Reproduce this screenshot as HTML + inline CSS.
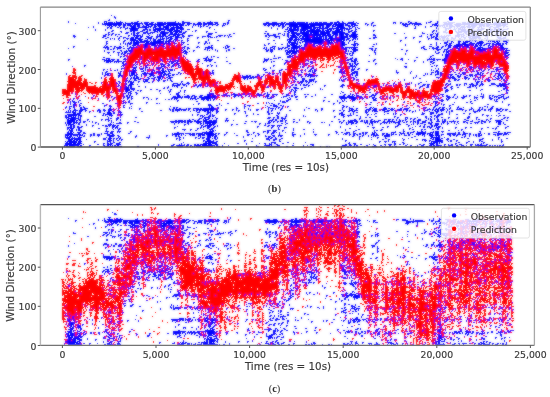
<!DOCTYPE html>
<html><head><meta charset="utf-8"><style>
html,body{margin:0;padding:0;background:#fff;}
svg{display:block;}
.t{font-family:"DejaVu Sans","Liberation Sans",sans-serif;fill:#383838;stroke:#383838;stroke-width:0.15px;}
.k{font-size:9.3px;}
.l{font-size:9.3px;}
.a{font-size:10.35px;}
.c{font-family:"Liberation Serif","DejaVu Serif",serif;font-size:10.5px;fill:#2a2a2a;}
</style></head><body>
<svg width="550" height="397" viewBox="0 0 550 397">
<defs><filter id="bl" x="0" y="0" width="550" height="397" filterUnits="userSpaceOnUse"><feGaussianBlur in="SourceGraphic" stdDeviation="0.8" result="b"/><feComposite in="SourceGraphic" in2="b" operator="arithmetic" k1="0" k2="0.45" k3="0.55" k4="0"/></filter></defs>
<rect width="550" height="397" fill="#fff"/>
<g filter="url(#bl)"><path d="M111 15h1m2 1h1m-1 1h2m-1 1h1m-7 1h1m-2 1h2m118 0h2m-162 1h1m35 0h3m9 0h1m3 0h1m16 0h2m36 0h1m6 0h2m26 0h1m17 0h1m64 0h1m43 0h2m3 0h1m10 0h1m54 0h2m20 0h2m5 0h2m8 0h2m21 0h2m-404 1h1m29 0h1m5 0h1m1 0h1m1 0h5m1 0h1m1 0h7m2 0h1m5 0h2m1 0h4m3 0h1m2 0h5m2 0h3m3 0h6m1 0h2m1 0h9m2 0h1m3 0h8m8 0h3m2 0h2m2 0h6m1 0h4m9 0h2m37 0h3m3 0h5m4 0h2m1 0h2m3 0h7m1 0h8m1 0h2m3 0h1m1 0h1m1 0h3m1 0h3m1 0h4m3 0h3m1 0h6m2 0h2m4 0h6m2 0h1m15 0h2m19 0h3m4 0h2m6 0h1m1 0h2m3 0h2m9 0h1m1 0h3m6 0h2m4 0h4m1 0h7m7 0h4m1 0h6m1 0h2m1 0h2m2 0h2m4 0h4m3 0h7m1 0h8m-435 1h1m22 0h1m3 0h1m1 0h18m1 0h1m1 0h18m1 0h4m1 0h4m2 0h1m1 0h24m1 0h3m2 0h5m1 0h2m2 0h5m1 0h10m2 0h3m5 0h3m1 0h2m34 0h22m1 0h22m1 0h24m1 0h3m1 0h8m1 0h9m1 0h2m6 0h2m4 0h2m20 0h1m1 0h1m4 0h1m1 0h2m1 0h2m2 0h12m5 0h1m8 0h3m6 0h9m3 0h5m1 0h21m1 0h5m1 0h1m2 0h13m1 0h1m-406 1h20m1 0h3m1 0h4m1 0h1m1 0h6m2 0h1m2 0h21m1 0h17m3 0h3m3 0h9m1 0h4m1 0h8m1 0h2m4 0h1m1 0h1m1 0h1m35 0h4m1 0h11m1 0h4m1 0h47m1 0h11m1 0h3m3 0h5m9 0h1m1 0h2m2 0h1m30 0h8m2 0h1m1 0h8m10 0h5m1 0h1m4 0h9m2 0h31m1 0h15m1 0h6m-403 1h1m1 0h5m1 0h4m1 0h3m2 0h3m1 0h5m1 0h3m1 0h3m3 0h1m2 0h3m2 0h2m1 0h2m1 0h7m2 0h12m1 0h5m1 0h2m1 0h1m4 0h1m1 0h1m2 0h1m1 0h1m2 0h2m3 0h1m3 0h1m3 0h2m4 0h3m39 0h2m1 0h3m2 0h3m1 0h1m1 0h3m1 0h2m1 0h1m3 0h9m1 0h10m1 0h14m2 0h5m1 0h2m1 0h9m1 0h5m1 0h2m1 0h4m9 0h1m3 0h1m1 0h3m27 0h3m1 0h1m6 0h1m3 0h1m13 0h1m1 0h11m1 0h2m1 0h4m2 0h6m3 0h1m3 0h2m1 0h6m2 0h6m1 0h4m4 0h1m1 0h10m-413 1h1m15 0h1m1 0h2m2 0h1m3 0h1m3 0h2m5 0h6m1 0h3m2 0h5m1 0h4m2 0h3m1 0h3m2 0h6m1 0h1m2 0h1m2 0h3m1 0h2m10 0h1m5 0h1m1 0h2m1 0h1m2 0h2m14 0h1m45 0h1m4 0h1m4 0h2m2 0h3m4 0h26m4 0h2m1 0h2m2 0h4m2 0h4m1 0h7m4 0h3m1 0h3m18 0h1m31 0h3m7 0h1m9 0h1m4 0h2m5 0h1m1 0h2m1 0h1m1 0h1m1 0h2m1 0h6m1 0h4m1 0h4m1 0h10m3 0h3m1 0h2m1 0h3m1 0h3m3 0h5m2 0h2m1 0h2m-420 1h1m4 0h1m13 0h2m1 0h2m5 0h2m1 0h2m1 0h2m2 0h1m3 0h5m2 0h11m1 0h1m2 0h3m3 0h2m2 0h6m2 0h12m9 0h1m7 0h1m8 0h2m60 0h1m10 0h2m3 0h2m1 0h2m1 0h6m2 0h11m1 0h8m1 0h2m1 0h4m3 0h1m3 0h9m4 0h1m2 0h1m2 0h1m1 0h1m57 0h1m9 0h1m10 0h1m6 0h3m3 0h3m2 0h1m2 0h1m2 0h6m1 0h4m1 0h3m2 0h3m1 0h1m7 0h2m2 0h6m4 0h1m-397 1h1m2 0h2m8 0h1m4 0h3m1 0h10m6 0h2m6 0h1m1 0h9m1 0h4m1 0h5m1 0h8m25 0h1m61 0h1m5 0h1m4 0h1m4 0h1m1 0h3m1 0h3m1 0h2m2 0h11m1 0h3m1 0h1m1 0h9m1 0h10m1 0h8m1 0h3m3 0h1m2 0h2m54 0h2m20 0h1m1 0h1m6 0h6m3 0h1m1 0h1m1 0h3m1 0h1m1 0h1m4 0h1m1 0h3m4 0h1m2 0h4m4 0h2m3 0h2m2 0h4m5 0h2m-414 1h1m9 0h1m19 0h1m4 0h8m5 0h5m1 0h2m2 0h22m1 0h2m2 0h4m3 0h3m24 0h1m62 0h1m7 0h3m1 0h10m1 0h8m2 0h5m1 0h4m2 0h2m3 0h5m1 0h1m2 0h7m1 0h1m1 0h4m5 0h2m81 0h1m6 0h2m1 0h1m4 0h3m2 0h8m2 0h2m1 0h2m4 0h7m2 0h3m1 0h3m1 0h3m1 0h4m1 0h5m-413 1h1m9 0h1m6 0h2m16 0h8m4 0h3m2 0h1m1 0h2m2 0h3m1 0h4m3 0h1m2 0h6m1 0h6m1 0h1m13 0h2m91 0h11m1 0h6m1 0h14m1 0h2m1 0h4m1 0h2m3 0h5m1 0h2m1 0h1m3 0h1m2 0h2m2 0h1m17 0h2m58 0h2m1 0h1m8 0h2m4 0h2m2 0h1m2 0h1m2 0h5m1 0h2m1 0h2m1 0h3m1 0h5m4 0h2m2 0h2m1 0h2m1 0h1m1 0h3m1 0h2m-393 1h2m7 0h2m8 0h2m1 0h2m5 0h3m3 0h2m6 0h4m1 0h1m1 0h4m4 0h3m1 0h9m3 0h2m5 0h1m2 0h1m10 0h2m57 0h2m17 0h2m1 0h2m1 0h4m3 0h1m2 0h2m1 0h2m1 0h19m1 0h5m1 0h11m5 0h4m2 0h3m16 0h1m58 0h2m2 0h1m6 0h3m5 0h1m3 0h2m1 0h17m1 0h5m5 0h1m2 0h3m1 0h7m1 0h2m-395 1h2m11 0h1m4 0h3m4 0h2m2 0h3m3 0h5m2 0h5m2 0h1m2 0h9m1 0h3m2 0h3m1 0h3m1 0h3m20 0h1m8 0h2m71 0h2m1 0h6m3 0h9m1 0h9m1 0h10m2 0h13m3 0h2m2 0h4m66 0h1m9 0h1m5 0h2m3 0h5m8 0h6m2 0h3m1 0h1m1 0h4m4 0h1m8 0h2m1 0h2m4 0h3m2 0h1m4 0h2m-400 1h1m3 0h2m11 0h3m3 0h1m1 0h2m1 0h3m4 0h3m1 0h4m1 0h1m7 0h8m2 0h3m1 0h3m1 0h1m3 0h3m23 0h5m20 0h2m29 0h2m1 0h2m9 0h3m3 0h1m2 0h2m2 0h18m1 0h2m1 0h6m1 0h10m2 0h6m1 0h9m4 0h4m38 0h2m8 0h1m17 0h3m8 0h1m1 0h1m1 0h2m7 0h1m1 0h2m7 0h2m4 0h1m1 0h2m1 0h5m2 0h3m4 0h2m4 0h1m7 0h3m2 0h1m4 0h3m-404 1h2m1 0h2m1 0h2m2 0h2m1 0h2m11 0h1m1 0h2m2 0h1m4 0h1m5 0h1m8 0h1m1 0h2m1 0h4m3 0h14m25 0h4m17 0h2m36 0h2m4 0h3m2 0h1m3 0h1m1 0h1m2 0h2m3 0h3m1 0h4m2 0h24m1 0h4m2 0h5m1 0h5m1 0h4m2 0h7m15 0h2m52 0h1m2 0h3m3 0h3m10 0h2m6 0h7m2 0h4m1 0h7m2 0h1m1 0h2m1 0h2m4 0h2m2 0h3m3 0h2m2 0h4m-436 1h2m28 0h3m2 0h1m2 0h1m3 0h1m12 0h2m3 0h8m1 0h1m6 0h1m7 0h1m1 0h2m1 0h4m2 0h2m3 0h3m1 0h3m2 0h2m4 0h5m14 0h2m9 0h5m1 0h2m1 0h1m1 0h1m35 0h2m1 0h8m7 0h2m2 0h2m1 0h6m1 0h2m1 0h2m1 0h18m1 0h9m1 0h2m1 0h3m1 0h5m2 0h2m1 0h8m16 0h3m45 0h1m8 0h2m4 0h2m3 0h1m2 0h1m1 0h5m4 0h5m1 0h1m1 0h2m4 0h2m1 0h3m1 0h7m1 0h4m3 0h2m2 0h5m1 0h1m3 0h3m1 0h1m-437 1h3m27 0h3m11 0h1m2 0h2m6 0h1m5 0h1m1 0h3m1 0h3m3 0h3m2 0h2m3 0h8m1 0h3m2 0h4m1 0h4m3 0h3m3 0h2m12 0h4m1 0h4m5 0h2m1 0h2m3 0h1m3 0h1m1 0h2m33 0h2m2 0h1m4 0h6m7 0h2m2 0h6m2 0h2m1 0h8m2 0h3m1 0h2m1 0h5m1 0h2m1 0h5m2 0h2m2 0h9m1 0h9m17 0h1m43 0h3m5 0h1m3 0h1m1 0h2m1 0h2m1 0h8m1 0h1m6 0h5m1 0h3m2 0h1m1 0h12m5 0h3m3 0h1m5 0h2m1 0h2m3 0h1m-432 1h1m27 0h2m3 0h2m10 0h1m3 0h3m5 0h3m1 0h3m2 0h2m5 0h5m4 0h2m2 0h1m1 0h1m3 0h1m1 0h4m3 0h7m1 0h1m13 0h2m3 0h1m5 0h1m1 0h3m1 0h1m1 0h1m11 0h1m39 0h1m6 0h2m2 0h1m8 0h1m1 0h8m1 0h1m2 0h2m1 0h17m1 0h1m1 0h2m2 0h4m2 0h2m2 0h9m2 0h1m1 0h5m16 0h4m28 0h2m6 0h2m12 0h1m3 0h3m1 0h2m2 0h1m1 0h5m1 0h1m3 0h2m2 0h1m2 0h1m2 0h1m1 0h3m2 0h3m1 0h9m6 0h1m9 0h4m2 0h3m-401 1h2m3 0h1m1 0h1m1 0h1m3 0h2m3 0h1m2 0h3m1 0h4m1 0h6m4 0h2m1 0h4m1 0h1m2 0h1m3 0h1m1 0h3m1 0h3m1 0h3m2 0h3m3 0h1m5 0h2m8 0h1m81 0h1m9 0h4m2 0h2m1 0h1m1 0h11m1 0h10m1 0h1m1 0h2m1 0h17m2 0h3m3 0h3m1 0h1m11 0h2m2 0h2m30 0h1m7 0h1m14 0h2m1 0h1m3 0h3m1 0h2m1 0h3m1 0h3m2 0h5m3 0h2m3 0h2m3 0h8m1 0h3m3 0h2m1 0h1m10 0h8m-419 1h1m22 0h1m3 0h1m3 0h1m8 0h1m2 0h6m2 0h5m4 0h1m2 0h1m2 0h3m2 0h6m2 0h1m2 0h3m2 0h4m9 0h1m20 0h1m58 0h2m18 0h6m1 0h6m1 0h28m1 0h15m1 0h3m3 0h2m1 0h1m1 0h1m70 0h1m6 0h4m1 0h1m1 0h3m1 0h3m2 0h1m1 0h2m4 0h4m1 0h1m4 0h5m1 0h1m3 0h1m1 0h2m3 0h2m8 0h2m1 0h3m1 0h1m2 0h3m-390 1h1m4 0h2m4 0h8m1 0h3m2 0h4m2 0h1m2 0h3m1 0h4m2 0h1m2 0h1m1 0h3m2 0h1m1 0h2m1 0h2m1 0h2m4 0h2m19 0h1m8 0h2m54 0h2m12 0h1m1 0h3m1 0h4m1 0h1m1 0h2m2 0h20m1 0h9m2 0h6m1 0h2m1 0h1m2 0h2m1 0h1m47 0h2m41 0h1m3 0h3m8 0h2m6 0h2m1 0h2m1 0h1m1 0h3m4 0h1m4 0h1m1 0h7m1 0h4m3 0h6m-403 1h2m15 0h2m6 0h1m1 0h2m1 0h3m1 0h10m1 0h1m1 0h11m1 0h9m1 0h1m5 0h1m5 0h1m17 0h2m81 0h3m3 0h2m1 0h1m4 0h23m1 0h4m1 0h1m1 0h1m2 0h8m5 0h1m4 0h2m44 0h1m18 0h2m26 0h1m3 0h2m5 0h3m2 0h1m1 0h5m5 0h1m3 0h4m5 0h1m1 0h1m1 0h3m1 0h2m1 0h1m3 0h4m-401 1h1m16 0h1m4 0h1m1 0h2m1 0h12m1 0h3m1 0h14m1 0h2m1 0h2m3 0h2m6 0h4m13 0h2m5 0h2m2 0h1m78 0h8m1 0h1m1 0h2m1 0h1m2 0h19m3 0h6m1 0h4m2 0h5m3 0h1m5 0h1m64 0h1m16 0h1m7 0h4m3 0h1m1 0h1m4 0h2m3 0h5m2 0h2m5 0h7m10 0h2m1 0h2m7 0h2m-402 1h2m12 0h1m2 0h1m1 0h1m1 0h5m1 0h6m6 0h26m3 0h3m4 0h1m1 0h1m14 0h1m5 0h2m1 0h1m1 0h1m58 0h2m5 0h1m11 0h1m1 0h1m1 0h7m2 0h1m4 0h3m1 0h3m1 0h10m4 0h7m3 0h1m2 0h5m3 0h1m5 0h4m18 0h1m59 0h1m3 0h1m3 0h3m2 0h3m6 0h2m2 0h4m3 0h6m1 0h7m3 0h5m1 0h2m2 0h5m1 0h2m1 0h2m-401 1h1m13 0h1m4 0h1m1 0h1m1 0h2m2 0h6m1 0h1m2 0h13m1 0h1m1 0h2m2 0h2m1 0h1m1 0h3m3 0h1m6 0h2m4 0h2m15 0h1m59 0h1m3 0h1m12 0h2m4 0h1m2 0h5m1 0h2m6 0h4m5 0h2m3 0h4m1 0h1m3 0h2m1 0h1m9 0h7m4 0h5m1 0h2m14 0h2m1 0h1m28 0h1m24 0h2m4 0h1m9 0h2m1 0h2m5 0h18m1 0h2m1 0h1m1 0h2m2 0h3m2 0h1m2 0h9m1 0h2m2 0h1m-402 1h1m21 0h1m4 0h4m1 0h3m3 0h5m3 0h6m1 0h6m5 0h1m6 0h1m4 0h1m29 0h2m13 0h2m36 0h2m21 0h3m1 0h6m2 0h1m1 0h1m2 0h3m5 0h3m1 0h2m4 0h2m4 0h1m11 0h5m8 0h3m1 0h1m47 0h1m30 0h1m8 0h2m1 0h4m2 0h9m1 0h6m1 0h3m1 0h3m1 0h3m1 0h2m3 0h2m2 0h2m1 0h2m1 0h5m-430 1h2m29 0h1m1 0h2m2 0h2m2 0h2m3 0h2m2 0h1m3 0h1m2 0h1m2 0h1m2 0h1m2 0h1m4 0h4m2 0h1m3 0h3m1 0h2m2 0h3m11 0h1m7 0h2m11 0h2m9 0h2m1 0h1m13 0h1m1 0h3m42 0h4m11 0h3m2 0h9m3 0h3m6 0h3m6 0h1m3 0h2m1 0h1m10 0h3m11 0h1m17 0h2m49 0h2m4 0h3m5 0h2m3 0h2m1 0h1m2 0h3m2 0h8m1 0h7m5 0h4m2 0h1m7 0h1m1 0h4m2 0h1m3 0h3m-430 1h1m29 0h6m5 0h1m1 0h6m7 0h9m5 0h5m2 0h1m3 0h1m2 0h2m4 0h1m1 0h1m3 0h1m12 0h3m2 0h2m7 0h2m1 0h1m5 0h8m10 0h1m1 0h1m1 0h2m35 0h1m1 0h1m3 0h3m1 0h1m3 0h1m3 0h2m1 0h3m3 0h9m1 0h4m24 0h1m11 0h3m1 0h13m63 0h3m8 0h2m2 0h3m2 0h2m5 0h3m2 0h5m1 0h2m1 0h2m2 0h4m3 0h3m2 0h5m5 0h3m1 0h1m5 0h6m-436 1h1m36 0h1m1 0h2m4 0h2m2 0h4m2 0h2m2 0h3m1 0h3m10 0h2m8 0h1m2 0h1m7 0h1m16 0h1m1 0h1m2 0h3m15 0h1m1 0h3m1 0h2m12 0h2m6 0h2m28 0h2m1 0h1m3 0h1m2 0h2m3 0h5m1 0h2m2 0h2m1 0h7m1 0h6m36 0h6m2 0h1m1 0h1m1 0h3m13 0h4m2 0h2m44 0h1m1 0h2m4 0h1m2 0h6m3 0h1m5 0h2m3 0h1m3 0h4m3 0h1m2 0h1m2 0h1m5 0h1m1 0h4m1 0h11m7 0h8m-401 1h2m1 0h2m1 0h1m3 0h1m10 0h1m2 0h2m11 0h1m8 0h2m26 0h1m1 0h1m3 0h1m16 0h2m1 0h1m4 0h1m2 0h1m12 0h2m35 0h2m1 0h1m1 0h3m1 0h1m3 0h2m1 0h1m6 0h1m2 0h1m1 0h2m1 0h1m2 0h1m2 0h3m36 0h1m1 0h4m5 0h6m13 0h2m2 0h1m25 0h2m21 0h3m6 0h1m2 0h5m3 0h4m2 0h3m5 0h2m14 0h1m1 0h11m4 0h1m8 0h5m1 0h1m-403 1h1m15 0h2m4 0h1m1 0h5m11 0h1m36 0h2m1 0h2m7 0h2m12 0h1m1 0h1m5 0h1m1 0h1m8 0h1m1 0h2m36 0h3m1 0h3m12 0h3m1 0h6m1 0h3m4 0h1m41 0h2m1 0h1m4 0h5m14 0h1m1 0h2m30 0h2m29 0h2m5 0h1m1 0h1m1 0h2m8 0h2m8 0h1m6 0h11m3 0h2m9 0h2m1 0h1m1 0h5m-406 1h1m8 0h2m6 0h1m2 0h4m1 0h4m50 0h4m2 0h1m3 0h1m23 0h1m8 0h1m39 0h2m2 0h3m12 0h1m1 0h12m46 0h2m1 0h1m1 0h2m1 0h3m18 0h1m31 0h1m28 0h1m7 0h2m1 0h4m17 0h1m11 0h4m2 0h2m16 0h1m1 0h2m-400 1h3m3 0h1m3 0h3m2 0h1m1 0h3m3 0h2m49 0h3m1 0h3m83 0h1m14 0h5m1 0h5m1 0h1m45 0h2m6 0h2m20 0h2m59 0h1m2 0h2m3 0h1m2 0h3m1 0h1m29 0h1m1 0h1m8 0h1m7 0h1m3 0h6m-401 1h1m9 0h1m2 0h2m1 0h2m1 0h4m53 0h3m99 0h2m1 0h1m1 0h6m48 0h3m1 0h2m1 0h2m21 0h1m29 0h1m30 0h3m7 0h1m1 0h2m25 0h1m28 0h4m-390 1h1m2 0h1m1 0h2m2 0h1m1 0h1m56 0h1m99 0h3m2 0h1m2 0h2m51 0h1m1 0h1m2 0h1m22 0h1m29 0h1m36 0h1m2 0h5m25 0h1m1 0h1m26 0h2m2 0h2m-400 1h1m7 0h1m5 0h2m57 0h1m90 0h1m14 0h2m1 0h2m51 0h1m4 0h3m16 0h1m62 0h2m8 0h1m2 0h4m55 0h5m-389 1h2m1 0h2m2 0h1m13 0h1m37 0h1m3 0h2m22 0h1m3 0h1m1 0h2m59 0h1m12 0h6m3 0h2m47 0h1m84 0h2m13 0h4m56 0h3m-405 1h2m15 0h1m6 0h1m13 0h1m8 0h1m21 0h1m5 0h2m26 0h2m3 0h1m5 0h2m7 0h1m51 0h3m6 0h4m1 0h2m53 0h1m4 0h1m63 0h2m12 0h1m14 0h3m56 0h2m2 0h1m-403 1h4m14 0h2m1 0h1m13 0h1m18 0h1m11 0h1m5 0h1m24 0h4m1 0h1m55 0h1m3 0h1m4 0h4m1 0h1m67 0h1m3 0h3m2 0h2m38 0h1m5 0h2m26 0h1m1 0h1m1 0h2m9 0h4m58 0h2m-440 1h2m32 0h3m1 0h1m1 0h2m1 0h4m2 0h2m4 0h4m13 0h2m18 0h2m5 0h2m1 0h1m1 0h2m4 0h2m6 0h2m10 0h2m5 0h2m1 0h5m51 0h5m1 0h2m10 0h1m23 0h1m4 0h1m28 0h1m6 0h5m2 0h3m17 0h2m21 0h1m2 0h3m5 0h1m18 0h8m1 0h5m1 0h5m59 0h1m-439 1h1m35 0h7m1 0h2m3 0h2m6 0h1m13 0h1m7 0h2m11 0h3m4 0h1m2 0h1m3 0h5m18 0h2m5 0h8m52 0h4m17 0h3m2 0h1m15 0h3m5 0h1m27 0h1m2 0h4m2 0h2m1 0h3m16 0h2m27 0h1m11 0h2m11 0h1m5 0h2m2 0h1m4 0h5m49 0h1m-393 1h1m1 0h7m1 0h8m1 0h3m10 0h1m2 0h1m1 0h1m6 0h2m1 0h1m10 0h1m6 0h7m1 0h2m11 0h1m5 0h4m6 0h1m2 0h2m15 0h2m35 0h2m1 0h1m4 0h1m1 0h2m11 0h5m14 0h1m2 0h1m1 0h3m2 0h1m24 0h2m9 0h5m1 0h1m10 0h2m3 0h1m40 0h1m8 0h1m6 0h3m11 0h3m24 0h1m23 0h1m5 0h1m-396 1h3m1 0h1m3 0h1m1 0h1m1 0h1m3 0h2m11 0h2m4 0h1m4 0h1m4 0h1m1 0h1m2 0h2m11 0h1m1 0h3m2 0h2m36 0h2m47 0h1m7 0h1m13 0h2m23 0h3m2 0h1m31 0h2m5 0h2m67 0h1m6 0h2m1 0h2m9 0h2m14 0h1m46 0h1m-386 1h2m1 0h2m8 0h1m5 0h2m10 0h1m6 0h3m4 0h2m2 0h2m1 0h6m22 0h1m26 0h2m53 0h2m14 0h1m1 0h1m2 0h4m2 0h2m27 0h2m5 0h1m1 0h2m1 0h1m1 0h2m1 0h2m16 0h2m28 0h2m25 0h2m10 0h2m14 0h1m4 0h1m30 0h1m11 0h1m-386 1h4m6 0h2m1 0h2m2 0h1m6 0h2m3 0h2m2 0h1m3 0h5m3 0h2m3 0h2m2 0h2m31 0h1m73 0h1m15 0h1m1 0h1m2 0h1m1 0h1m2 0h1m31 0h1m6 0h2m1 0h1m2 0h3m17 0h1m54 0h1m22 0h3m7 0h2m6 0h1m16 0h1m-405 1h2m36 0h3m8 0h1m1 0h1m9 0h3m2 0h1m1 0h1m8 0h1m1 0h2m2 0h3m2 0h3m1 0h1m1 0h2m27 0h2m2 0h2m3 0h1m56 0h2m28 0h1m1 0h2m33 0h2m8 0h3m1 0h1m1 0h1m77 0h1m1 0h2m18 0h1m22 0h1m8 0h1m-417 1h1m11 0h1m36 0h1m1 0h1m8 0h1m3 0h1m3 0h2m3 0h2m14 0h5m2 0h1m2 0h3m4 0h1m1 0h1m14 0h1m11 0h1m3 0h1m4 0h1m56 0h1m26 0h1m1 0h2m6 0h2m1 0h1m24 0h2m8 0h8m48 0h3m24 0h2m3 0h1m6 0h1m7 0h1m4 0h1m12 0h3m5 0h1m1 0h1m4 0h1m2 0h3m-366 1h1m7 0h5m6 0h1m1 0h3m1 0h1m6 0h6m2 0h1m1 0h1m4 0h1m6 0h3m89 0h1m29 0h1m1 0h2m3 0h2m3 0h2m24 0h3m1 0h1m6 0h1m2 0h1m2 0h1m49 0h2m45 0h1m3 0h1m5 0h2m5 0h5m2 0h1m1 0h1m9 0h2m6 0h3m-389 1h1m10 0h4m8 0h3m4 0h4m1 0h1m3 0h1m6 0h5m1 0h2m3 0h1m95 0h2m5 0h1m36 0h1m3 0h3m29 0h1m4 0h2m2 0h1m1 0h1m3 0h2m75 0h1m2 0h1m23 0h1m3 0h1m3 0h2m1 0h1m1 0h1m2 0h2m1 0h1m14 0h2m2 0h3m-400 1h2m2 0h1m9 0h1m3 0h1m10 0h2m1 0h1m4 0h3m2 0h1m1 0h1m4 0h2m4 0h2m2 0h2m3 0h6m1 0h1m88 0h1m1 0h2m14 0h2m2 0h2m18 0h1m4 0h2m2 0h2m24 0h4m7 0h4m2 0h2m7 0h2m63 0h1m6 0h1m11 0h2m7 0h3m3 0h2m3 0h1m2 0h1m5 0h3m3 0h1m2 0h2m3 0h1m1 0h6m-398 1h1m6 0h2m2 0h2m1 0h1m11 0h1m2 0h5m6 0h1m1 0h1m1 0h2m1 0h1m1 0h3m6 0h3m1 0h1m2 0h1m1 0h3m1 0h1m6 0h2m29 0h2m50 0h2m6 0h3m4 0h3m12 0h1m5 0h3m1 0h2m3 0h2m1 0h1m1 0h3m23 0h2m2 0h1m6 0h3m12 0h1m29 0h1m34 0h1m1 0h1m2 0h2m14 0h2m2 0h2m2 0h1m4 0h1m3 0h1m3 0h1m2 0h1m1 0h1m2 0h1m1 0h2m3 0h1m7 0h2m-392 1h2m12 0h2m1 0h1m5 0h7m5 0h3m7 0h2m1 0h1m1 0h5m1 0h5m1 0h2m33 0h1m8 0h1m59 0h2m5 0h1m13 0h5m3 0h1m6 0h3m1 0h1m1 0h2m23 0h3m1 0h2m6 0h1m2 0h4m38 0h1m14 0h1m23 0h4m11 0h2m8 0h1m5 0h2m3 0h4m1 0h2m4 0h2m7 0h4m1 0h1m2 0h2m-399 1h1m2 0h2m11 0h1m1 0h1m8 0h1m1 0h5m8 0h2m1 0h1m3 0h3m2 0h9m4 0h1m8 0h2m4 0h1m18 0h1m5 0h2m1 0h2m51 0h3m1 0h1m9 0h2m20 0h2m9 0h3m24 0h6m7 0h6m38 0h3m11 0h1m20 0h3m1 0h1m1 0h2m1 0h2m8 0h1m3 0h2m6 0h4m11 0h2m1 0h2m6 0h1m2 0h1m7 0h1m-434 1h1m35 0h1m2 0h1m1 0h4m7 0h3m8 0h1m1 0h4m1 0h1m5 0h12m2 0h1m1 0h5m1 0h2m2 0h3m7 0h1m1 0h2m21 0h1m5 0h5m54 0h3m1 0h3m3 0h1m1 0h1m12 0h1m1 0h2m9 0h1m2 0h1m3 0h3m25 0h1m1 0h3m5 0h4m1 0h2m39 0h1m12 0h1m14 0h1m1 0h1m3 0h1m5 0h2m1 0h3m15 0h2m2 0h4m11 0h2m1 0h1m1 0h2m3 0h1m2 0h1m4 0h5m1 0h3m-438 1h1m35 0h1m2 0h4m1 0h1m8 0h2m2 0h1m5 0h1m1 0h4m1 0h2m3 0h1m1 0h4m2 0h5m6 0h2m1 0h6m3 0h3m1 0h2m2 0h1m6 0h1m15 0h1m6 0h1m2 0h1m43 0h2m4 0h2m4 0h1m2 0h2m3 0h1m2 0h1m14 0h1m2 0h4m3 0h8m29 0h1m7 0h3m3 0h2m67 0h1m1 0h1m2 0h2m3 0h4m1 0h2m6 0h5m2 0h2m3 0h2m1 0h2m4 0h4m2 0h6m1 0h1m12 0h1m2 0h3m1 0h1m1 0h2m-402 1h2m1 0h3m8 0h5m6 0h4m1 0h3m4 0h1m2 0h3m3 0h5m4 0h3m1 0h2m1 0h1m1 0h3m1 0h2m66 0h1m1 0h1m3 0h2m1 0h2m6 0h3m3 0h1m11 0h1m4 0h1m11 0h1m5 0h3m4 0h2m1 0h10m24 0h1m7 0h1m1 0h1m2 0h3m58 0h1m6 0h2m10 0h1m4 0h2m8 0h2m5 0h2m1 0h1m5 0h2m1 0h4m1 0h3m3 0h4m10 0h1m3 0h3m2 0h2m-401 1h1m13 0h2m1 0h2m7 0h1m3 0h1m1 0h2m3 0h1m7 0h2m2 0h1m3 0h7m4 0h2m72 0h9m1 0h2m1 0h3m1 0h1m1 0h2m30 0h2m3 0h1m2 0h2m2 0h1m1 0h2m1 0h5m1 0h1m26 0h3m4 0h1m4 0h1m16 0h2m42 0h1m23 0h1m6 0h2m1 0h1m1 0h2m3 0h4m3 0h2m4 0h1m1 0h1m2 0h1m4 0h1m12 0h2m2 0h2m1 0h2m1 0h1m5 0h1m-409 1h1m16 0h1m3 0h1m4 0h1m3 0h1m1 0h2m1 0h3m5 0h1m2 0h2m5 0h2m1 0h4m1 0h2m2 0h2m1 0h4m68 0h8m1 0h7m3 0h2m3 0h1m24 0h1m1 0h4m5 0h1m8 0h1m29 0h1m2 0h1m7 0h3m2 0h1m15 0h1m40 0h1m1 0h1m20 0h4m8 0h7m3 0h2m4 0h4m7 0h1m1 0h4m2 0h1m4 0h2m5 0h1m2 0h1m1 0h3m2 0h1m-405 1h1m24 0h2m2 0h2m1 0h6m1 0h2m6 0h2m1 0h4m3 0h3m1 0h1m2 0h1m2 0h3m72 0h3m1 0h1m1 0h3m1 0h1m3 0h1m2 0h2m18 0h1m13 0h2m6 0h3m9 0h1m25 0h1m4 0h2m3 0h1m2 0h2m58 0h1m5 0h2m17 0h1m10 0h2m1 0h4m8 0h3m1 0h2m3 0h2m3 0h1m3 0h1m5 0h1m7 0h4m1 0h2m2 0h1m-380 1h1m3 0h1m3 0h2m2 0h3m2 0h6m4 0h2m1 0h1m1 0h2m1 0h1m5 0h1m2 0h1m73 0h1m2 0h1m32 0h1m14 0h2m5 0h3m4 0h6m24 0h1m1 0h1m1 0h3m1 0h1m5 0h2m1 0h3m45 0h1m49 0h3m1 0h2m5 0h1m2 0h1m4 0h1m1 0h2m1 0h2m2 0h1m2 0h5m3 0h3m1 0h2m2 0h1m1 0h2m1 0h1m-382 1h3m1 0h1m4 0h3m6 0h1m1 0h3m5 0h1m3 0h3m3 0h3m1 0h1m2 0h2m116 0h2m4 0h1m7 0h2m1 0h2m2 0h5m25 0h1m1 0h3m3 0h1m5 0h1m2 0h1m47 0h1m28 0h1m14 0h2m4 0h2m1 0h2m16 0h1m11 0h4m12 0h2m2 0h1m-390 1h2m5 0h2m1 0h4m1 0h1m4 0h2m3 0h5m4 0h2m4 0h1m4 0h2m6 0h2m8 0h2m108 0h1m1 0h3m1 0h2m1 0h4m1 0h3m1 0h3m1 0h1m1 0h2m25 0h2m14 0h1m30 0h1m10 0h1m25 0h1m21 0h3m24 0h1m1 0h3m1 0h2m5 0h2m11 0h1m2 0h3m-406 1h1m14 0h1m2 0h2m4 0h1m2 0h1m1 0h4m4 0h1m5 0h1m3 0h2m2 0h1m28 0h1m5 0h2m27 0h2m73 0h1m2 0h1m4 0h4m3 0h1m1 0h2m5 0h1m40 0h1m37 0h1m3 0h1m12 0h1m8 0h2m54 0h3m2 0h1m24 0h1m-406 1h1m14 0h2m1 0h1m5 0h2m3 0h3m40 0h5m2 0h1m1 0h1m3 0h4m11 0h1m4 0h2m90 0h2m1 0h1m6 0h1m48 0h3m3 0h2m19 0h1m8 0h2m10 0h1m1 0h3m1 0h1m6 0h2m26 0h2m2 0h1m13 0h3m4 0h2m3 0h2m3 0h2m8 0h4m4 0h2m1 0h4m2 0h2m-402 1h1m9 0h1m6 0h2m2 0h5m3 0h1m34 0h2m3 0h4m1 0h4m2 0h1m6 0h2m2 0h3m3 0h1m1 0h1m5 0h1m2 0h1m46 0h1m17 0h1m10 0h2m1 0h2m3 0h1m2 0h2m1 0h2m4 0h1m29 0h2m19 0h1m19 0h1m2 0h2m5 0h1m1 0h2m8 0h1m1 0h3m5 0h1m2 0h1m4 0h3m1 0h3m15 0h2m1 0h3m5 0h2m1 0h2m3 0h1m1 0h1m2 0h5m2 0h2m2 0h4m7 0h5m3 0h10m-391 1h2m4 0h2m2 0h4m40 0h8m3 0h2m1 0h1m7 0h3m1 0h4m5 0h2m4 0h1m3 0h1m73 0h2m2 0h2m3 0h1m2 0h4m1 0h2m14 0h2m15 0h4m2 0h1m14 0h1m9 0h1m1 0h3m6 0h1m2 0h1m2 0h3m1 0h1m8 0h1m3 0h1m8 0h1m6 0h3m2 0h2m16 0h1m1 0h2m7 0h2m1 0h1m4 0h1m5 0h1m1 0h5m2 0h2m1 0h1m6 0h2m5 0h10m-390 1h3m1 0h1m4 0h2m1 0h1m1 0h2m6 0h2m5 0h1m22 0h1m3 0h1m1 0h1m1 0h2m8 0h1m6 0h2m2 0h2m1 0h1m4 0h3m59 0h2m3 0h1m17 0h1m17 0h1m15 0h1m15 0h3m25 0h2m3 0h4m3 0h2m11 0h1m11 0h2m13 0h3m4 0h2m17 0h1m4 0h2m16 0h2m1 0h2m1 0h1m3 0h1m17 0h2m1 0h2m1 0h5m-388 1h2m2 0h5m1 0h2m13 0h1m18 0h1m2 0h2m8 0h1m3 0h2m14 0h1m4 0h1m7 0h1m55 0h3m18 0h1m2 0h1m2 0h4m7 0h2m36 0h1m7 0h1m17 0h1m4 0h2m6 0h1m23 0h1m13 0h2m5 0h3m15 0h3m3 0h2m5 0h2m8 0h4m5 0h1m28 0h2m-387 1h1m3 0h5m1 0h5m28 0h2m2 0h1m13 0h1m104 0h1m2 0h1m4 0h5m2 0h2m17 0h1m98 0h1m22 0h1m1 0h2m5 0h2m23 0h1m26 0h4m-389 1h3m3 0h6m1 0h4m15 0h2m4 0h2m12 0h2m119 0h2m2 0h1m5 0h1m18 0h1m1 0h1m46 0h2m44 0h2m29 0h2m3 0h1m29 0h2m20 0h2m1 0h2m-389 1h1m5 0h5m3 0h1m3 0h2m1 0h2m17 0h2m7 0h1m1 0h1m9 0h1m3 0h2m103 0h1m1 0h1m1 0h1m1 0h2m72 0h1m75 0h4m20 0h2m9 0h1m20 0h1m4 0h3m-398 1h1m7 0h2m4 0h3m2 0h2m8 0h1m18 0h1m9 0h2m9 0h1m3 0h1m26 0h1m78 0h2m2 0h2m45 0h1m11 0h1m91 0h3m50 0h2m6 0h1m-397 1h2m14 0h1m1 0h3m4 0h2m32 0h1m8 0h2m4 0h1m24 0h1m57 0h1m2 0h1m19 0h1m3 0h2m46 0h2m25 0h2m6 0h2m41 0h1m24 0h1m60 0h2m-436 1h1m2 0h1m47 0h3m2 0h1m1 0h2m4 0h2m22 0h1m15 0h3m30 0h5m12 0h2m5 0h2m4 0h1m3 0h2m3 0h3m6 0h2m5 0h2m1 0h1m15 0h1m4 0h1m5 0h1m45 0h1m9 0h1m5 0h2m17 0h3m42 0h1m60 0h1m24 0h2m-433 1h1m29 0h1m17 0h1m4 0h1m1 0h1m5 0h1m33 0h1m5 0h3m5 0h1m22 0h7m9 0h4m4 0h7m1 0h2m1 0h3m2 0h2m7 0h6m1 0h2m2 0h3m2 0h6m4 0h1m3 0h3m5 0h2m8 0h2m1 0h2m6 0h1m15 0h2m11 0h2m4 0h1m1 0h2m2 0h1m5 0h2m2 0h2m4 0h2m1 0h2m59 0h1m3 0h4m10 0h2m25 0h1m1 0h1m17 0h4m-426 1h1m13 0h2m28 0h1m2 0h2m1 0h2m46 0h3m7 0h2m3 0h3m5 0h3m4 0h4m1 0h4m1 0h3m1 0h9m1 0h1m2 0h8m3 0h2m2 0h1m1 0h1m5 0h6m3 0h3m3 0h2m2 0h1m9 0h4m1 0h2m1 0h1m20 0h1m27 0h2m3 0h2m2 0h1m1 0h1m1 0h3m12 0h5m21 0h2m34 0h2m4 0h1m2 0h1m3 0h2m6 0h1m8 0h1m2 0h1m2 0h2m6 0h1m5 0h1m5 0h2m1 0h2m4 0h3m2 0h1m-429 1h1m9 0h1m7 0h1m17 0h2m10 0h2m1 0h2m1 0h1m1 0h2m40 0h3m1 0h4m1 0h1m1 0h6m1 0h2m1 0h3m2 0h3m2 0h13m7 0h1m2 0h1m1 0h1m3 0h3m2 0h1m2 0h2m2 0h1m2 0h2m1 0h1m1 0h1m2 0h1m2 0h1m5 0h4m2 0h1m1 0h2m8 0h4m4 0h2m2 0h3m7 0h2m4 0h2m26 0h6m2 0h7m2 0h6m3 0h1m3 0h3m2 0h1m5 0h2m2 0h1m1 0h2m2 0h1m1 0h1m39 0h6m4 0h2m2 0h4m3 0h1m3 0h1m5 0h4m2 0h1m4 0h1m5 0h4m5 0h1m2 0h1m1 0h4m3 0h3m4 0h1m-418 1h2m13 0h1m4 0h1m2 0h2m7 0h2m2 0h3m1 0h1m11 0h2m1 0h2m24 0h11m1 0h6m1 0h1m2 0h2m3 0h18m17 0h1m6 0h1m12 0h1m8 0h1m1 0h1m1 0h1m2 0h4m7 0h1m1 0h1m5 0h1m5 0h2m8 0h1m18 0h2m13 0h18m2 0h4m1 0h2m3 0h1m2 0h3m5 0h1m5 0h1m2 0h2m2 0h1m12 0h1m10 0h1m13 0h1m2 0h1m3 0h1m8 0h4m1 0h2m3 0h1m3 0h4m9 0h4m4 0h2m5 0h2m3 0h1m1 0h1m1 0h4m1 0h1m2 0h3m-436 1h2m3 0h1m12 0h1m6 0h1m14 0h2m8 0h1m3 0h2m2 0h2m10 0h1m4 0h1m7 0h2m13 0h2m1 0h4m3 0h1m6 0h1m1 0h6m1 0h2m2 0h10m1 0h1m1 0h2m51 0h5m15 0h1m2 0h1m49 0h7m2 0h8m2 0h2m1 0h2m2 0h2m4 0h2m1 0h2m3 0h2m1 0h1m5 0h2m2 0h1m28 0h1m12 0h1m1 0h3m6 0h1m1 0h2m5 0h2m5 0h2m10 0h1m1 0h1m5 0h1m6 0h4m5 0h2m3 0h4m-438 1h2m2 0h1m3 0h1m20 0h1m14 0h1m13 0h1m3 0h1m16 0h1m2 0h1m4 0h1m8 0h1m2 0h2m1 0h1m2 0h1m1 0h1m13 0h1m1 0h1m2 0h2m4 0h4m1 0h3m1 0h1m2 0h2m73 0h3m5 0h2m43 0h1m2 0h1m6 0h5m1 0h1m1 0h1m2 0h1m10 0h3m7 0h1m38 0h1m12 0h1m2 0h1m2 0h2m3 0h3m21 0h1m6 0h1m12 0h2m2 0h1m1 0h2m6 0h1m-436 1h1m2 0h1m6 0h2m28 0h2m12 0h2m4 0h1m47 0h2m24 0h1m3 0h2m1 0h1m2 0h1m60 0h1m5 0h1m5 0h3m34 0h2m12 0h1m4 0h1m1 0h1m7 0h3m18 0h4m45 0h1m6 0h1m9 0h5m3 0h1m26 0h2m18 0h1m1 0h1m-429 1h1m1 0h1m1 0h3m3 0h1m30 0h1m12 0h2m4 0h2m47 0h1m18 0h2m82 0h1m1 0h3m1 0h2m35 0h1m4 0h2m7 0h1m4 0h2m2 0h1m5 0h1m11 0h1m20 0h2m17 0h1m11 0h1m5 0h1m1 0h1m8 0h5m3 0h2m27 0h2m23 0h3m4 0h1m-436 1h2m1 0h1m2 0h4m1 0h1m44 0h4m1 0h2m16 0h2m118 0h1m1 0h1m13 0h4m53 0h2m29 0h2m13 0h1m6 0h1m10 0h2m28 0h1m1 0h3m16 0h1m11 0h2m2 0h1m31 0h1m-433 1h1m3 0h2m4 0h2m20 0h2m11 0h3m4 0h2m1 0h1m4 0h3m13 0h1m9 0h2m1 0h1m38 0h2m19 0h1m7 0h2m28 0h2m7 0h1m2 0h1m1 0h2m5 0h2m53 0h2m4 0h1m37 0h1m35 0h2m20 0h2m2 0h1m1 0h1m29 0h2m-403 1h1m2 0h3m3 0h1m26 0h1m23 0h1m62 0h1m4 0h1m9 0h3m8 0h1m24 0h2m27 0h2m3 0h1m54 0h1m32 0h2m1 0h2m10 0h1m31 0h1m16 0h1m4 0h1m1 0h2m2 0h1m1 0h2m7 0h2m33 0h2m19 0h2m-437 1h4m2 0h2m23 0h3m2 0h2m12 0h2m83 0h4m4 0h2m3 0h1m22 0h1m2 0h4m14 0h1m4 0h2m1 0h4m3 0h2m1 0h1m58 0h2m37 0h1m20 0h1m3 0h2m9 0h2m16 0h3m5 0h1m5 0h2m57 0h1m-443 1h1m2 0h3m1 0h2m4 0h1m3 0h1m20 0h1m4 0h3m5 0h1m5 0h1m7 0h1m38 0h1m38 0h1m1 0h2m31 0h2m3 0h1m17 0h1m5 0h5m4 0h2m3 0h2m54 0h2m1 0h2m5 0h1m52 0h1m11 0h2m14 0h2m13 0h1m8 0h1m25 0h2m1 0h1m4 0h2m-429 1h2m2 0h1m3 0h2m5 0h2m1 0h2m25 0h1m12 0h2m4 0h1m43 0h2m1 0h2m31 0h1m1 0h3m3 0h2m17 0h1m7 0h1m20 0h1m2 0h2m6 0h1m1 0h2m2 0h1m4 0h1m18 0h1m35 0h2m2 0h1m2 0h1m15 0h2m3 0h2m1 0h1m10 0h2m16 0h1m6 0h1m13 0h4m6 0h2m4 0h2m1 0h3m5 0h1m6 0h2m4 0h1m7 0h1m7 0h2m1 0h1m4 0h1m3 0h2m-428 1h1m3 0h2m3 0h1m5 0h2m2 0h4m21 0h2m2 0h1m4 0h1m10 0h1m1 0h1m7 0h2m28 0h1m3 0h2m1 0h1m2 0h2m5 0h1m1 0h3m2 0h6m1 0h2m1 0h13m1 0h2m17 0h2m6 0h1m3 0h1m12 0h1m6 0h1m1 0h4m1 0h1m2 0h1m2 0h2m25 0h2m11 0h2m19 0h1m6 0h4m3 0h2m11 0h2m1 0h1m1 0h3m6 0h4m1 0h2m1 0h2m1 0h1m5 0h2m2 0h5m14 0h1m1 0h1m3 0h1m3 0h1m2 0h1m1 0h2m2 0h2m2 0h1m2 0h2m6 0h1m1 0h3m9 0h2m6 0h1m2 0h1m7 0h3m3 0h2m2 0h2m-433 1h1m4 0h2m4 0h6m12 0h2m3 0h2m3 0h5m2 0h1m2 0h1m20 0h1m29 0h2m1 0h2m1 0h12m1 0h2m3 0h1m2 0h22m7 0h2m5 0h2m2 0h1m11 0h1m1 0h1m5 0h3m2 0h1m6 0h1m3 0h1m2 0h1m4 0h2m22 0h1m10 0h2m4 0h2m19 0h1m6 0h1m1 0h3m2 0h1m9 0h5m2 0h4m4 0h6m3 0h4m3 0h5m1 0h5m11 0h1m3 0h2m2 0h4m1 0h2m1 0h4m1 0h5m2 0h1m1 0h1m6 0h8m5 0h3m1 0h1m4 0h2m1 0h2m1 0h2m2 0h4m4 0h5m1 0h2m1 0h3m-440 1h1m1 0h1m2 0h5m1 0h4m2 0h2m10 0h4m2 0h3m2 0h4m2 0h1m4 0h1m40 0h2m8 0h1m1 0h2m1 0h5m1 0h1m1 0h3m2 0h1m4 0h2m1 0h2m1 0h2m1 0h7m1 0h4m2 0h2m7 0h1m6 0h1m3 0h1m1 0h2m10 0h1m5 0h2m10 0h1m2 0h2m7 0h1m8 0h2m13 0h1m10 0h1m1 0h1m3 0h1m11 0h2m4 0h2m2 0h2m4 0h4m1 0h4m7 0h2m1 0h2m2 0h5m2 0h2m1 0h3m2 0h3m1 0h2m1 0h2m1 0h5m1 0h1m2 0h2m1 0h2m4 0h1m3 0h1m4 0h4m4 0h1m1 0h2m1 0h2m1 0h4m3 0h1m3 0h2m9 0h1m2 0h2m2 0h1m3 0h1m3 0h4m3 0h2m2 0h1m1 0h1m5 0h4m2 0h1m2 0h2m-441 1h1m1 0h1m1 0h1m1 0h2m1 0h1m3 0h3m3 0h1m3 0h2m2 0h1m3 0h1m1 0h2m3 0h1m3 0h2m2 0h2m4 0h3m20 0h2m29 0h2m3 0h1m12 0h1m5 0h1m2 0h1m4 0h2m1 0h2m1 0h1m1 0h1m3 0h3m19 0h1m5 0h2m21 0h2m2 0h1m45 0h1m15 0h1m9 0h1m4 0h2m2 0h3m10 0h2m1 0h1m3 0h1m1 0h4m6 0h5m6 0h1m10 0h1m2 0h1m2 0h2m1 0h1m8 0h1m4 0h1m5 0h4m2 0h1m4 0h1m2 0h1m1 0h2m12 0h1m7 0h5m1 0h1m10 0h1m5 0h1m3 0h2m7 0h2m-446 1h6m1 0h4m3 0h2m8 0h1m9 0h2m6 0h4m2 0h2m3 0h4m75 0h3m7 0h4m5 0h2m27 0h1m21 0h2m8 0h1m1 0h1m61 0h2m10 0h1m2 0h2m7 0h3m16 0h1m10 0h1m16 0h1m9 0h1m7 0h4m2 0h2m8 0h1m2 0h1m24 0h2m-403 1h3m1 0h4m22 0h2m2 0h5m1 0h2m5 0h1m86 0h2m1 0h1m5 0h1m17 0h2m9 0h1m7 0h1m14 0h2m1 0h2m4 0h3m59 0h4m7 0h1m2 0h1m12 0h1m8 0h2m10 0h2m4 0h1m1 0h2m6 0h2m17 0h3m5 0h4m2 0h1m4 0h2m6 0h1m13 0h2m4 0h2m27 0h2m-433 1h13m23 0h1m1 0h7m5 0h6m69 0h1m4 0h2m7 0h2m2 0h1m1 0h1m21 0h1m18 0h1m3 0h2m9 0h2m8 0h1m7 0h1m52 0h1m1 0h4m5 0h1m2 0h1m13 0h2m2 0h1m2 0h1m9 0h1m8 0h1m1 0h1m4 0h2m19 0h3m6 0h2m6 0h5m6 0h1m6 0h2m11 0h1m12 0h2m-419 1h2m1 0h9m1 0h4m20 0h2m1 0h1m3 0h4m4 0h1m2 0h2m70 0h1m4 0h1m2 0h3m1 0h1m4 0h2m1 0h3m31 0h2m28 0h2m8 0h1m16 0h1m37 0h3m3 0h5m4 0h2m9 0h1m32 0h1m33 0h2m1 0h3m42 0h1m3 0h3m2 0h1m4 0h1m2 0h2m2 0h2m-440 1h2m1 0h4m1 0h1m1 0h1m2 0h1m1 0h2m12 0h2m11 0h1m3 0h1m8 0h1m79 0h1m1 0h2m4 0h3m1 0h2m32 0h1m30 0h2m6 0h2m16 0h1m1 0h1m28 0h2m7 0h2m3 0h1m11 0h1m14 0h2m17 0h2m29 0h2m3 0h2m2 0h1m1 0h3m29 0h2m17 0h1m10 0h1m-434 1h4m2 0h5m2 0h1m1 0h1m27 0h1m8 0h2m1 0h1m14 0h2m65 0h1m1 0h6m5 0h1m52 0h3m2 0h2m2 0h2m2 0h2m2 0h1m48 0h1m8 0h1m16 0h1m4 0h2m2 0h2m23 0h1m2 0h2m6 0h3m9 0h1m7 0h2m4 0h1m4 0h2m3 0h2m5 0h2m7 0h1m9 0h3m6 0h2m26 0h2m1 0h2m-443 1h1m1 0h11m1 0h1m27 0h1m1 0h2m4 0h3m80 0h3m2 0h2m2 0h2m2 0h1m3 0h2m8 0h2m39 0h3m3 0h1m3 0h2m2 0h5m73 0h2m36 0h1m7 0h1m1 0h1m2 0h2m2 0h2m10 0h1m1 0h1m1 0h1m3 0h1m2 0h1m10 0h1m7 0h2m9 0h2m7 0h1m13 0h2m11 0h2m2 0h1m-441 1h2m1 0h6m2 0h3m6 0h2m12 0h2m2 0h4m7 0h2m2 0h1m68 0h1m2 0h2m4 0h2m3 0h1m1 0h4m7 0h1m9 0h1m45 0h2m1 0h2m5 0h1m1 0h1m8 0h2m4 0h1m38 0h2m14 0h2m3 0h1m11 0h2m11 0h3m1 0h3m1 0h2m2 0h1m2 0h1m5 0h2m3 0h1m2 0h2m3 0h3m7 0h1m1 0h2m2 0h1m2 0h2m3 0h1m1 0h2m18 0h2m10 0h1m1 0h2m6 0h2m2 0h1m10 0h2m-436 1h8m1 0h2m1 0h2m6 0h1m13 0h1m3 0h1m2 0h2m1 0h1m4 0h1m3 0h1m54 0h2m1 0h5m1 0h2m1 0h4m3 0h2m1 0h2m4 0h4m2 0h3m1 0h4m8 0h4m4 0h1m35 0h4m2 0h2m3 0h3m2 0h2m12 0h1m43 0h2m3 0h1m1 0h7m4 0h2m1 0h1m1 0h2m2 0h2m2 0h1m3 0h3m3 0h1m3 0h2m2 0h1m3 0h1m2 0h2m1 0h2m1 0h1m7 0h1m3 0h4m4 0h2m3 0h2m5 0h2m3 0h1m1 0h2m7 0h1m12 0h3m3 0h1m8 0h2m3 0h1m1 0h1m6 0h6m5 0h2m-441 1h8m1 0h1m3 0h1m2 0h3m3 0h1m2 0h1m15 0h1m2 0h1m22 0h2m34 0h16m1 0h6m1 0h8m1 0h14m8 0h1m1 0h1m17 0h2m4 0h2m1 0h3m11 0h2m1 0h1m1 0h2m2 0h2m1 0h3m2 0h1m7 0h2m12 0h2m22 0h2m6 0h2m2 0h1m4 0h5m1 0h4m2 0h3m1 0h1m1 0h2m2 0h9m4 0h2m2 0h8m3 0h3m1 0h1m3 0h2m2 0h2m1 0h3m1 0h2m3 0h4m5 0h1m4 0h4m2 0h4m1 0h1m1 0h7m1 0h2m4 0h3m4 0h3m5 0h2m1 0h5m3 0h2m5 0h6m-437 1h1m1 0h5m1 0h5m1 0h2m2 0h2m7 0h1m2 0h2m14 0h1m1 0h1m5 0h2m6 0h2m8 0h2m32 0h3m1 0h2m1 0h2m1 0h2m1 0h2m1 0h2m1 0h2m4 0h5m2 0h1m1 0h12m38 0h1m12 0h3m2 0h1m3 0h1m7 0h1m7 0h1m2 0h2m9 0h1m1 0h2m10 0h2m1 0h1m14 0h1m1 0h2m3 0h1m1 0h6m2 0h2m6 0h4m2 0h3m1 0h2m1 0h1m4 0h6m1 0h1m1 0h1m1 0h7m3 0h2m1 0h1m3 0h1m2 0h1m1 0h1m1 0h2m3 0h4m2 0h2m1 0h2m9 0h3m2 0h1m3 0h1m2 0h1m2 0h1m5 0h2m1 0h2m6 0h5m2 0h1m2 0h2m3 0h1m6 0h1m1 0h3m2 0h1m-439 1h1m1 0h4m2 0h2m1 0h1m1 0h2m15 0h1m2 0h1m11 0h1m5 0h6m5 0h1m46 0h1m3 0h1m8 0h2m8 0h2m1 0h2m1 0h1m1 0h6m1 0h4m28 0h2m13 0h2m4 0h1m1 0h3m11 0h2m3 0h2m21 0h1m31 0h1m4 0h1m1 0h1m2 0h3m1 0h2m8 0h1m1 0h1m1 0h1m1 0h2m7 0h2m2 0h1m1 0h1m2 0h1m5 0h1m2 0h2m13 0h1m3 0h2m1 0h3m5 0h4m3 0h4m2 0h1m1 0h1m3 0h2m5 0h1m3 0h1m8 0h1m2 0h2m3 0h1m1 0h1m3 0h2m15 0h3m2 0h1m-438 1h1m1 0h6m4 0h2m6 0h1m11 0h1m9 0h4m1 0h1m60 0h1m9 0h2m2 0h1m11 0h1m2 0h1m3 0h1m1 0h6m16 0h2m3 0h2m21 0h1m5 0h1m19 0h1m43 0h1m16 0h2m3 0h1m17 0h1m2 0h1m7 0h1m17 0h3m5 0h2m3 0h1m1 0h1m3 0h1m6 0h2m4 0h2m3 0h4m2 0h1m5 0h1m8 0h1m41 0h3m3 0h2m-440 1h1m1 0h1m1 0h2m1 0h2m11 0h1m5 0h2m8 0h2m1 0h2m1 0h3m1 0h4m1 0h2m65 0h1m16 0h2m2 0h7m1 0h1m3 0h1m13 0h1m32 0h2m2 0h2m1 0h4m2 0h5m47 0h1m42 0h1m24 0h2m9 0h2m10 0h1m3 0h1m6 0h2m1 0h4m-368 1h2m1 0h2m2 0h2m2 0h2m9 0h1m12 0h3m1 0h1m2 0h3m1 0h2m59 0h1m23 0h1m1 0h3m1 0h4m3 0h2m1 0h1m39 0h2m8 0h2m3 0h2m3 0h1m1 0h1m60 0h1m15 0h1m10 0h2m18 0h2m6 0h3m10 0h1m6 0h1m3 0h2m2 0h2m2 0h3m1 0h2m1 0h1m1 0h1m1 0h3m56 0h2m8 0h2m-442 1h5m1 0h2m2 0h5m30 0h2m1 0h3m56 0h2m24 0h2m1 0h1m3 0h3m3 0h2m42 0h1m13 0h2m5 0h1m5 0h3m53 0h1m31 0h3m7 0h2m3 0h1m7 0h1m16 0h1m10 0h2m2 0h1m1 0h3m4 0h4m2 0h1m12 0h2m8 0h2m3 0h2m15 0h2m7 0h1m8 0h2m-440 1h2m1 0h4m4 0h2m18 0h2m6 0h2m4 0h1m2 0h1m1 0h1m1 0h2m53 0h1m22 0h2m1 0h1m6 0h2m2 0h3m57 0h1m6 0h1m5 0h1m8 0h1m55 0h2m22 0h1m35 0h2m19 0h1m4 0h1m1 0h2m3 0h1m12 0h1m9 0h1m15 0h2m9 0h2m1 0h2m8 0h1m-439 1h1m1 0h1m1 0h2m3 0h1m1 0h2m26 0h1m6 0h1m4 0h2m62 0h4m4 0h2m5 0h1m5 0h1m5 0h4m65 0h2m13 0h1m9 0h2m8 0h1m31 0h1m12 0h2m21 0h2m20 0h1m5 0h1m2 0h2m7 0h2m1 0h2m6 0h2m3 0h2m22 0h2m18 0h1m13 0h1m-427 1h4m3 0h1m1 0h4m24 0h1m11 0h1m65 0h1m5 0h1m4 0h2m13 0h1m1 0h2m1 0h1m30 0h2m19 0h4m2 0h4m5 0h2m9 0h1m51 0h1m9 0h2m17 0h1m1 0h2m2 0h2m21 0h1m17 0h1m26 0h2m8 0h1m2 0h1m-394 1h1m1 0h3m7 0h2m23 0h4m2 0h3m3 0h4m9 0h2m74 0h1m2 0h5m32 0h2m15 0h3m1 0h2m4 0h3m6 0h1m30 0h1m21 0h2m16 0h2m19 0h1m20 0h1m7 0h2m8 0h2m2 0h1m3 0h2m2 0h1m7 0h1m1 0h4m2 0h3m19 0h1m15 0h2m17 0h2m-433 1h2m1 0h2m1 0h1m3 0h4m2 0h2m22 0h1m2 0h3m4 0h1m1 0h1m10 0h1m46 0h2m23 0h11m13 0h2m19 0h2m4 0h2m8 0h1m3 0h2m3 0h3m1 0h1m2 0h1m5 0h1m6 0h2m19 0h1m22 0h2m3 0h2m3 0h4m3 0h1m8 0h2m1 0h3m4 0h1m1 0h2m15 0h5m3 0h2m2 0h1m3 0h2m1 0h4m3 0h9m4 0h4m1 0h4m3 0h1m12 0h1m2 0h2m3 0h2m15 0h1m12 0h4m1 0h1m5 0h2m1 0h4m-444 1h6m5 0h2m3 0h3m7 0h2m6 0h1m2 0h4m2 0h3m15 0h2m42 0h1m1 0h10m1 0h6m1 0h3m1 0h7m1 0h10m1 0h2m1 0h2m6 0h1m7 0h1m18 0h1m3 0h2m8 0h1m3 0h3m5 0h1m12 0h1m11 0h1m31 0h1m7 0h4m1 0h1m3 0h3m3 0h2m1 0h2m1 0h2m5 0h3m1 0h1m5 0h3m1 0h2m3 0h1m1 0h1m6 0h5m2 0h2m1 0h1m5 0h10m1 0h4m1 0h1m2 0h4m8 0h9m2 0h2m3 0h5m1 0h2m7 0h3m3 0h1m3 0h2m7 0h6m1 0h4m-443 1h16m1 0h1m7 0h2m1 0h2m2 0h3m1 0h1m5 0h3m2 0h2m58 0h8m1 0h1m1 0h1m5 0h6m1 0h1m1 0h7m1 0h10m2 0h1m5 0h2m21 0h3m1 0h1m6 0h2m11 0h1m7 0h1m12 0h4m8 0h1m9 0h3m11 0h2m8 0h1m4 0h1m1 0h2m2 0h2m2 0h2m1 0h2m1 0h2m2 0h1m1 0h1m5 0h4m1 0h2m4 0h2m2 0h4m1 0h3m1 0h2m2 0h1m1 0h1m2 0h1m3 0h2m2 0h1m3 0h5m1 0h3m2 0h1m1 0h4m2 0h4m2 0h3m3 0h4m1 0h4m1 0h4m1 0h4m3 0h2m2 0h1m1 0h2m1 0h2m1 0h1m6 0h2m3 0h3m1 0h5m1 0h4m1 0h1m-444 1h4m1 0h2m1 0h5m1 0h4m1 0h1m5 0h2m1 0h2m2 0h3m7 0h8m2 0h2m17 0h1m12 0h1m16 0h2m4 0h1m2 0h2m1 0h1m2 0h1m3 0h1m4 0h1m1 0h3m3 0h3m1 0h3m2 0h7m1 0h2m7 0h1m11 0h2m9 0h2m6 0h1m2 0h1m6 0h1m6 0h3m3 0h5m9 0h2m6 0h1m14 0h1m12 0h1m20 0h1m3 0h2m2 0h1m4 0h2m4 0h1m2 0h1m1 0h6m3 0h1m1 0h6m1 0h1m7 0h1m4 0h3m1 0h2m8 0h1m3 0h1m1 0h1m4 0h5m1 0h5m1 0h1m7 0h2m2 0h2m1 0h2m4 0h1m2 0h1m3 0h1m3 0h1m1 0h2m1 0h4m13 0h1m1 0h2m4 0h1m-439 1h1m1 0h1m1 0h3m5 0h1m1 0h1m3 0h2m5 0h1m7 0h1m10 0h5m4 0h2m15 0h2m12 0h1m16 0h1m8 0h2m1 0h2m18 0h1m1 0h1m6 0h4m1 0h1m1 0h3m26 0h1m11 0h1m9 0h2m1 0h3m2 0h2m3 0h1m1 0h2m11 0h1m6 0h1m51 0h2m5 0h2m1 0h1m5 0h1m4 0h1m1 0h1m8 0h6m24 0h2m8 0h1m5 0h3m3 0h1m1 0h2m10 0h1m5 0h1m7 0h2m3 0h1m6 0h1m1 0h2m-415 1h6m1 0h1m1 0h1m3 0h4m24 0h1m2 0h2m7 0h1m1 0h1m14 0h1m10 0h4m29 0h2m2 0h1m11 0h2m3 0h1m1 0h3m2 0h4m3 0h2m1 0h1m25 0h1m24 0h2m1 0h2m2 0h1m83 0h1m11 0h1m5 0h2m6 0h1m25 0h2m18 0h9m4 0h1m16 0h2m1 0h1m33 0h2m-434 1h4m1 0h10m22 0h3m2 0h4m1 0h2m1 0h2m1 0h2m27 0h1m27 0h2m1 0h1m3 0h1m11 0h1m2 0h2m2 0h2m2 0h4m2 0h1m1 0h2m1 0h1m34 0h1m13 0h3m1 0h2m3 0h2m4 0h2m59 0h1m16 0h1m17 0h1m7 0h2m15 0h1m5 0h1m21 0h2m1 0h1m1 0h5m1 0h2m4 0h2m18 0h2m13 0h2m14 0h1m7 0h2m-440 1h5m1 0h7m5 0h1m16 0h3m2 0h3m2 0h1m2 0h1m2 0h1m1 0h2m53 0h1m2 0h2m25 0h4m5 0h2m49 0h4m3 0h4m2 0h2m61 0h1m16 0h1m11 0h1m10 0h2m4 0h2m13 0h2m11 0h2m4 0h4m6 0h2m1 0h6m5 0h3m4 0h2m24 0h4m9 0h1m5 0h1m2 0h1m-434 1h4m1 0h2m1 0h2m1 0h2m26 0h1m1 0h3m1 0h1m3 0h2m2 0h1m57 0h1m23 0h2m2 0h4m2 0h1m30 0h2m23 0h1m3 0h2m4 0h1m65 0h2m41 0h1m14 0h1m18 0h1m1 0h3m2 0h2m4 0h8m4 0h1m2 0h2m4 0h2m21 0h2m11 0h1m8 0h1m-437 1h1m1 0h10m1 0h4m12 0h2m11 0h4m2 0h1m89 0h1m1 0h9m2 0h2m26 0h1m6 0h2m26 0h2m64 0h1m33 0h2m3 0h3m1 0h1m3 0h4m29 0h1m3 0h1m1 0h12m5 0h1m1 0h2m4 0h1m11 0h2m3 0h1m5 0h1m1 0h2m18 0h2m-437 1h2m1 0h8m1 0h3m13 0h1m12 0h1m2 0h1m2 0h2m4 0h2m62 0h1m21 0h2m1 0h9m54 0h5m11 0h2m16 0h1m43 0h1m29 0h1m5 0h1m6 0h1m1 0h1m7 0h2m27 0h1m1 0h5m1 0h1m1 0h2m15 0h2m6 0h2m5 0h1m9 0h2m16 0h1m-437 1h7m1 0h3m1 0h5m21 0h2m2 0h2m1 0h3m3 0h4m61 0h1m21 0h8m1 0h5m7 0h1m12 0h2m7 0h1m12 0h1m4 0h2m3 0h1m1 0h1m2 0h2m6 0h2m9 0h1m54 0h2m3 0h3m38 0h2m7 0h2m24 0h6m1 0h2m1 0h1m15 0h2m9 0h1m14 0h1m1 0h1m-419 1h15m3 0h1m13 0h2m4 0h1m3 0h5m4 0h5m37 0h1m14 0h2m4 0h1m1 0h1m2 0h1m2 0h2m5 0h2m1 0h2m1 0h7m1 0h4m3 0h3m28 0h1m18 0h1m3 0h3m4 0h2m32 0h4m31 0h2m2 0h2m3 0h2m4 0h2m7 0h1m3 0h1m10 0h2m2 0h4m2 0h2m3 0h2m2 0h1m3 0h1m11 0h2m2 0h2m5 0h4m2 0h2m6 0h2m2 0h1m2 0h2m2 0h1m3 0h3m8 0h3m2 0h1m1 0h2m1 0h2m4 0h2m15 0h1m-440 1h4m1 0h10m1 0h2m7 0h2m12 0h2m2 0h2m1 0h1m1 0h1m1 0h2m1 0h2m39 0h1m12 0h3m2 0h9m1 0h3m1 0h2m2 0h7m1 0h13m1 0h2m4 0h1m5 0h1m27 0h1m7 0h6m1 0h1m5 0h3m12 0h2m9 0h1m3 0h1m4 0h2m28 0h5m2 0h3m2 0h1m1 0h2m8 0h2m6 0h2m4 0h2m3 0h1m3 0h2m3 0h1m10 0h2m3 0h2m5 0h1m3 0h3m5 0h3m1 0h2m1 0h6m2 0h1m3 0h5m3 0h2m3 0h3m2 0h1m3 0h2m3 0h12m2 0h2m1 0h1m1 0h2m1 0h1m1 0h2m1 0h2m-440 1h1m1 0h9m2 0h5m7 0h1m14 0h9m1 0h8m15 0h2m32 0h2m4 0h6m3 0h2m2 0h1m1 0h1m1 0h1m1 0h17m1 0h1m1 0h4m2 0h1m33 0h3m7 0h14m6 0h2m15 0h1m6 0h2m1 0h1m6 0h1m5 0h2m1 0h1m11 0h5m1 0h2m1 0h1m2 0h2m1 0h2m6 0h1m2 0h1m4 0h5m5 0h1m1 0h1m4 0h2m1 0h1m2 0h2m13 0h1m4 0h1m1 0h1m3 0h3m2 0h2m2 0h9m1 0h1m3 0h2m3 0h1m2 0h1m3 0h3m2 0h1m1 0h2m6 0h1m6 0h1m1 0h3m1 0h2m1 0h1m1 0h1m2 0h1m4 0h1m1 0h1m1 0h2" stroke="#0000ff" stroke-width="1" fill="none" transform="translate(0 0.5)"/>
<path d="M310 36h2m25 1h2m-162 3h1m156 0h2m-159 1h1m147 0h1m8 0h1m-164 1h2m5 0h2m144 0h3m11 0h2m-169 1h3m4 0h2m128 0h1m14 0h4m8 0h2m1 0h2m-199 1h2m18 0h2m4 0h1m3 0h2m4 0h4m127 0h5m11 0h3m4 0h3m1 0h5m-200 1h3m5 0h2m7 0h1m8 0h3m1 0h5m2 0h4m126 0h5m7 0h2m3 0h2m5 0h9m130 0h1m-334 1h2m1 0h4m4 0h2m10 0h2m4 0h4m1 0h5m1 0h4m126 0h6m4 0h5m2 0h2m4 0h10m121 0h1m8 0h3m21 0h2m1 0h2m-361 1h5m5 0h2m5 0h2m2 0h4m3 0h3m1 0h12m123 0h23m2 0h11m123 0h2m4 0h3m20 0h5m-364 1h9m3 0h7m2 0h2m1 0h7m1 0h16m123 0h17m1 0h18m112 0h3m4 0h3m1 0h2m4 0h5m18 0h4m1 0h2m-367 1h10m2 0h8m2 0h9m2 0h15m119 0h2m3 0h36m1 0h1m110 0h3m4 0h7m2 0h5m13 0h4m1 0h8m-367 1h11m1 0h36m118 0h4m2 0h39m106 0h8m2 0h8m1 0h6m12 0h2m3 0h8m2 0h1m-370 1h49m117 0h46m105 0h17m1 0h11m4 0h2m2 0h12m2 0h2m1 0h1m-373 1h49m118 0h45m107 0h16m1 0h12m1 0h1m1 0h8m1 0h7m2 0h2m-372 1h51m117 0h46m105 0h25m1 0h15m1 0h12m-374 1h52m116 0h47m105 0h24m2 0h1m1 0h13m1 0h12m-378 1h2m1 0h12m1 0h11m1 0h28m112 0h2m2 0h41m1 0h5m104 0h54m-377 1h1m1 0h13m1 0h36m2 0h2m112 0h2m2 0h35m1 0h2m2 0h7m104 0h56m-377 1h13m1 0h8m1 0h16m2 0h3m1 0h5m2 0h4m1 0h1m108 0h15m1 0h8m2 0h3m3 0h5m1 0h2m2 0h11m101 0h56m2 0h2m-380 1h10m1 0h2m1 0h18m2 0h6m1 0h3m1 0h5m1 0h5m1 0h1m105 0h5m1 0h9m1 0h2m1 0h1m1 0h5m1 0h7m2 0h4m1 0h2m1 0h3m2 0h6m102 0h57m-378 1h13m2 0h6m1 0h11m2 0h5m2 0h1m1 0h1m2 0h2m4 0h5m106 0h15m1 0h4m1 0h5m1 0h1m1 0h1m1 0h3m1 0h5m2 0h2m6 0h5m101 0h10m1 0h48m-379 1h9m2 0h1m3 0h5m3 0h10m3 0h3m6 0h2m5 0h7m1 0h2m102 0h6m1 0h8m7 0h1m1 0h1m4 0h4m4 0h2m2 0h2m5 0h3m1 0h2m102 0h36m1 0h12m1 0h9m-380 1h10m1 0h2m3 0h4m4 0h1m1 0h9m2 0h6m10 0h11m101 0h14m15 0h1m6 0h2m6 0h1m1 0h1m1 0h1m2 0h4m101 0h24m1 0h13m1 0h9m1 0h5m1 0h5m-381 1h8m3 0h3m2 0h3m3 0h2m4 0h1m3 0h2m4 0h3m13 0h9m8 0h2m88 0h3m1 0h14m8 0h2m6 0h1m5 0h2m5 0h1m4 0h8m99 0h14m1 0h10m1 0h23m1 0h11m-380 1h6m4 0h1m1 0h2m2 0h5m1 0h1m1 0h2m1 0h1m1 0h3m6 0h2m13 0h11m6 0h1m89 0h2m2 0h9m3 0h2m10 0h1m7 0h1m10 0h1m7 0h5m99 0h8m2 0h4m3 0h2m1 0h28m3 0h11m-381 1h6m6 0h1m3 0h3m5 0h1m3 0h1m9 0h1m9 0h2m4 0h11m5 0h2m88 0h13m3 0h2m1 0h1m8 0h3m4 0h2m2 0h1m6 0h1m6 0h2m2 0h3m100 0h6m3 0h4m6 0h5m2 0h15m1 0h5m1 0h2m1 0h10m-383 1h8m6 0h1m3 0h2m3 0h2m4 0h2m2 0h2m15 0h1m5 0h11m4 0h2m90 0h11m5 0h1m3 0h2m2 0h2m1 0h2m4 0h2m3 0h1m1 0h1m1 0h4m10 0h3m98 0h6m6 0h3m1 0h1m4 0h4m3 0h4m1 0h1m1 0h7m2 0h5m5 0h10m-384 1h7m11 0h1m10 0h1m3 0h1m16 0h1m5 0h12m3 0h3m88 0h12m5 0h1m3 0h2m2 0h1m7 0h2m4 0h1m3 0h1m5 0h2m2 0h2m1 0h5m96 0h7m6 0h2m7 0h3m4 0h4m1 0h1m1 0h4m1 0h2m3 0h3m6 0h10m-384 1h7m7 0h1m13 0h1m11 0h1m1 0h1m1 0h1m12 0h11m3 0h3m88 0h11m21 0h2m1 0h3m1 0h1m14 0h1m1 0h6m95 0h1m1 0h6m5 0h2m5 0h2m1 0h1m6 0h2m3 0h8m3 0h2m2 0h2m3 0h1m3 0h6m-436 1h2m50 0h5m9 0h1m13 0h1m11 0h1m9 0h3m4 0h12m1 0h7m85 0h4m1 0h8m16 0h1m24 0h2m1 0h4m95 0h10m3 0h3m1 0h2m6 0h2m4 0h1m5 0h1m1 0h1m1 0h2m1 0h1m2 0h4m9 0h6m-436 1h3m34 0h1m13 0h6m18 0h4m4 0h2m24 0h21m3 0h2m79 0h11m3 0h2m13 0h1m17 0h2m9 0h4m94 0h7m2 0h2m3 0h1m5 0h1m4 0h2m1 0h2m11 0h1m16 0h7m-435 1h3m48 0h5m1 0h2m17 0h1m1 0h1m6 0h2m23 0h11m2 0h7m2 0h4m78 0h7m1 0h3m36 0h1m7 0h1m2 0h4m94 0h7m9 0h1m1 0h2m3 0h2m2 0h1m1 0h1m4 0h1m1 0h1m18 0h1m4 0h6m-436 1h2m49 0h5m18 0h3m34 0h10m1 0h8m1 0h6m73 0h2m2 0h6m5 0h1m6 0h1m15 0h2m19 0h1m2 0h4m93 0h8m3 0h1m16 0h1m27 0h1m5 0h4m-436 1h4m47 0h5m8 0h1m17 0h2m29 0h1m1 0h7m1 0h8m1 0h5m29 0h1m33 0h2m9 0h3m1 0h6m1 0h1m2 0h1m35 0h1m12 0h4m94 0h6m9 0h1m6 0h3m2 0h1m15 0h1m16 0h3m-434 1h3m35 0h2m10 0h5m26 0h2m27 0h1m1 0h18m1 0h5m29 0h2m36 0h2m4 0h11m1 0h1m2 0h2m5 0h2m27 0h1m8 0h1m3 0h3m94 0h6m37 0h1m4 0h1m12 0h4m-433 1h1m35 0h2m11 0h4m30 0h2m28 0h15m1 0h6m24 0h2m2 0h2m27 0h2m13 0h10m2 0h1m2 0h1m6 0h1m8 0h2m31 0h4m92 0h6m17 0h1m24 0h2m14 0h2m-439 1h2m1 0h4m5 0h2m27 0h3m10 0h5m62 0h7m1 0h12m1 0h1m22 0h6m25 0h6m5 0h2m4 0h10m2 0h1m6 0h1m41 0h2m1 0h4m21 0h1m70 0h7m35 0h2m4 0h1m4 0h1m10 0h3m-441 1h2m2 0h5m2 0h3m29 0h2m10 0h4m17 0h2m45 0h6m1 0h12m23 0h8m17 0h1m6 0h1m1 0h7m1 0h4m3 0h6m1 0h4m48 0h2m5 0h2m21 0h1m4 0h1m65 0h5m29 0h2m4 0h3m5 0h1m14 0h4m-441 1h9m1 0h3m24 0h2m3 0h4m9 0h3m38 0h1m20 0h2m1 0h2m1 0h5m2 0h13m22 0h8m16 0h3m7 0h7m1 0h4m3 0h6m1 0h1m51 0h1m5 0h4m91 0h6m34 0h1m7 0h2m14 0h3m-441 1h6m1 0h2m1 0h4m2 0h1m19 0h2m3 0h5m8 0h4m16 0h2m20 0h1m20 0h1m6 0h18m22 0h9m17 0h2m5 0h8m2 0h4m3 0h7m1 0h3m55 0h2m1 0h1m23 0h3m62 0h9m13 0h1m17 0h1m5 0h2m4 0h1m13 0h3m-441 1h8m2 0h4m2 0h3m17 0h3m2 0h7m6 0h4m66 0h6m1 0h12m1 0h3m17 0h9m17 0h4m3 0h9m1 0h4m3 0h7m3 0h1m55 0h3m13 0h1m3 0h2m1 0h8m19 0h1m41 0h6m3 0h1m24 0h1m17 0h1m14 0h1m-440 1h8m1 0h5m2 0h3m17 0h3m3 0h6m6 0h3m29 0h1m38 0h3m5 0h5m1 0h9m15 0h4m1 0h5m17 0h3m3 0h4m1 0h10m3 0h6m4 0h2m50 0h1m3 0h5m4 0h2m5 0h1m2 0h11m14 0h1m41 0h2m1 0h8m39 0h2m13 0h2m4 0h2m-440 1h14m2 0h4m16 0h4m1 0h8m6 0h3m68 0h2m3 0h1m3 0h4m1 0h9m1 0h2m1 0h1m11 0h2m2 0h6m8 0h1m7 0h5m1 0h16m2 0h8m54 0h1m4 0h4m14 0h12m16 0h1m37 0h12m39 0h2m-418 1h14m1 0h5m1 0h2m4 0h2m5 0h6m1 0h7m6 0h2m69 0h4m1 0h1m2 0h15m3 0h2m9 0h4m3 0h1m1 0h2m9 0h1m6 0h6m1 0h4m1 0h12m1 0h5m1 0h1m3 0h2m3 0h2m50 0h4m4 0h1m8 0h13m8 0h2m10 0h2m8 0h1m22 0h13m59 0h2m-438 1h20m3 0h2m2 0h1m7 0h5m1 0h7m5 0h4m69 0h2m6 0h4m2 0h10m1 0h2m7 0h6m5 0h3m2 0h1m11 0h6m2 0h4m1 0h7m1 0h4m1 0h5m3 0h2m57 0h8m8 0h15m2 0h2m3 0h3m8 0h3m5 0h1m25 0h11m-376 1h21m14 0h6m1 0h8m4 0h4m68 0h1m8 0h3m3 0h5m1 0h2m9 0h3m1 0h5m6 0h2m14 0h7m1 0h3m2 0h12m1 0h2m1 0h3m61 0h11m4 0h16m18 0h4m4 0h1m25 0h12m-377 1h21m6 0h2m6 0h15m4 0h3m69 0h1m8 0h4m3 0h4m1 0h3m2 0h4m2 0h8m7 0h3m1 0h2m1 0h2m5 0h12m2 0h8m1 0h7m1 0h3m60 0h14m1 0h9m1 0h1m3 0h3m5 0h1m2 0h1m5 0h8m29 0h13m62 0h1m-440 1h12m1 0h16m4 0h16m5 0h4m66 0h2m9 0h2m5 0h26m5 0h6m1 0h4m3 0h5m1 0h6m3 0h2m2 0h3m2 0h6m1 0h2m1 0h2m57 0h4m1 0h16m2 0h1m6 0h3m5 0h7m2 0h8m5 0h3m5 0h1m15 0h12m4 0h1m-381 1h18m1 0h12m1 0h2m1 0h9m1 0h5m5 0h2m67 0h1m11 0h1m10 0h18m1 0h1m3 0h1m2 0h6m1 0h5m3 0h3m2 0h6m4 0h1m2 0h3m2 0h5m2 0h2m2 0h1m58 0h1m2 0h17m2 0h3m2 0h2m1 0h3m1 0h11m1 0h9m4 0h3m21 0h11m65 0h2m-442 1h7m1 0h10m1 0h25m1 0h6m3 0h3m91 0h16m3 0h1m5 0h12m3 0h3m3 0h4m8 0h3m2 0h5m2 0h1m62 0h2m1 0h4m1 0h14m2 0h2m2 0h1m1 0h3m1 0h17m1 0h3m3 0h4m13 0h2m6 0h11m65 0h1m-446 1h4m1 0h7m1 0h5m1 0h3m2 0h25m1 0h6m3 0h3m87 0h1m3 0h11m1 0h4m9 0h13m2 0h4m2 0h4m9 0h1m4 0h3m3 0h1m67 0h2m3 0h9m7 0h1m1 0h1m1 0h21m1 0h3m3 0h6m1 0h1m9 0h1m6 0h13m-381 1h12m2 0h7m3 0h24m2 0h7m1 0h4m86 0h2m2 0h13m1 0h1m12 0h16m4 0h3m6 0h2m8 0h3m70 0h2m3 0h7m1 0h3m5 0h2m3 0h20m1 0h3m2 0h9m3 0h3m2 0h3m5 0h13m-381 1h12m1 0h5m1 0h1m5 0h18m1 0h4m3 0h6m2 0h3m86 0h1m4 0h10m1 0h1m15 0h15m5 0h3m5 0h2m7 0h4m67 0h2m2 0h1m3 0h3m1 0h4m8 0h1m1 0h2m1 0h8m2 0h10m1 0h14m1 0h1m1 0h3m2 0h7m1 0h11m-379 1h8m1 0h2m2 0h4m4 0h1m4 0h17m1 0h4m2 0h2m1 0h3m3 0h2m92 0h4m4 0h2m2 0h2m1 0h3m10 0h6m2 0h5m5 0h2m17 0h2m7 0h1m65 0h1m1 0h2m2 0h5m10 0h1m2 0h5m5 0h5m2 0h2m2 0h20m1 0h7m2 0h2m2 0h5m-377 1h8m1 0h1m4 0h2m6 0h2m3 0h1m1 0h8m2 0h3m2 0h4m5 0h4m1 0h3m92 0h3m5 0h1m1 0h1m5 0h1m6 0h1m2 0h2m2 0h3m3 0h5m5 0h1m19 0h2m6 0h2m64 0h1m2 0h1m5 0h1m15 0h5m1 0h2m4 0h2m7 0h6m2 0h11m1 0h7m1 0h4m1 0h6m65 0h1m-443 1h7m6 0h2m3 0h1m10 0h1m3 0h3m2 0h2m3 0h4m6 0h2m2 0h3m93 0h4m18 0h1m2 0h1m3 0h2m2 0h6m110 0h1m14 0h2m2 0h2m1 0h1m5 0h2m7 0h5m2 0h27m2 0h1m-377 1h2m2 0h5m5 0h1m19 0h1m6 0h2m1 0h5m5 0h7m88 0h1m40 0h5m6 0h1m101 0h1m16 0h4m1 0h1m2 0h4m2 0h1m5 0h5m2 0h23m3 0h1m2 0h1m-373 1h2m8 0h1m1 0h2m15 0h3m5 0h1m2 0h4m6 0h7m94 0h2m3 0h2m2 0h1m25 0h1m1 0h2m7 0h2m7 0h1m91 0h1m1 0h2m14 0h2m9 0h2m1 0h3m3 0h4m1 0h25m-366 1h3m7 0h3m9 0h1m6 0h1m11 0h3m6 0h6m95 0h3m11 0h1m10 0h2m6 0h1m2 0h1m2 0h1m100 0h2m7 0h2m11 0h1m2 0h2m3 0h1m6 0h1m3 0h1m3 0h4m1 0h5m1 0h4m1 0h13m5 0h1m3 0h2m-379 1h1m6 0h1m5 0h2m10 0h1m3 0h4m11 0h2m7 0h6m94 0h2m13 0h1m10 0h1m7 0h1m106 0h1m3 0h1m20 0h1m1 0h4m10 0h1m4 0h2m4 0h8m1 0h4m1 0h1m3 0h5m4 0h1m3 0h1m-374 1h2m23 0h1m14 0h1m4 0h1m3 0h5m95 0h1m2 0h1m161 0h2m1 0h2m1 0h1m2 0h1m6 0h1m3 0h1m1 0h1m6 0h1m4 0h2m2 0h3m2 0h2m1 0h1m4 0h1m-366 1h2m28 0h2m13 0h1m4 0h5m99 0h1m128 0h1m39 0h1m5 0h2m17 0h6m4 0h1m-309 1h5m3 0h1m121 0h2m110 0h2m31 0h2m13 0h2m8 0h3m-357 1h2m23 0h1m28 0h5m125 0h1m15 0h1m95 0h1m18 0h2m2 0h2m26 0h1m6 0h5m2 0h2m2 0h2m8 0h2m-378 1h2m3 0h1m50 0h4m120 0h2m19 0h1m101 0h2m15 0h1m6 0h1m17 0h2m1 0h1m8 0h1m8 0h1m2 0h2m5 0h1m-363 1h1m30 0h1m9 0h4m261 0h2m5 0h2m11 0h2m17 0h2m2 0h4m-312 1h4m131 0h2m111 0h2m10 0h1m19 0h2m11 0h3m9 0h3m5 0h2m-356 1h1m16 0h2m23 0h2m165 0h1m111 0h1m6 0h2m11 0h1m-300 1h3m141 0h2m21 0h1m127 0h1m5 0h1m-304 1h1m2 0h1m96 0h1m45 0h1m158 0h2m1 0h1m-362 1h1m49 0h2m264 0h2m-289 1h2m19 0h1m3 0h2m277 0h1m26 0h1m-28 1h1m5 0h1m-1 1h1m-285 1h1m285 1h2m-288 1h2" stroke="#ff0000" stroke-width="1" fill="none" transform="translate(0 0.5)"/></g>
<rect x="438.8" y="11.4" width="87.1" height="28.8" rx="2" fill="#fff" fill-opacity="0.8" stroke="#dcdcdc" stroke-width="0.8"/>
<circle cx="450.9" cy="18.5" r="2.2" fill="#0000ff"/>
<circle cx="450.9" cy="31.9" r="2.2" fill="#ff0000"/>
<text x="467.4" y="22.7" class="t l">Observation</text>
<text x="467.4" y="36.1" class="t l">Prediction</text>
<line x1="40.4" y1="7.1" x2="530.3" y2="7.1" stroke="#858585" stroke-width="1.4"/>
<line x1="40.4" y1="147.0" x2="530.3" y2="147.0" stroke="#505050" stroke-width="1.3"/>
<line x1="40.4" y1="7.1" x2="40.4" y2="147.0" stroke="#9a9a9a" stroke-width="1.1"/>
<line x1="530.3" y1="7.1" x2="530.3" y2="147.0" stroke="#8a8a8a" stroke-width="1.3"/>
<line x1="37.8" y1="147.1" x2="40.4" y2="147.1" stroke="#555" stroke-width="1"/>
<text x="36.3" y="151.2" class="t k" text-anchor="end">0</text>
<line x1="37.8" y1="108.3" x2="40.4" y2="108.3" stroke="#555" stroke-width="1"/>
<text x="36.3" y="112.4" class="t k" text-anchor="end">100</text>
<line x1="37.8" y1="69.5" x2="40.4" y2="69.5" stroke="#555" stroke-width="1"/>
<text x="36.3" y="73.6" class="t k" text-anchor="end">200</text>
<line x1="37.8" y1="30.7" x2="40.4" y2="30.7" stroke="#555" stroke-width="1"/>
<text x="36.3" y="34.8" class="t k" text-anchor="end">300</text>
<line x1="62.4" y1="147.0" x2="62.4" y2="149.6" stroke="#555" stroke-width="1"/>
<text x="62.4" y="159.2" class="t k" text-anchor="middle">0</text>
<line x1="155.4" y1="147.0" x2="155.4" y2="149.6" stroke="#555" stroke-width="1"/>
<text x="155.4" y="159.2" class="t k" text-anchor="middle">5,000</text>
<line x1="248.3" y1="147.0" x2="248.3" y2="149.6" stroke="#555" stroke-width="1"/>
<text x="248.3" y="159.2" class="t k" text-anchor="middle">10,000</text>
<line x1="341.3" y1="147.0" x2="341.3" y2="149.6" stroke="#555" stroke-width="1"/>
<text x="341.3" y="159.2" class="t k" text-anchor="middle">15,000</text>
<line x1="434.2" y1="147.0" x2="434.2" y2="149.6" stroke="#555" stroke-width="1"/>
<text x="434.2" y="159.2" class="t k" text-anchor="middle">20,000</text>
<line x1="527.2" y1="147.0" x2="527.2" y2="149.6" stroke="#555" stroke-width="1"/>
<text x="527.2" y="159.2" class="t k" text-anchor="middle">25,000</text>
<text x="285.9" y="171.3" class="t a" text-anchor="middle">Time (res = 10s)</text>
<text transform="translate(14.9 77.6) rotate(-90)" class="t a" text-anchor="middle">Wind Direction (°)</text>
<text x="274.5" y="192.4" class="c" text-anchor="middle">(<tspan font-weight="bold">b</tspan>)</text>
<g filter="url(#bl)"><path d="M112 212h1m1 1h2m-2 1h3m-9 3h3m119 0h1m-163 1h1m35 0h1m4 0h1m6 0h2m2 0h1m16 0h1m92 0h1m64 0h2m59 0h1m53 0h1m22 0h1m5 0h1m-342 1h1m5 0h1m2 0h6m1 0h9m12 0h3m4 0h2m1 0h2m2 0h1m8 0h4m6 0h3m5 0h2m1 0h1m2 0h3m1 0h3m15 0h2m2 0h5m2 0h1m1 0h2m9 0h2m37 0h3m3 0h4m5 0h2m7 0h3m1 0h2m2 0h2m1 0h2m2 0h1m2 0h1m3 0h3m2 0h2m1 0h3m1 0h1m5 0h2m4 0h1m1 0h1m1 0h1m3 0h2m6 0h1m1 0h2m1 0h2m36 0h3m3 0h4m4 0h1m2 0h1m15 0h1m3 0h1m5 0h3m3 0h4m1 0h1m3 0h3m8 0h4m4 0h2m2 0h2m1 0h1m3 0h1m5 0h4m3 0h6m4 0h2m1 0h1m-436 1h2m21 0h1m3 0h1m1 0h2m2 0h14m1 0h24m5 0h2m3 0h5m2 0h11m2 0h1m3 0h6m2 0h2m1 0h2m4 0h5m1 0h3m1 0h6m1 0h5m4 0h3m1 0h1m35 0h14m4 0h5m2 0h4m1 0h12m3 0h7m2 0h6m1 0h7m4 0h2m5 0h3m1 0h1m2 0h1m1 0h9m6 0h1m5 0h3m20 0h1m5 0h6m5 0h1m1 0h8m6 0h1m1 0h3m4 0h2m7 0h2m2 0h3m1 0h1m2 0h1m3 0h2m3 0h4m1 0h13m2 0h3m3 0h1m2 0h4m1 0h2m4 0h4m-436 1h1m28 0h18m1 0h5m1 0h12m2 0h1m1 0h5m2 0h1m2 0h4m1 0h14m1 0h3m2 0h6m2 0h2m4 0h3m1 0h4m2 0h15m5 0h3m1 0h1m36 0h15m2 0h2m2 0h2m1 0h17m3 0h1m2 0h3m2 0h9m1 0h5m3 0h1m1 0h2m5 0h4m1 0h2m2 0h5m1 0h1m9 0h1m3 0h2m31 0h19m6 0h2m2 0h5m7 0h2m1 0h4m1 0h1m1 0h3m2 0h3m2 0h11m1 0h1m3 0h5m3 0h3m1 0h7m4 0h5m-406 1h4m1 0h2m1 0h5m1 0h2m2 0h4m1 0h5m1 0h6m2 0h4m1 0h3m1 0h1m3 0h4m1 0h2m1 0h2m1 0h7m4 0h1m2 0h5m1 0h3m5 0h1m2 0h5m2 0h2m3 0h1m2 0h2m9 0h2m1 0h1m1 0h1m36 0h12m1 0h1m1 0h3m1 0h2m2 0h1m2 0h10m3 0h2m2 0h1m3 0h3m2 0h6m5 0h1m2 0h1m1 0h1m4 0h1m3 0h5m2 0h2m5 0h2m15 0h1m1 0h3m28 0h5m1 0h2m3 0h1m17 0h1m4 0h5m1 0h2m2 0h2m1 0h3m1 0h6m3 0h2m1 0h1m1 0h1m1 0h1m2 0h4m2 0h2m2 0h1m3 0h3m4 0h1m1 0h1m5 0h6m-418 1h2m16 0h3m1 0h2m6 0h4m2 0h4m1 0h7m2 0h4m2 0h2m1 0h1m4 0h18m2 0h1m2 0h2m4 0h1m6 0h2m2 0h1m3 0h1m2 0h2m1 0h2m8 0h1m7 0h1m43 0h1m4 0h2m5 0h1m4 0h1m3 0h2m3 0h2m6 0h1m1 0h1m8 0h2m5 0h2m4 0h3m2 0h1m4 0h2m3 0h1m1 0h1m7 0h1m3 0h2m1 0h2m44 0h4m8 0h1m15 0h2m1 0h1m2 0h2m1 0h5m3 0h1m2 0h2m1 0h7m1 0h1m2 0h10m2 0h1m2 0h3m1 0h2m1 0h5m1 0h1m3 0h4m1 0h1m1 0h2m-419 1h1m3 0h1m13 0h6m4 0h2m6 0h1m5 0h4m4 0h1m2 0h2m1 0h2m9 0h1m3 0h2m1 0h4m1 0h2m2 0h1m7 0h1m26 0h1m2 0h2m5 0h1m54 0h2m9 0h1m5 0h4m1 0h7m2 0h1m3 0h1m1 0h1m5 0h1m2 0h2m1 0h4m1 0h1m6 0h1m3 0h1m6 0h2m11 0h3m47 0h1m9 0h1m15 0h1m2 0h1m7 0h1m1 0h2m3 0h3m6 0h1m2 0h1m2 0h3m2 0h1m2 0h3m3 0h3m1 0h1m1 0h1m2 0h2m2 0h2m4 0h3m4 0h1m2 0h1m-403 1h1m1 0h1m1 0h1m5 0h1m2 0h2m3 0h2m1 0h3m1 0h7m3 0h5m6 0h1m3 0h15m1 0h1m1 0h4m2 0h3m95 0h2m2 0h1m6 0h9m4 0h1m3 0h2m2 0h2m2 0h1m1 0h2m4 0h1m2 0h1m1 0h1m2 0h1m6 0h1m6 0h2m1 0h2m7 0h1m2 0h2m54 0h2m21 0h2m5 0h1m2 0h1m1 0h1m4 0h3m4 0h1m1 0h3m2 0h4m1 0h3m8 0h1m6 0h1m4 0h2m1 0h1m4 0h1m-402 1h2m23 0h3m1 0h6m3 0h3m2 0h1m9 0h1m1 0h7m2 0h6m2 0h2m3 0h2m3 0h1m91 0h1m9 0h5m2 0h4m3 0h1m1 0h2m4 0h1m1 0h3m10 0h1m4 0h1m6 0h1m9 0h3m2 0h1m3 0h2m57 0h1m22 0h1m8 0h4m4 0h3m1 0h5m2 0h2m3 0h2m2 0h1m5 0h1m1 0h3m2 0h5m3 0h4m3 0h1m5 0h1m-416 1h1m9 0h1m6 0h2m16 0h6m1 0h2m3 0h3m4 0h1m2 0h1m5 0h1m1 0h2m1 0h2m3 0h8m1 0h2m1 0h1m1 0h2m3 0h4m5 0h1m18 0h1m73 0h2m2 0h1m1 0h2m2 0h4m3 0h1m7 0h6m2 0h1m1 0h1m2 0h2m1 0h3m5 0h1m11 0h1m6 0h1m80 0h2m8 0h2m1 0h1m1 0h1m3 0h1m4 0h3m1 0h2m4 0h3m5 0h2m1 0h2m8 0h2m2 0h2m3 0h1m3 0h2m1 0h1m-415 1h1m36 0h1m1 0h1m2 0h1m3 0h1m2 0h1m4 0h1m11 0h4m3 0h2m1 0h4m1 0h2m3 0h3m9 0h2m12 0h2m6 0h1m51 0h1m18 0h1m2 0h1m11 0h1m8 0h1m2 0h2m4 0h1m1 0h2m5 0h1m13 0h1m10 0h1m3 0h2m18 0h1m56 0h3m1 0h1m6 0h2m11 0h2m3 0h2m2 0h2m2 0h7m1 0h1m12 0h3m1 0h4m2 0h1m1 0h3m-399 1h2m1 0h2m7 0h2m4 0h3m5 0h1m3 0h2m3 0h2m3 0h2m1 0h1m4 0h2m2 0h2m1 0h2m1 0h3m1 0h1m1 0h2m2 0h1m1 0h1m2 0h2m3 0h2m79 0h1m22 0h2m2 0h3m1 0h1m17 0h2m6 0h1m1 0h1m5 0h1m5 0h1m11 0h1m2 0h1m2 0h2m66 0h1m9 0h1m5 0h3m2 0h4m1 0h1m4 0h1m2 0h2m2 0h2m4 0h1m3 0h5m4 0h1m8 0h1m2 0h2m6 0h2m2 0h1m3 0h1m-402 1h1m2 0h3m6 0h1m5 0h1m5 0h3m2 0h2m4 0h4m2 0h2m7 0h1m3 0h4m2 0h1m1 0h1m4 0h3m6 0h3m22 0h4m4 0h1m17 0h2m44 0h1m4 0h1m7 0h3m6 0h1m5 0h1m2 0h3m4 0h1m2 0h1m3 0h2m3 0h1m3 0h2m9 0h1m9 0h1m67 0h1m11 0h1m1 0h3m5 0h1m1 0h1m2 0h1m2 0h1m3 0h1m1 0h1m1 0h1m9 0h1m1 0h2m4 0h1m9 0h2m1 0h1m3 0h1m1 0h2m8 0h2m-400 1h2m2 0h1m2 0h2m14 0h2m1 0h2m4 0h2m16 0h2m7 0h2m1 0h1m2 0h2m3 0h2m27 0h4m3 0h1m12 0h2m3 0h1m29 0h2m2 0h2m4 0h2m3 0h2m11 0h1m1 0h1m14 0h1m4 0h1m1 0h1m6 0h1m2 0h1m13 0h1m3 0h1m7 0h1m2 0h4m36 0h2m9 0h2m16 0h2m3 0h1m2 0h2m3 0h1m1 0h1m11 0h1m7 0h1m1 0h3m1 0h3m3 0h1m12 0h1m2 0h1m9 0h3m3 0h2m2 0h3m-438 1h1m29 0h5m1 0h1m1 0h1m3 0h1m18 0h4m1 0h2m3 0h1m15 0h2m3 0h2m1 0h1m1 0h1m1 0h1m4 0h1m3 0h4m4 0h1m18 0h1m1 0h1m8 0h1m3 0h1m1 0h1m2 0h3m34 0h2m1 0h3m1 0h2m1 0h2m7 0h1m3 0h2m2 0h2m6 0h1m7 0h1m1 0h1m5 0h3m1 0h1m2 0h1m5 0h2m1 0h1m5 0h1m2 0h1m2 0h1m8 0h2m1 0h4m15 0h1m48 0h2m6 0h4m2 0h3m11 0h1m5 0h1m1 0h1m1 0h2m3 0h1m3 0h1m3 0h3m1 0h3m4 0h4m4 0h2m2 0h2m1 0h1m2 0h1m4 0h1m2 0h2m-441 1h3m29 0h2m2 0h1m1 0h1m16 0h2m17 0h1m10 0h1m1 0h1m5 0h1m10 0h1m2 0h1m1 0h4m3 0h2m1 0h2m9 0h4m10 0h7m4 0h1m2 0h2m33 0h2m4 0h1m2 0h2m20 0h1m10 0h1m2 0h2m1 0h4m1 0h1m3 0h2m4 0h1m1 0h3m7 0h1m7 0h1m6 0h3m18 0h2m42 0h2m1 0h1m4 0h2m1 0h1m2 0h2m3 0h9m9 0h2m3 0h4m6 0h1m1 0h1m1 0h5m2 0h1m2 0h3m4 0h1m4 0h1m1 0h1m2 0h1m4 0h1m-407 1h2m2 0h2m9 0h1m1 0h2m2 0h3m1 0h1m3 0h1m1 0h8m20 0h2m3 0h2m20 0h1m2 0h1m5 0h2m5 0h1m3 0h1m1 0h2m2 0h4m1 0h1m9 0h1m35 0h1m2 0h2m4 0h1m1 0h1m19 0h1m4 0h1m5 0h1m2 0h2m2 0h2m5 0h2m7 0h3m4 0h1m12 0h1m5 0h2m16 0h3m29 0h1m7 0h1m13 0h2m6 0h2m1 0h1m1 0h3m1 0h2m6 0h2m1 0h2m2 0h1m2 0h1m2 0h1m3 0h6m2 0h1m1 0h1m8 0h2m8 0h2m4 0h2m-406 1h2m2 0h2m2 0h2m6 0h3m5 0h4m2 0h1m1 0h1m3 0h4m6 0h1m1 0h3m7 0h1m2 0h1m1 0h1m1 0h2m1 0h1m9 0h1m1 0h2m14 0h2m11 0h1m18 0h1m38 0h1m6 0h2m2 0h1m10 0h4m13 0h1m2 0h2m3 0h1m3 0h3m5 0h1m7 0h1m9 0h1m4 0h1m3 0h1m1 0h1m13 0h2m2 0h1m1 0h2m36 0h1m18 0h1m3 0h2m3 0h5m3 0h1m4 0h1m4 0h2m8 0h2m2 0h2m1 0h2m1 0h1m6 0h1m2 0h1m11 0h1m1 0h2m-420 1h2m17 0h1m5 0h4m2 0h1m9 0h1m2 0h2m1 0h1m16 0h1m13 0h2m3 0h4m8 0h1m5 0h2m79 0h2m5 0h1m39 0h1m1 0h1m2 0h3m13 0h1m12 0h1m6 0h3m11 0h1m3 0h1m1 0h1m29 0h1m23 0h2m4 0h4m4 0h2m2 0h1m12 0h1m1 0h1m2 0h1m4 0h2m2 0h3m8 0h1m1 0h1m9 0h2m5 0h1m3 0h2m-400 1h1m1 0h1m5 0h2m2 0h2m4 0h1m2 0h2m3 0h1m6 0h2m3 0h2m1 0h1m4 0h1m7 0h1m3 0h1m2 0h1m3 0h3m7 0h2m20 0h2m8 0h2m48 0h1m4 0h2m13 0h1m3 0h2m3 0h1m13 0h1m9 0h1m11 0h1m2 0h2m2 0h2m14 0h1m1 0h1m42 0h1m36 0h1m5 0h2m4 0h1m8 0h4m7 0h2m3 0h2m6 0h1m8 0h2m4 0h1m2 0h1m3 0h1m2 0h3m-392 1h1m3 0h2m7 0h2m6 0h1m1 0h1m2 0h1m2 0h1m1 0h1m10 0h1m1 0h1m4 0h1m3 0h1m35 0h1m79 0h1m1 0h1m19 0h1m29 0h1m14 0h1m65 0h1m29 0h2m6 0h1m4 0h1m6 0h2m3 0h1m3 0h1m10 0h2m1 0h1m3 0h2m2 0h1m3 0h1m2 0h1m-405 1h2m15 0h2m5 0h6m3 0h1m4 0h1m13 0h1m10 0h1m3 0h1m32 0h2m2 0h2m78 0h1m2 0h2m11 0h1m4 0h1m4 0h1m1 0h2m2 0h1m99 0h1m32 0h1m5 0h1m5 0h2m4 0h1m6 0h3m3 0h1m4 0h1m3 0h1m1 0h2m1 0h1m9 0h1m-405 1h2m13 0h2m7 0h2m1 0h2m16 0h2m20 0h1m5 0h1m3 0h2m14 0h2m4 0h2m1 0h1m1 0h1m65 0h2m12 0h2m21 0h2m4 0h1m7 0h1m11 0h1m17 0h2m19 0h2m58 0h2m3 0h1m3 0h1m2 0h1m10 0h2m2 0h1m1 0h2m7 0h2m5 0h1m8 0h2m1 0h1m3 0h2m7 0h1m-383 1h2m5 0h2m1 0h1m5 0h1m9 0h1m11 0h4m5 0h1m8 0h3m14 0h1m70 0h1m20 0h1m20 0h1m3 0h1m18 0h1m3 0h2m3 0h1m4 0h1m7 0h3m18 0h1m29 0h2m28 0h1m4 0h1m3 0h1m2 0h3m7 0h1m2 0h2m3 0h1m10 0h3m2 0h1m2 0h2m12 0h2m2 0h2m2 0h1m-384 1h2m5 0h3m3 0h1m12 0h1m5 0h1m5 0h1m2 0h1m4 0h2m8 0h2m3 0h2m76 0h3m44 0h1m3 0h1m6 0h1m3 0h1m9 0h1m4 0h1m1 0h1m12 0h1m18 0h2m55 0h2m4 0h2m6 0h2m3 0h1m1 0h1m7 0h3m1 0h1m4 0h5m2 0h2m4 0h1m5 0h1m7 0h1m1 0h1m3 0h2m3 0h1m-436 1h1m29 0h3m8 0h2m10 0h3m3 0h1m16 0h1m11 0h1m1 0h1m4 0h5m4 0h1m3 0h1m2 0h3m10 0h2m9 0h5m12 0h3m45 0h2m14 0h2m11 0h1m3 0h2m9 0h1m14 0h1m22 0h1m18 0h2m56 0h1m5 0h2m7 0h1m3 0h1m5 0h1m3 0h1m1 0h2m1 0h1m4 0h3m3 0h2m3 0h1m6 0h3m3 0h1m2 0h2m3 0h1m-402 1h6m2 0h1m3 0h2m2 0h3m2 0h1m19 0h1m5 0h1m7 0h1m18 0h1m4 0h1m2 0h1m2 0h2m10 0h1m8 0h2m17 0h1m1 0h1m35 0h1m5 0h3m1 0h2m9 0h2m42 0h1m1 0h1m10 0h1m30 0h1m50 0h2m3 0h3m4 0h5m7 0h3m2 0h2m1 0h1m2 0h1m8 0h5m1 0h2m13 0h3m6 0h1m1 0h1m1 0h1m-437 1h1m34 0h1m3 0h2m2 0h1m1 0h2m3 0h4m1 0h2m2 0h1m1 0h1m23 0h1m8 0h2m13 0h1m5 0h1m2 0h1m1 0h2m7 0h2m1 0h1m5 0h3m1 0h1m1 0h3m9 0h4m2 0h1m3 0h1m29 0h4m3 0h5m30 0h1m5 0h1m6 0h1m37 0h2m12 0h4m48 0h1m2 0h2m3 0h2m1 0h1m1 0h6m1 0h1m7 0h2m3 0h3m3 0h2m5 0h1m3 0h2m1 0h1m2 0h2m8 0h1m2 0h1m2 0h1m1 0h2m4 0h4m-439 1h1m38 0h1m2 0h1m2 0h2m3 0h3m2 0h1m8 0h2m13 0h1m24 0h1m8 0h3m6 0h1m6 0h1m7 0h4m3 0h2m10 0h1m1 0h1m37 0h2m1 0h3m1 0h1m2 0h1m1 0h1m16 0h1m47 0h2m15 0h2m12 0h3m2 0h1m47 0h2m4 0h1m2 0h1m1 0h2m1 0h5m3 0h2m2 0h1m2 0h1m1 0h1m1 0h1m16 0h1m2 0h2m6 0h1m1 0h1m2 0h3m1 0h1m1 0h3m4 0h2m-401 1h2m15 0h1m6 0h1m2 0h1m20 0h1m4 0h1m21 0h1m1 0h3m5 0h1m3 0h2m12 0h2m6 0h1m13 0h2m32 0h1m2 0h2m3 0h3m1 0h1m10 0h1m53 0h1m14 0h1m15 0h1m4 0h1m25 0h1m4 0h1m19 0h1m10 0h2m8 0h1m6 0h3m5 0h1m8 0h1m5 0h3m4 0h1m5 0h1m3 0h5m-396 1h1m15 0h2m2 0h2m5 0h1m1 0h1m49 0h3m3 0h1m19 0h2m6 0h1m8 0h2m1 0h1m41 0h2m15 0h1m1 0h1m7 0h1m8 0h1m32 0h1m3 0h1m13 0h1m17 0h2m24 0h1m45 0h1m7 0h1m1 0h1m1 0h2m4 0h1m4 0h2m2 0h1m3 0h1m2 0h1m5 0h1m2 0h1m4 0h2m5 0h3m-394 1h1m3 0h2m2 0h1m3 0h2m5 0h4m48 0h3m31 0h1m8 0h1m40 0h1m4 0h1m76 0h1m26 0h1m60 0h2m6 0h2m3 0h1m3 0h2m3 0h1m17 0h1m2 0h1m1 0h2m3 0h8m1 0h1m6 0h1m5 0h1m-403 1h2m9 0h1m2 0h1m2 0h2m45 0h1m11 0h1m1 0h1m81 0h1m19 0h1m88 0h1m60 0h1m1 0h2m6 0h1m2 0h1m8 0h1m1 0h1m13 0h2m1 0h1m3 0h1m1 0h2m1 0h1m4 0h2m7 0h1m1 0h1m1 0h1m-399 1h1m10 0h2m51 0h1m6 0h1m5 0h2m100 0h1m8 0h1m80 0h2m28 0h2m30 0h2m10 0h2m6 0h1m18 0h2m9 0h2m2 0h1m11 0h2m-388 1h1m3 0h1m60 0h2m101 0h1m2 0h1m6 0h1m16 0h1m29 0h1m32 0h1m56 0h1m12 0h1m62 0h3m-403 1h1m10 0h1m1 0h1m2 0h1m1 0h1m18 0h1m12 0h2m10 0h1m12 0h1m22 0h1m5 0h2m72 0h1m5 0h1m17 0h1m3 0h1m29 0h1m25 0h2m60 0h1m37 0h1m8 0h1m24 0h1m-404 1h1m6 0h1m17 0h2m13 0h1m2 0h2m19 0h1m10 0h1m2 0h1m25 0h1m4 0h1m5 0h1m69 0h2m3 0h1m4 0h1m13 0h1m3 0h1m29 0h1m25 0h1m60 0h2m12 0h2m13 0h1m5 0h1m3 0h2m12 0h1m12 0h1m7 0h3m-407 1h1m19 0h1m9 0h1m17 0h2m6 0h1m2 0h2m8 0h2m30 0h1m4 0h2m7 0h1m9 0h2m35 0h2m29 0h2m16 0h2m24 0h2m55 0h1m5 0h2m13 0h2m13 0h1m14 0h1m3 0h2m17 0h1m1 0h2m1 0h1m6 0h2m24 0h3m-444 1h2m33 0h7m1 0h3m3 0h2m23 0h1m18 0h1m10 0h2m4 0h1m1 0h1m6 0h1m18 0h6m16 0h1m36 0h1m2 0h2m44 0h1m1 0h1m25 0h1m3 0h1m7 0h1m45 0h1m3 0h2m23 0h4m1 0h4m4 0h1m3 0h2m27 0h2m27 0h1m5 0h1m-443 1h1m34 0h13m26 0h1m16 0h2m1 0h1m3 0h1m1 0h1m30 0h2m4 0h3m1 0h4m53 0h3m18 0h2m2 0h2m20 0h2m30 0h3m2 0h1m25 0h2m22 0h1m1 0h3m6 0h2m16 0h1m1 0h7m3 0h2m3 0h1m2 0h1m1 0h1m2 0h1m7 0h2m1 0h2m4 0h1m-368 1h1m1 0h7m1 0h1m2 0h3m2 0h1m15 0h2m4 0h1m1 0h1m9 0h1m2 0h3m4 0h2m24 0h1m5 0h2m5 0h7m54 0h3m18 0h2m3 0h1m13 0h1m5 0h2m30 0h3m23 0h2m3 0h2m39 0h1m8 0h2m5 0h3m4 0h3m2 0h4m6 0h1m22 0h1m1 0h1m-374 1h2m1 0h3m2 0h1m6 0h2m12 0h1m2 0h1m3 0h2m11 0h1m7 0h1m2 0h1m2 0h1m2 0h2m13 0h1m9 0h2m11 0h3m2 0h2m10 0h1m36 0h1m22 0h4m15 0h2m4 0h1m32 0h1m2 0h1m76 0h1m7 0h5m7 0h1m2 0h1m14 0h1m6 0h1m10 0h1m2 0h1m9 0h2m3 0h1m2 0h1m2 0h1m3 0h2m-402 1h1m16 0h2m2 0h1m10 0h3m9 0h1m4 0h1m4 0h1m3 0h1m9 0h1m2 0h1m16 0h1m1 0h1m4 0h1m10 0h1m14 0h2m32 0h1m40 0h1m1 0h1m4 0h1m32 0h3m11 0h1m17 0h1m57 0h2m41 0h1m16 0h1m3 0h1m5 0h1m2 0h3m-385 1h1m10 0h2m1 0h1m3 0h1m11 0h2m2 0h1m1 0h2m3 0h1m3 0h1m58 0h1m76 0h3m2 0h1m1 0h1m29 0h1m62 0h2m38 0h1m4 0h1m5 0h1m32 0h2m12 0h2m-380 1h1m16 0h2m10 0h1m2 0h2m2 0h1m7 0h1m36 0h2m1 0h1m5 0h2m87 0h3m2 0h1m2 0h1m28 0h2m3 0h1m58 0h1m25 0h1m3 0h2m8 0h1m7 0h2m3 0h1m4 0h1m5 0h1m6 0h1m6 0h1m7 0h1m9 0h1m-420 1h2m39 0h1m10 0h1m5 0h1m2 0h1m15 0h2m9 0h3m33 0h1m3 0h2m92 0h1m35 0h1m7 0h1m1 0h1m1 0h1m52 0h1m25 0h1m3 0h1m21 0h1m18 0h1m2 0h1m5 0h2m19 0h1m-425 1h1m47 0h1m7 0h1m4 0h2m3 0h1m5 0h1m5 0h1m1 0h1m7 0h1m24 0h1m14 0h1m83 0h1m16 0h2m25 0h2m64 0h2m1 0h1m24 0h1m34 0h1m9 0h2m2 0h1m6 0h1m-381 1h2m9 0h1m10 0h3m2 0h1m7 0h2m9 0h1m1 0h5m1 0h4m131 0h1m10 0h1m1 0h1m1 0h1m25 0h6m3 0h1m56 0h1m33 0h1m51 0h1m-386 1h1m9 0h1m6 0h1m11 0h2m2 0h1m2 0h1m2 0h4m3 0h2m4 0h3m5 0h2m2 0h2m2 0h2m89 0h1m30 0h1m43 0h1m2 0h1m2 0h5m1 0h2m82 0h2m15 0h1m18 0h1m2 0h1m5 0h2m15 0h1m-397 1h2m2 0h1m36 0h4m1 0h2m1 0h1m5 0h3m2 0h2m2 0h1m1 0h2m1 0h1m91 0h1m1 0h1m15 0h1m14 0h1m5 0h1m3 0h1m3 0h1m2 0h3m25 0h2m1 0h2m21 0h2m63 0h2m2 0h1m14 0h1m23 0h1m22 0h1m-390 1h2m2 0h1m16 0h1m3 0h2m4 0h1m2 0h1m4 0h2m4 0h2m1 0h1m3 0h2m2 0h3m2 0h2m32 0h2m6 0h1m51 0h2m25 0h2m3 0h1m8 0h2m3 0h1m4 0h1m25 0h2m2 0h1m6 0h1m44 0h2m13 0h1m22 0h4m18 0h1m4 0h2m11 0h1m9 0h2m-383 1h4m1 0h1m3 0h1m6 0h1m19 0h2m9 0h1m6 0h2m1 0h1m2 0h2m1 0h1m1 0h2m24 0h1m7 0h2m1 0h1m1 0h1m3 0h1m75 0h2m1 0h2m2 0h2m8 0h1m5 0h2m1 0h2m25 0h3m5 0h1m2 0h1m44 0h2m38 0h1m8 0h1m3 0h1m3 0h3m18 0h1m6 0h2m-382 1h2m2 0h2m2 0h2m8 0h1m1 0h1m9 0h1m1 0h1m6 0h4m6 0h1m3 0h2m1 0h1m1 0h3m1 0h3m2 0h1m34 0h1m1 0h5m1 0h2m52 0h2m20 0h1m7 0h2m13 0h1m2 0h2m24 0h5m3 0h2m2 0h2m46 0h1m11 0h2m19 0h2m4 0h1m6 0h1m26 0h1m2 0h1m3 0h1m27 0h1m-444 1h2m34 0h2m1 0h5m19 0h1m6 0h2m4 0h4m2 0h4m2 0h1m2 0h9m2 0h3m29 0h1m3 0h4m2 0h2m2 0h1m65 0h1m10 0h2m3 0h1m4 0h1m4 0h6m4 0h2m24 0h9m1 0h1m1 0h1m58 0h1m14 0h1m1 0h1m3 0h1m9 0h1m3 0h1m8 0h1m15 0h2m5 0h1m5 0h2m20 0h1m-443 1h1m35 0h1m2 0h1m1 0h2m2 0h2m6 0h1m3 0h1m10 0h1m1 0h3m2 0h2m1 0h2m1 0h3m1 0h2m1 0h2m1 0h1m1 0h2m4 0h4m3 0h2m3 0h1m33 0h1m46 0h3m4 0h2m24 0h1m1 0h1m7 0h1m5 0h8m1 0h1m1 0h2m24 0h3m1 0h2m1 0h1m2 0h1m63 0h1m9 0h1m3 0h2m3 0h2m4 0h1m7 0h1m1 0h1m3 0h1m2 0h1m8 0h1m9 0h1m20 0h1m-397 1h1m4 0h2m12 0h1m3 0h1m6 0h1m1 0h3m2 0h2m3 0h2m5 0h3m4 0h1m1 0h1m2 0h1m2 0h6m19 0h1m48 0h3m12 0h2m1 0h2m29 0h1m2 0h3m1 0h1m1 0h5m2 0h1m3 0h3m30 0h2m3 0h1m2 0h3m70 0h1m11 0h1m4 0h1m14 0h1m-354 1h1m4 0h1m17 0h1m9 0h2m5 0h2m3 0h2m2 0h3m2 0h5m4 0h7m66 0h1m2 0h1m3 0h1m5 0h1m6 0h1m1 0h1m17 0h1m10 0h3m6 0h1m2 0h1m5 0h1m1 0h1m2 0h2m28 0h4m6 0h1m19 0h2m39 0h2m40 0h1m21 0h1m-378 1h1m30 0h2m9 0h1m3 0h2m4 0h3m1 0h5m4 0h1m2 0h1m1 0h1m65 0h3m16 0h4m6 0h1m27 0h2m6 0h1m1 0h1m5 0h1m2 0h1m27 0h1m3 0h1m3 0h1m2 0h3m59 0h1m1 0h2m2 0h2m18 0h2m8 0h1m24 0h1m1 0h1m12 0h1m9 0h1m7 0h1m-409 1h1m31 0h7m1 0h2m5 0h1m3 0h4m2 0h1m1 0h1m8 0h3m71 0h1m17 0h1m31 0h3m1 0h1m5 0h1m2 0h1m3 0h2m1 0h2m1 0h2m29 0h1m3 0h1m69 0h1m31 0h1m2 0h2m10 0h1m30 0h1m10 0h1m-400 1h1m22 0h1m2 0h1m1 0h1m1 0h1m4 0h2m1 0h1m6 0h3m3 0h2m1 0h1m2 0h4m89 0h1m37 0h1m10 0h4m1 0h2m24 0h5m1 0h1m1 0h1m1 0h1m4 0h1m2 0h1m47 0h2m52 0h1m16 0h1m6 0h1m13 0h1m-390 1h2m15 0h1m6 0h2m1 0h4m5 0h1m9 0h1m1 0h2m3 0h1m1 0h4m2 0h1m118 0h2m3 0h2m7 0h1m1 0h1m4 0h1m1 0h4m26 0h4m2 0h1m2 0h2m38 0h2m13 0h1m28 0h1m23 0h2m16 0h1m-369 1h1m1 0h2m9 0h1m10 0h1m3 0h2m5 0h3m5 0h1m4 0h2m3 0h1m1 0h2m4 0h2m39 0h1m72 0h2m6 0h1m5 0h1m3 0h1m2 0h1m1 0h2m1 0h1m4 0h2m58 0h1m15 0h1m36 0h1m6 0h1m42 0h3m3 0h1m6 0h1m-381 1h3m2 0h1m3 0h1m1 0h2m2 0h1m6 0h1m10 0h1m1 0h3m3 0h1m22 0h3m33 0h2m4 0h1m69 0h2m3 0h1m5 0h2m1 0h2m4 0h3m5 0h1m34 0h2m5 0h1m20 0h1m42 0h1m61 0h2m10 0h1m12 0h1m-401 1h2m5 0h1m15 0h3m39 0h1m5 0h1m24 0h1m1 0h1m1 0h1m1 0h2m2 0h1m56 0h1m7 0h1m7 0h1m10 0h2m1 0h1m6 0h1m41 0h1m3 0h1m2 0h1m6 0h2m9 0h1m2 0h1m7 0h1m1 0h2m4 0h2m11 0h1m1 0h3m1 0h1m5 0h1m59 0h1m3 0h2m9 0h3m7 0h2m5 0h1m-411 1h1m30 0h1m4 0h2m33 0h2m2 0h1m2 0h1m21 0h1m2 0h1m2 0h1m71 0h1m1 0h1m10 0h2m7 0h5m1 0h4m1 0h2m28 0h3m5 0h1m1 0h6m17 0h1m9 0h1m21 0h3m9 0h1m4 0h2m4 0h1m6 0h1m1 0h1m4 0h1m5 0h1m7 0h1m13 0h1m1 0h1m18 0h1m2 0h1m7 0h1m4 0h2m-380 1h1m5 0h1m34 0h5m1 0h1m24 0h1m10 0h1m63 0h1m13 0h2m2 0h1m7 0h2m1 0h1m4 0h1m12 0h1m16 0h4m2 0h4m1 0h3m3 0h1m11 0h2m7 0h1m6 0h1m2 0h1m3 0h1m3 0h1m4 0h1m2 0h2m16 0h1m10 0h1m1 0h3m7 0h2m11 0h1m7 0h1m12 0h1m2 0h1m6 0h1m6 0h2m3 0h1m-397 1h2m15 0h1m13 0h1m5 0h1m23 0h2m7 0h2m25 0h1m73 0h1m11 0h1m4 0h1m9 0h1m37 0h2m4 0h4m1 0h1m3 0h1m16 0h1m7 0h1m3 0h1m2 0h1m7 0h1m11 0h1m5 0h2m3 0h2m14 0h1m4 0h1m3 0h1m24 0h1m19 0h1m11 0h1m5 0h1m-443 1h2m39 0h2m16 0h1m4 0h1m6 0h1m25 0h1m2 0h2m120 0h2m3 0h3m2 0h1m2 0h1m2 0h2m14 0h1m29 0h2m3 0h1m34 0h1m6 0h1m11 0h1m9 0h1m7 0h1m12 0h2m3 0h2m4 0h1m17 0h1m7 0h2m-413 1h2m52 0h2m6 0h5m29 0h2m2 0h1m121 0h1m31 0h1m30 0h2m38 0h1m27 0h1m31 0h1m25 0h1m26 0h1m-386 1h1m2 0h1m2 0h2m1 0h1m1 0h2m17 0h2m4 0h1m6 0h1m6 0h1m121 0h2m2 0h1m26 0h2m29 0h1m57 0h1m3 0h1m21 0h1m5 0h1m-343 1h1m10 0h1m3 0h1m1 0h1m4 0h1m2 0h3m6 0h2m1 0h2m9 0h1m5 0h1m1 0h1m8 0h1m121 0h1m2 0h1m1 0h3m26 0h1m18 0h1m11 0h2m60 0h1m21 0h1m8 0h1m23 0h1m-364 1h1m1 0h1m11 0h1m4 0h1m11 0h1m27 0h1m1 0h2m109 0h2m8 0h1m4 0h2m45 0h1m11 0h1m27 0h1m120 0h1m-397 1h1m1 0h2m23 0h1m42 0h2m5 0h1m32 0h1m70 0h5m51 0h1m33 0h1m104 0h1m24 0h2m-436 1h1m52 0h1m2 0h1m3 0h2m33 0h1m6 0h2m6 0h1m97 0h2m4 0h2m5 0h1m45 0h2m8 0h2m-225 1h1m6 0h1m33 0h1m7 0h2m5 0h1m22 0h1m69 0h2m7 0h1m2 0h1m15 0h1m2 0h2m6 0h1m15 0h2m11 0h1m5 0h1m1 0h1m34 0h1m40 0h1m7 0h1m6 0h1m61 0h1m-428 1h1m29 0h1m16 0h3m48 0h3m4 0h1m2 0h2m49 0h1m11 0h1m8 0h1m9 0h1m3 0h1m11 0h2m2 0h1m1 0h2m12 0h1m2 0h1m7 0h1m15 0h1m11 0h3m2 0h2m4 0h3m30 0h1m9 0h1m25 0h1m1 0h1m10 0h1m10 0h1m6 0h1m13 0h3m19 0h1m8 0h2m-395 1h1m1 0h2m12 0h1m8 0h1m40 0h6m3 0h1m1 0h2m1 0h2m2 0h2m1 0h2m33 0h1m14 0h1m3 0h1m1 0h1m5 0h2m8 0h1m1 0h1m3 0h1m1 0h1m9 0h1m4 0h1m1 0h2m2 0h1m2 0h1m7 0h1m5 0h2m26 0h3m1 0h2m2 0h7m2 0h3m10 0h2m9 0h2m10 0h1m32 0h1m1 0h1m6 0h2m6 0h1m6 0h1m3 0h2m10 0h1m15 0h1m16 0h1m10 0h1m-405 1h1m7 0h1m12 0h1m15 0h1m1 0h2m25 0h7m3 0h1m1 0h1m3 0h2m4 0h2m6 0h1m4 0h1m6 0h1m28 0h1m24 0h1m20 0h2m34 0h2m14 0h2m1 0h8m1 0h6m1 0h1m4 0h2m7 0h1m12 0h2m22 0h1m5 0h1m8 0h1m27 0h1m2 0h1m7 0h2m17 0h1m6 0h1m-380 1h1m9 0h1m3 0h3m1 0h1m11 0h1m4 0h2m7 0h1m14 0h2m1 0h2m2 0h1m6 0h1m4 0h7m6 0h2m63 0h1m2 0h1m10 0h1m5 0h2m1 0h2m32 0h1m15 0h3m1 0h3m2 0h1m1 0h7m1 0h1m16 0h2m2 0h1m29 0h1m11 0h2m2 0h1m9 0h1m4 0h1m33 0h1m1 0h1m15 0h1m5 0h1m5 0h1m-395 1h1m38 0h2m12 0h2m1 0h1m21 0h1m5 0h1m7 0h1m75 0h1m8 0h2m53 0h3m5 0h7m1 0h1m14 0h1m65 0h1m6 0h1m49 0h1m-377 1h1m6 0h1m21 0h1m13 0h1m10 0h2m18 0h1m78 0h1m4 0h1m6 0h3m6 0h1m27 0h1m13 0h1m4 0h2m8 0h1m1 0h2m9 0h1m11 0h1m8 0h1m53 0h1m1 0h1m4 0h1m47 0h1m-375 1h1m4 0h3m46 0h1m19 0h1m78 0h1m6 0h3m2 0h2m40 0h2m7 0h1m4 0h2m2 0h1m5 0h1m39 0h2m11 0h1m30 0h1m34 0h1m3 0h1m21 0h1m-376 1h1m1 0h1m2 0h1m16 0h2m51 0h1m68 0h3m13 0h1m1 0h3m52 0h2m5 0h1m57 0h1m19 0h1m30 0h2m-356 1h1m20 0h2m3 0h2m26 0h1m2 0h1m107 0h1m1 0h2m1 0h1m5 0h2m5 0h1m48 0h2m4 0h1m37 0h1m37 0h1m20 0h2m4 0h1m29 0h1m-344 1h1m25 0h1m35 0h2m51 0h1m32 0h1m55 0h1m32 0h1m15 0h1m21 0h1m31 0h1m1 0h1m3 0h1m1 0h1m27 0h1m37 0h1m-390 1h3m67 0h1m54 0h4m14 0h2m4 0h3m2 0h2m3 0h3m59 0h2m25 0h1m66 0h1m-356 1h1m39 0h1m8 0h2m37 0h1m50 0h1m23 0h1m3 0h1m18 0h2m1 0h1m4 0h2m5 0h1m4 0h1m54 0h2m2 0h2m5 0h1m131 0h1m7 0h2m-432 1h1m58 0h2m4 0h3m38 0h1m1 0h1m3 0h1m33 0h1m26 0h2m26 0h1m3 0h2m4 0h2m1 0h2m8 0h1m17 0h1m36 0h1m6 0h2m2 0h1m11 0h2m3 0h1m54 0h1m13 0h2m23 0h1m7 0h1m10 0h1m4 0h1m3 0h1m-409 1h1m37 0h1m5 0h2m7 0h2m29 0h1m2 0h1m13 0h5m2 0h1m2 0h2m2 0h2m34 0h2m7 0h2m1 0h1m13 0h1m2 0h1m6 0h2m2 0h2m3 0h2m23 0h1m2 0h2m11 0h1m27 0h4m3 0h2m15 0h1m15 0h1m1 0h2m11 0h1m18 0h1m1 0h2m12 0h1m3 0h1m16 0h1m3 0h1m15 0h2m10 0h1m4 0h2m-402 1h1m15 0h2m53 0h2m1 0h1m1 0h6m1 0h1m1 0h3m2 0h3m2 0h1m1 0h2m2 0h1m11 0h2m3 0h1m15 0h1m19 0h1m9 0h1m5 0h1m11 0h1m1 0h1m21 0h1m4 0h1m6 0h2m4 0h1m20 0h2m6 0h1m1 0h2m15 0h1m21 0h1m6 0h1m5 0h1m31 0h1m4 0h4m18 0h2m4 0h1m2 0h2m10 0h1m1 0h2m1 0h2m8 0h2m2 0h1m3 0h2m-418 1h1m15 0h1m50 0h1m10 0h1m1 0h8m3 0h3m3 0h1m3 0h4m1 0h2m1 0h1m3 0h1m1 0h2m2 0h1m13 0h2m11 0h2m11 0h1m20 0h2m6 0h1m8 0h4m25 0h1m3 0h1m11 0h1m5 0h2m1 0h1m6 0h4m1 0h4m7 0h1m1 0h3m6 0h1m2 0h1m1 0h2m4 0h3m7 0h2m27 0h1m8 0h1m2 0h2m2 0h2m9 0h1m4 0h1m13 0h1m7 0h1m8 0h2m7 0h3m2 0h1m3 0h2m-436 1h1m13 0h1m10 0h1m7 0h1m51 0h1m12 0h2m3 0h1m12 0h2m2 0h1m1 0h1m2 0h1m1 0h1m4 0h2m2 0h1m6 0h1m7 0h1m19 0h2m20 0h2m20 0h1m1 0h1m42 0h1m9 0h2m3 0h1m3 0h3m1 0h1m8 0h1m6 0h1m3 0h1m5 0h1m4 0h2m20 0h1m3 0h2m21 0h3m3 0h1m8 0h1m1 0h1m20 0h1m2 0h1m13 0h1m4 0h2m9 0h1m3 0h1m-449 1h1m23 0h1m24 0h1m7 0h1m19 0h2m54 0h2m5 0h1m2 0h1m9 0h1m27 0h1m23 0h2m6 0h1m1 0h2m61 0h3m4 0h1m4 0h1m2 0h1m8 0h2m67 0h1m1 0h3m11 0h1m59 0h1m-409 1h1m2 0h1m1 0h2m3 0h1m27 0h1m65 0h1m26 0h1m10 0h1m8 0h1m16 0h2m4 0h1m1 0h2m59 0h3m8 0h2m1 0h2m20 0h1m11 0h2m42 0h2m1 0h1m2 0h1m3 0h2m6 0h1m14 0h1m34 0h1m-396 1h1m1 0h3m11 0h2m69 0h1m4 0h1m8 0h2m2 0h1m2 0h1m40 0h1m2 0h1m10 0h2m1 0h1m7 0h1m6 0h2m52 0h1m1 0h4m26 0h2m1 0h2m25 0h1m19 0h1m16 0h1m1 0h1m29 0h1m-407 1h1m2 0h1m6 0h1m3 0h1m25 0h1m3 0h1m11 0h1m70 0h1m9 0h1m6 0h2m1 0h2m32 0h1m10 0h1m10 0h1m8 0h1m25 0h2m39 0h1m3 0h2m1 0h1m5 0h1m131 0h1m3 0h2m3 0h2m6 0h1m-443 1h1m9 0h1m4 0h2m119 0h1m1 0h2m5 0h2m2 0h1m32 0h1m32 0h2m5 0h2m15 0h1m2 0h2m26 0h2m21 0h1m3 0h2m14 0h1m49 0h1m9 0h1m1 0h1m30 0h1m18 0h1m3 0h1m4 0h1m1 0h1m5 0h1m-443 1h3m2 0h1m5 0h1m3 0h1m36 0h2m17 0h1m66 0h1m1 0h1m1 0h2m61 0h2m2 0h1m3 0h1m4 0h1m3 0h2m46 0h1m9 0h2m15 0h1m4 0h2m31 0h1m6 0h1m25 0h1m5 0h1m10 0h1m19 0h2m35 0h1m-440 1h1m3 0h3m36 0h1m5 0h1m82 0h1m6 0h1m5 0h1m4 0h1m8 0h1m41 0h2m3 0h1m3 0h1m1 0h6m59 0h1m15 0h1m9 0h1m25 0h1m2 0h1m16 0h1m19 0h1m5 0h1m6 0h1m8 0h3m9 0h1m35 0h1m-439 1h1m2 0h2m27 0h2m13 0h1m76 0h2m5 0h1m3 0h1m1 0h2m5 0h1m13 0h1m45 0h1m6 0h1m1 0h1m12 0h1m5 0h1m38 0h1m15 0h2m3 0h1m12 0h1m12 0h2m2 0h2m2 0h1m2 0h2m7 0h1m4 0h1m23 0h2m9 0h1m12 0h1m6 0h1m2 0h1m10 0h1m7 0h2m2 0h1m-427 1h1m1 0h1m2 0h2m3 0h1m2 0h1m6 0h1m13 0h1m6 0h2m1 0h1m67 0h5m1 0h1m2 0h3m7 0h1m5 0h5m2 0h2m1 0h2m10 0h2m42 0h1m1 0h2m2 0h2m4 0h2m2 0h1m14 0h1m43 0h2m5 0h1m2 0h3m8 0h2m6 0h1m2 0h1m2 0h2m4 0h2m6 0h1m7 0h1m3 0h1m8 0h2m17 0h3m2 0h1m7 0h1m8 0h2m9 0h1m2 0h1m14 0h1m3 0h1m1 0h1m6 0h1m1 0h1m2 0h2m4 0h2m-444 1h5m1 0h2m14 0h1m2 0h1m18 0h1m23 0h1m35 0h13m1 0h6m1 0h1m2 0h1m1 0h3m4 0h2m1 0h9m1 0h1m10 0h2m16 0h2m4 0h2m1 0h1m13 0h2m4 0h5m2 0h3m10 0h1m12 0h1m24 0h2m10 0h1m4 0h2m1 0h7m2 0h4m2 0h1m1 0h1m2 0h3m1 0h2m1 0h2m3 0h2m2 0h3m8 0h1m14 0h2m1 0h1m9 0h1m9 0h3m3 0h1m1 0h3m2 0h1m1 0h2m5 0h2m5 0h1m1 0h1m5 0h2m6 0h1m3 0h3m1 0h1m1 0h1m4 0h1m1 0h3m6 0h1m-443 1h3m3 0h2m9 0h1m7 0h1m18 0h1m9 0h2m4 0h2m9 0h1m33 0h6m1 0h2m1 0h2m1 0h1m1 0h3m1 0h2m2 0h1m2 0h3m3 0h4m2 0h8m10 0h1m17 0h1m5 0h1m2 0h1m14 0h3m2 0h2m10 0h2m6 0h1m1 0h2m24 0h1m2 0h2m13 0h1m1 0h2m3 0h1m1 0h1m1 0h3m1 0h1m1 0h3m2 0h1m2 0h1m1 0h3m1 0h1m2 0h3m2 0h1m3 0h4m4 0h1m2 0h1m1 0h1m1 0h2m26 0h1m6 0h1m9 0h1m1 0h2m3 0h1m1 0h2m11 0h1m2 0h3m2 0h2m2 0h1m1 0h1m4 0h1m1 0h3m2 0h1m6 0h1m1 0h2m4 0h2m-441 1h3m3 0h1m1 0h2m21 0h1m10 0h2m5 0h3m7 0h1m10 0h1m33 0h1m3 0h2m1 0h1m8 0h1m1 0h2m6 0h2m4 0h5m2 0h2m2 0h1m29 0h1m14 0h2m6 0h1m18 0h2m22 0h2m10 0h1m2 0h1m16 0h1m4 0h1m1 0h1m2 0h3m1 0h3m6 0h2m4 0h3m17 0h1m2 0h1m1 0h1m29 0h1m6 0h1m5 0h1m3 0h3m3 0h1m6 0h1m2 0h2m4 0h1m2 0h2m8 0h1m12 0h1m6 0h1m1 0h1m-433 1h6m1 0h1m10 0h1m21 0h2m6 0h1m57 0h1m9 0h2m1 0h1m18 0h2m1 0h6m16 0h1m27 0h1m5 0h2m14 0h2m3 0h1m23 0h1m19 0h2m15 0h3m2 0h2m2 0h1m9 0h1m5 0h2m7 0h1m30 0h1m20 0h1m3 0h1m1 0h1m3 0h1m13 0h1m14 0h2m4 0h1m22 0h1m4 0h2m-443 1h1m2 0h6m17 0h1m15 0h1m2 0h1m1 0h3m2 0h2m82 0h2m2 0h1m1 0h1m1 0h3m1 0h1m3 0h1m18 0h2m26 0h2m7 0h2m2 0h2m1 0h2m4 0h1m60 0h2m50 0h1m8 0h1m28 0h1m1 0h1m17 0h1m48 0h1m-440 1h6m3 0h2m3 0h2m8 0h1m9 0h2m10 0h1m63 0h2m22 0h1m5 0h4m3 0h1m2 0h1m18 0h1m20 0h1m10 0h3m1 0h2m3 0h1m2 0h1m76 0h2m9 0h1m19 0h2m11 0h1m7 0h1m26 0h4m59 0h2m8 0h2m-445 1h1m1 0h3m1 0h1m3 0h4m1 0h1m95 0h1m25 0h1m1 0h1m1 0h3m3 0h2m52 0h2m3 0h2m5 0h1m5 0h2m54 0h1m26 0h1m4 0h1m1 0h1m7 0h1m12 0h1m12 0h1m3 0h1m8 0h1m11 0h1m3 0h2m3 0h1m23 0h1m3 0h1m17 0h2m7 0h2m7 0h2m-443 1h1m2 0h2m1 0h2m2 0h4m25 0h2m4 0h1m2 0h1m1 0h1m57 0h1m22 0h1m5 0h1m3 0h3m2 0h2m71 0h1m7 0h2m55 0h2m31 0h1m26 0h2m28 0h1m26 0h1m3 0h1m17 0h1m4 0h2m-428 1h2m1 0h2m2 0h5m17 0h1m76 0h1m7 0h3m5 0h2m5 0h1m5 0h2m3 0h1m2 0h2m66 0h1m34 0h2m30 0h1m35 0h1m30 0h1m24 0h3m21 0h1m20 0h1m10 0h1m2 0h2m-430 1h4m4 0h1m1 0h2m16 0h1m19 0h1m64 0h1m1 0h1m10 0h1m7 0h1m5 0h3m35 0h1m19 0h3m4 0h2m6 0h2m10 0h2m8 0h2m8 0h1m41 0h2m1 0h1m17 0h2m26 0h1m33 0h1m-373 1h5m7 0h2m23 0h4m5 0h1m3 0h1m12 0h2m63 0h1m10 0h1m2 0h1m1 0h3m32 0h2m15 0h8m3 0h1m1 0h1m6 0h2m51 0h2m16 0h3m2 0h1m15 0h3m3 0h1m14 0h2m6 0h2m17 0h1m11 0h1m1 0h4m3 0h1m5 0h1m8 0h2m3 0h1m16 0h1m18 0h1m-432 1h2m1 0h2m2 0h1m2 0h1m24 0h2m4 0h3m4 0h1m59 0h2m25 0h9m33 0h3m18 0h2m3 0h3m1 0h2m2 0h2m3 0h2m26 0h2m21 0h1m5 0h2m3 0h1m1 0h1m16 0h3m5 0h3m4 0h1m12 0h2m13 0h1m11 0h2m11 0h1m1 0h4m4 0h1m14 0h2m4 0h2m14 0h1m13 0h1m4 0h1m5 0h2m1 0h4m-447 1h5m1 0h1m3 0h3m4 0h2m18 0h3m22 0h2m42 0h13m2 0h1m1 0h2m1 0h2m2 0h18m1 0h2m10 0h1m25 0h1m3 0h1m9 0h1m4 0h3m1 0h1m2 0h2m11 0h1m12 0h2m30 0h1m7 0h5m1 0h1m2 0h2m4 0h2m1 0h2m1 0h3m5 0h3m1 0h1m4 0h1m3 0h2m16 0h2m1 0h1m8 0h1m3 0h1m14 0h4m13 0h3m1 0h4m3 0h6m1 0h2m7 0h3m7 0h2m5 0h1m1 0h2m2 0h1m2 0h4m-446 1h1m2 0h4m2 0h1m2 0h1m2 0h2m1 0h2m5 0h2m1 0h1m4 0h2m2 0h1m1 0h1m1 0h3m2 0h1m1 0h2m14 0h1m43 0h8m1 0h3m2 0h13m3 0h1m1 0h1m1 0h10m2 0h2m4 0h3m8 0h2m11 0h2m2 0h2m3 0h4m11 0h2m5 0h1m12 0h2m1 0h2m8 0h1m9 0h2m22 0h1m4 0h1m1 0h3m1 0h2m2 0h2m1 0h1m2 0h2m2 0h1m2 0h1m4 0h2m3 0h2m5 0h2m1 0h4m2 0h2m6 0h2m6 0h3m12 0h1m13 0h2m2 0h2m1 0h1m2 0h2m1 0h1m1 0h6m2 0h1m3 0h5m1 0h2m2 0h3m3 0h1m1 0h1m2 0h2m2 0h2m5 0h5m1 0h3m1 0h2m-444 1h3m1 0h5m2 0h4m2 0h1m1 0h2m3 0h2m1 0h1m4 0h2m7 0h2m1 0h2m1 0h2m2 0h2m17 0h1m12 0h2m16 0h2m4 0h8m1 0h1m2 0h1m1 0h1m1 0h1m1 0h2m1 0h2m2 0h3m2 0h1m3 0h9m2 0h1m7 0h2m9 0h1m11 0h1m16 0h1m6 0h3m5 0h2m11 0h1m6 0h1m14 0h1m13 0h1m9 0h1m4 0h1m9 0h2m1 0h3m3 0h2m4 0h2m1 0h2m2 0h3m4 0h5m2 0h2m2 0h1m2 0h1m8 0h5m22 0h3m3 0h1m3 0h2m3 0h1m2 0h3m1 0h2m1 0h2m1 0h1m2 0h2m1 0h1m2 0h2m3 0h2m1 0h6m2 0h1m8 0h2m2 0h1m3 0h1m-439 1h3m1 0h5m1 0h2m1 0h2m2 0h3m13 0h1m8 0h2m7 0h1m18 0h2m11 0h1m23 0h1m1 0h2m2 0h1m5 0h1m5 0h1m2 0h1m4 0h3m2 0h1m3 0h4m1 0h2m11 0h1m18 0h2m9 0h2m8 0h1m4 0h4m1 0h1m2 0h2m1 0h1m11 0h1m59 0h1m4 0h1m10 0h1m6 0h3m4 0h1m3 0h1m2 0h1m15 0h2m8 0h1m16 0h2m1 0h3m1 0h1m11 0h1m11 0h1m1 0h2m7 0h1m2 0h1m1 0h2m17 0h2m-435 1h8m3 0h3m2 0h1m22 0h1m2 0h3m7 0h3m14 0h1m10 0h3m29 0h2m3 0h1m11 0h2m2 0h2m1 0h4m1 0h5m2 0h3m27 0h1m20 0h1m2 0h4m81 0h1m6 0h2m12 0h1m1 0h1m10 0h2m23 0h1m24 0h4m25 0h1m32 0h2m-436 1h4m1 0h2m1 0h9m21 0h1m2 0h2m1 0h2m4 0h2m1 0h1m27 0h2m28 0h3m4 0h1m14 0h1m3 0h1m1 0h1m1 0h2m4 0h4m37 0h1m11 0h6m5 0h3m3 0h1m60 0h2m15 0h2m10 0h1m5 0h1m7 0h1m17 0h1m30 0h1m1 0h4m1 0h2m2 0h1m16 0h1m5 0h2m13 0h2m14 0h1m-436 1h1m1 0h5m1 0h5m1 0h2m21 0h2m3 0h2m3 0h2m1 0h1m2 0h1m1 0h1m55 0h1m2 0h2m17 0h1m3 0h1m3 0h1m1 0h3m4 0h1m37 0h1m13 0h5m1 0h1m1 0h2m3 0h3m89 0h1m30 0h3m31 0h6m2 0h1m3 0h2m4 0h2m23 0h2m12 0h2m7 0h2m3 0h1m-442 1h4m1 0h7m7 0h1m15 0h3m3 0h6m3 0h1m1 0h2m82 0h2m1 0h2m1 0h2m2 0h4m28 0h1m21 0h3m1 0h1m1 0h1m1 0h1m70 0h1m26 0h2m8 0h1m6 0h1m27 0h2m4 0h1m7 0h3m2 0h4m2 0h1m5 0h2m6 0h2m21 0h4m10 0h1m5 0h2m1 0h1m-438 1h9m1 0h5m5 0h1m7 0h2m10 0h3m3 0h1m4 0h1m1 0h1m83 0h1m1 0h9m2 0h2m49 0h1m11 0h2m99 0h1m4 0h1m3 0h2m2 0h3m22 0h1m17 0h3m1 0h2m1 0h2m4 0h2m1 0h2m3 0h1m11 0h2m4 0h1m4 0h1m1 0h2m16 0h1m-435 1h4m1 0h4m3 0h3m13 0h1m11 0h1m5 0h2m5 0h1m62 0h1m22 0h2m1 0h7m1 0h1m34 0h1m23 0h2m103 0h1m5 0h2m1 0h1m3 0h1m9 0h2m29 0h1m2 0h3m3 0h1m8 0h1m7 0h1m14 0h1m27 0h1m-440 1h11m1 0h3m23 0h1m3 0h2m1 0h3m4 0h4m62 0h1m20 0h1m1 0h2m1 0h6m1 0h2m7 0h1m12 0h2m7 0h2m3 0h1m13 0h2m4 0h2m1 0h2m12 0h2m3 0h1m11 0h1m43 0h3m3 0h1m30 0h1m18 0h1m28 0h5m1 0h4m13 0h1m2 0h1m7 0h1m13 0h2m1 0h2m16 0h1m-440 1h13m1 0h2m22 0h1m5 0h3m6 0h1m40 0h2m13 0h1m5 0h1m1 0h2m1 0h2m11 0h2m1 0h7m1 0h3m1 0h1m3 0h1m7 0h1m12 0h1m8 0h1m13 0h1m4 0h1m3 0h3m2 0h1m1 0h2m4 0h2m21 0h1m6 0h2m36 0h1m3 0h2m5 0h2m12 0h1m10 0h5m4 0h1m9 0h1m18 0h1m7 0h1m1 0h2m1 0h2m6 0h2m2 0h1m21 0h2m6 0h2m1 0h1m2 0h1m2 0h2m15 0h1m-443 1h1m2 0h8m1 0h5m2 0h2m4 0h2m6 0h1m9 0h3m1 0h1m5 0h3m39 0h1m12 0h3m3 0h2m1 0h5m1 0h3m1 0h1m3 0h1m5 0h1m1 0h5m1 0h6m14 0h1m35 0h4m1 0h1m1 0h2m3 0h2m2 0h3m9 0h2m16 0h1m1 0h3m27 0h2m2 0h2m2 0h1m3 0h3m4 0h1m5 0h4m4 0h2m4 0h1m5 0h1m1 0h4m2 0h2m4 0h2m3 0h1m2 0h1m10 0h1m3 0h1m6 0h2m1 0h2m1 0h2m3 0h1m6 0h1m3 0h2m2 0h2m2 0h5m2 0h2m3 0h2m2 0h2m1 0h4m4 0h1m2 0h2m3 0h2m1 0h1m1 0h2m2 0h1m-443 1h1m3 0h14m7 0h1m14 0h2m1 0h6m1 0h2m1 0h4m56 0h7m3 0h3m1 0h1m1 0h3m1 0h5m1 0h15m1 0h1m3 0h2m4 0h1m27 0h1m1 0h2m7 0h3m1 0h4m2 0h2m1 0h1m6 0h2m3 0h1m11 0h2m1 0h2m1 0h2m1 0h1m7 0h1m5 0h2m1 0h1m11 0h5m1 0h2m1 0h1m2 0h1m2 0h1m10 0h1m1 0h1m2 0h6m7 0h1m3 0h1m1 0h3m1 0h1m4 0h1m4 0h1m4 0h2m9 0h2m10 0h10m7 0h3m4 0h1m3 0h1m10 0h1m3 0h4m1 0h7m2 0h1m2 0h3m4 0h2m1 0h2" stroke="#0000ff" stroke-width="1" fill="none" transform="translate(0 0.5)"/>
<path d="M334 205h2m2 0h2m2 0h1m-24 1h1m14 0h1m2 0h2m4 0h2m-195 1h2m3 0h1m148 0h4m12 0h2m5 0h2m-178 1h1m2 0h2m65 0h1m84 0h1m9 0h1m1 0h1m13 0h1m6 0h4m4 0h2m99 0h2m-343 1h2m42 0h2m1 0h1m66 0h1m13 0h1m48 0h2m20 0h1m9 0h1m2 0h1m14 0h3m2 0h1m2 0h3m6 0h1m15 0h2m79 0h1m16 0h2m-360 1h1m9 0h1m33 0h1m151 0h5m8 0h1m3 0h2m12 0h1m1 0h3m1 0h1m1 0h1m8 0h1m32 0h1m92 0h1m-395 1h1m220 0h2m2 0h1m9 0h1m1 0h1m6 0h2m5 0h1m1 0h2m13 0h1m13 0h1m11 0h1m6 0h1m50 0h1m29 0h1m30 0h2m-415 1h1m1 0h1m46 0h1m18 0h2m57 0h1m93 0h1m13 0h1m16 0h2m2 0h2m10 0h1m4 0h1m20 0h1m57 0h1m-285 1h1m1 0h1m3 0h2m15 0h1m14 0h1m20 0h1m95 0h2m8 0h1m9 0h2m4 0h2m1 0h2m2 0h3m1 0h1m12 0h1m146 0h2m-368 1h1m4 0h1m14 0h1m16 0h2m128 0h3m11 0h1m1 0h1m4 0h3m8 0h2m2 0h2m1 0h1m116 0h1m4 0h2m12 0h1m2 0h1m13 0h2m5 0h1m-367 1h1m4 0h1m31 0h1m5 0h2m122 0h1m1 0h1m13 0h1m6 0h2m5 0h1m1 0h2m1 0h3m1 0h2m24 0h1m90 0h1m11 0h2m8 0h1m2 0h1m16 0h3m-331 1h1m4 0h2m28 0h2m95 0h1m9 0h2m16 0h1m1 0h1m2 0h2m1 0h2m93 0h1m11 0h1m32 0h1m20 0h1m-354 1h3m2 0h1m22 0h2m47 0h1m78 0h1m12 0h1m4 0h3m12 0h2m1 0h1m4 0h2m2 0h2m1 0h1m127 0h3m1 0h2m3 0h1m11 0h2m-423 1h1m31 0h1m38 0h4m9 0h1m7 0h2m2 0h4m45 0h1m22 0h2m49 0h2m1 0h2m11 0h2m1 0h2m2 0h3m9 0h6m9 0h1m2 0h2m97 0h1m18 0h2m7 0h1m2 0h1m1 0h1m4 0h1m-345 1h2m1 0h2m2 0h2m9 0h1m9 0h1m2 0h1m34 0h2m23 0h1m11 0h1m33 0h1m16 0h1m2 0h2m10 0h2m2 0h1m3 0h1m1 0h1m7 0h3m3 0h1m1 0h3m48 0h2m54 0h1m3 0h1m27 0h3m19 0h1m7 0h1m-365 1h2m1 0h2m2 0h2m6 0h2m11 0h2m1 0h3m26 0h1m30 0h1m49 0h1m17 0h3m7 0h2m6 0h1m7 0h4m3 0h4m5 0h2m1 0h1m97 0h2m3 0h1m5 0h2m3 0h2m18 0h1m4 0h2m8 0h1m2 0h4m-366 1h2m7 0h2m1 0h2m4 0h1m14 0h1m3 0h2m100 0h2m2 0h2m2 0h1m17 0h3m1 0h2m3 0h2m9 0h1m5 0h3m1 0h1m2 0h5m4 0h1m2 0h1m97 0h1m4 0h1m5 0h2m3 0h2m11 0h1m1 0h2m7 0h2m11 0h2m1 0h1m-356 1h1m2 0h2m4 0h1m14 0h2m2 0h2m106 0h2m13 0h1m4 0h2m2 0h2m3 0h2m6 0h5m2 0h1m1 0h1m1 0h2m1 0h1m1 0h3m5 0h1m3 0h4m94 0h1m2 0h1m10 0h2m15 0h1m4 0h1m3 0h1m10 0h5m-396 1h1m37 0h1m3 0h1m1 0h4m21 0h2m86 0h1m17 0h2m2 0h1m15 0h1m1 0h2m2 0h4m4 0h1m4 0h3m4 0h2m2 0h3m2 0h3m1 0h1m4 0h1m2 0h1m1 0h3m71 0h1m21 0h1m2 0h1m12 0h2m18 0h1m10 0h1m6 0h1m-364 1h2m5 0h3m1 0h1m3 0h1m3 0h1m19 0h1m104 0h1m3 0h1m15 0h3m1 0h1m1 0h4m2 0h2m2 0h1m4 0h1m1 0h5m2 0h3m2 0h5m5 0h1m1 0h1m2 0h1m72 0h1m20 0h2m4 0h3m12 0h1m2 0h2m3 0h2m6 0h1m5 0h2m3 0h2m4 0h2m-380 1h1m15 0h1m6 0h3m1 0h2m1 0h2m18 0h1m4 0h2m30 0h1m87 0h3m2 0h3m2 0h2m2 0h1m2 0h1m2 0h4m1 0h2m1 0h1m1 0h2m1 0h3m1 0h2m1 0h6m6 0h2m1 0h1m93 0h1m11 0h2m7 0h1m10 0h1m4 0h1m5 0h2m3 0h1m5 0h3m-365 1h2m5 0h1m3 0h1m1 0h5m1 0h1m7 0h2m6 0h2m2 0h2m30 0h1m72 0h4m6 0h2m5 0h1m2 0h1m2 0h4m1 0h1m3 0h6m2 0h2m1 0h4m1 0h6m1 0h6m1 0h2m3 0h2m1 0h3m14 0h1m45 0h1m34 0h1m12 0h2m2 0h3m2 0h1m5 0h2m19 0h3m7 0h1m-430 1h1m18 0h1m34 0h1m3 0h2m5 0h1m2 0h2m1 0h5m1 0h1m6 0h2m11 0h1m98 0h2m4 0h3m4 0h2m1 0h1m3 0h1m4 0h3m1 0h1m1 0h5m6 0h1m2 0h1m1 0h2m2 0h1m3 0h5m1 0h6m1 0h1m4 0h5m80 0h2m14 0h1m1 0h1m5 0h2m3 0h1m3 0h1m1 0h1m10 0h1m2 0h1m3 0h2m4 0h2m3 0h2m1 0h1m4 0h1m1 0h2m-376 1h1m10 0h2m1 0h8m8 0h1m3 0h1m4 0h1m2 0h3m97 0h1m5 0h2m2 0h1m2 0h4m2 0h4m1 0h1m1 0h6m1 0h2m2 0h3m2 0h1m2 0h5m1 0h3m1 0h9m1 0h2m1 0h2m3 0h2m1 0h1m21 0h1m77 0h1m5 0h3m2 0h2m2 0h2m9 0h4m6 0h2m3 0h1m4 0h2m6 0h5m-400 1h1m17 0h2m2 0h3m9 0h1m2 0h1m1 0h4m2 0h2m2 0h1m8 0h1m2 0h2m1 0h1m1 0h1m34 0h2m43 0h2m20 0h1m2 0h6m2 0h2m3 0h1m1 0h4m1 0h12m2 0h6m1 0h1m1 0h5m1 0h5m1 0h10m2 0h2m1 0h1m21 0h1m54 0h1m17 0h1m2 0h1m1 0h1m5 0h2m3 0h1m4 0h1m6 0h2m3 0h1m13 0h2m1 0h2m9 0h2m-381 1h1m4 0h1m2 0h1m7 0h2m2 0h7m1 0h3m4 0h2m4 0h2m4 0h3m33 0h1m44 0h1m24 0h1m2 0h3m2 0h2m3 0h6m1 0h5m1 0h2m3 0h4m2 0h1m1 0h3m2 0h3m3 0h1m2 0h9m1 0h3m1 0h1m2 0h2m93 0h2m10 0h1m3 0h2m2 0h3m7 0h1m2 0h1m1 0h4m6 0h2m6 0h2m-380 1h3m9 0h1m2 0h2m4 0h7m1 0h8m3 0h4m4 0h1m1 0h2m2 0h3m14 0h2m91 0h1m3 0h1m1 0h1m1 0h7m1 0h6m1 0h4m3 0h6m1 0h2m1 0h13m1 0h3m1 0h5m3 0h2m13 0h1m78 0h4m3 0h2m4 0h1m3 0h1m3 0h3m1 0h2m2 0h2m3 0h1m1 0h1m1 0h1m2 0h2m3 0h3m14 0h1m-388 1h3m18 0h1m1 0h4m3 0h5m4 0h2m6 0h1m2 0h2m2 0h3m99 0h1m2 0h1m1 0h1m4 0h2m2 0h6m1 0h7m1 0h1m1 0h5m3 0h1m1 0h2m1 0h5m2 0h1m1 0h5m1 0h2m1 0h2m1 0h8m2 0h1m92 0h4m2 0h2m5 0h1m3 0h2m1 0h1m1 0h1m1 0h2m4 0h1m4 0h3m4 0h1m9 0h1m1 0h1m5 0h1m1 0h2m-387 1h1m9 0h3m2 0h4m1 0h1m2 0h10m5 0h3m1 0h1m2 0h7m1 0h2m63 0h1m35 0h3m1 0h2m4 0h2m2 0h4m1 0h10m1 0h2m2 0h1m6 0h3m2 0h4m1 0h1m3 0h7m1 0h7m2 0h5m75 0h1m17 0h3m5 0h1m2 0h3m6 0h2m1 0h1m9 0h2m1 0h1m12 0h1m1 0h1m1 0h2m1 0h2m1 0h1m-378 1h1m10 0h1m2 0h14m1 0h2m2 0h3m2 0h15m24 0h1m34 0h1m35 0h1m4 0h1m5 0h7m1 0h4m1 0h5m1 0h2m2 0h2m2 0h5m2 0h7m3 0h4m1 0h12m1 0h5m7 0h2m65 0h1m16 0h3m9 0h1m2 0h1m2 0h1m2 0h1m7 0h1m2 0h1m1 0h5m6 0h1m8 0h2m4 0h1m2 0h2m-389 1h2m5 0h1m1 0h1m1 0h3m4 0h2m1 0h3m1 0h1m4 0h5m3 0h1m3 0h1m2 0h1m5 0h5m1 0h1m13 0h1m12 0h1m37 0h1m32 0h1m1 0h2m4 0h1m1 0h2m4 0h13m1 0h2m2 0h3m1 0h3m3 0h5m1 0h7m1 0h9m1 0h4m1 0h3m1 0h1m6 0h1m84 0h3m1 0h4m1 0h1m2 0h1m3 0h4m5 0h2m7 0h6m2 0h1m5 0h1m1 0h5m1 0h1m2 0h3m-441 1h1m30 0h1m32 0h1m1 0h1m1 0h3m1 0h10m1 0h13m2 0h3m4 0h5m1 0h1m14 0h2m82 0h3m3 0h1m1 0h1m1 0h6m1 0h20m1 0h1m1 0h2m3 0h13m1 0h12m1 0h2m1 0h3m6 0h1m86 0h2m2 0h2m1 0h2m1 0h1m4 0h2m3 0h1m3 0h2m6 0h1m1 0h2m4 0h2m3 0h2m1 0h1m2 0h5m1 0h3m-379 1h2m2 0h3m1 0h6m2 0h2m3 0h1m1 0h4m1 0h7m1 0h3m4 0h3m4 0h2m96 0h2m3 0h2m1 0h1m2 0h3m2 0h3m1 0h5m1 0h7m1 0h9m1 0h11m1 0h2m2 0h2m2 0h14m7 0h2m51 0h1m31 0h2m1 0h3m2 0h1m1 0h1m4 0h1m4 0h2m3 0h1m3 0h3m1 0h2m4 0h2m1 0h1m3 0h2m4 0h1m1 0h1m1 0h1m1 0h2m-428 1h1m50 0h1m2 0h5m2 0h1m1 0h2m1 0h2m1 0h1m2 0h3m1 0h4m2 0h1m2 0h3m1 0h3m1 0h9m10 0h1m20 0h1m62 0h8m1 0h3m1 0h1m1 0h19m1 0h21m2 0h6m1 0h3m1 0h10m8 0h2m22 0h2m27 0h1m27 0h1m3 0h2m3 0h1m1 0h2m1 0h1m1 0h3m2 0h6m2 0h1m3 0h3m1 0h1m1 0h2m4 0h2m2 0h1m1 0h1m4 0h2m3 0h1m1 0h2m-429 1h1m47 0h1m6 0h3m1 0h4m1 0h13m1 0h10m1 0h3m1 0h9m31 0h1m46 0h2m13 0h2m2 0h5m2 0h3m1 0h2m2 0h2m1 0h1m1 0h6m1 0h4m1 0h4m1 0h1m2 0h2m1 0h12m1 0h19m9 0h1m36 0h2m33 0h1m11 0h3m3 0h1m1 0h2m1 0h1m2 0h1m3 0h1m2 0h4m1 0h1m2 0h1m1 0h1m4 0h2m3 0h2m3 0h1m6 0h4m2 0h3m1 0h1m-431 1h1m42 0h1m4 0h1m5 0h9m1 0h6m2 0h20m1 0h5m1 0h3m7 0h1m70 0h1m18 0h3m1 0h4m1 0h1m2 0h21m2 0h4m1 0h7m1 0h11m1 0h10m1 0h6m7 0h1m71 0h1m8 0h1m2 0h2m3 0h4m2 0h2m2 0h2m1 0h1m2 0h7m4 0h2m2 0h1m4 0h2m5 0h3m2 0h4m2 0h1m1 0h3m-443 1h1m59 0h4m2 0h1m1 0h5m1 0h9m1 0h11m4 0h5m1 0h8m13 0h2m20 0h1m61 0h2m2 0h2m4 0h2m1 0h20m1 0h3m1 0h18m1 0h3m2 0h3m1 0h4m1 0h7m6 0h2m76 0h2m5 0h2m3 0h3m3 0h1m1 0h2m2 0h3m1 0h7m1 0h2m11 0h3m2 0h2m2 0h2m2 0h1m3 0h2m2 0h1m-420 1h2m35 0h4m3 0h3m1 0h12m1 0h5m1 0h5m1 0h2m1 0h4m2 0h8m9 0h2m2 0h1m42 0h1m22 0h2m16 0h7m1 0h1m1 0h23m1 0h3m1 0h6m1 0h3m1 0h9m1 0h4m1 0h1m1 0h4m1 0h1m1 0h5m84 0h1m7 0h2m2 0h1m2 0h6m3 0h1m1 0h4m6 0h1m2 0h4m1 0h3m3 0h2m1 0h3m2 0h1m1 0h3m3 0h2m2 0h1m-420 1h1m32 0h1m4 0h2m4 0h3m1 0h10m1 0h11m1 0h1m1 0h1m8 0h4m1 0h3m9 0h1m31 0h1m14 0h1m22 0h2m16 0h5m3 0h3m2 0h11m1 0h3m2 0h9m1 0h4m1 0h3m1 0h5m1 0h1m2 0h19m7 0h1m85 0h2m2 0h2m2 0h1m1 0h3m1 0h1m4 0h4m4 0h1m3 0h1m1 0h1m1 0h2m7 0h3m2 0h1m2 0h3m2 0h6m-387 1h2m1 0h6m1 0h9m1 0h5m1 0h1m2 0h4m1 0h18m1 0h4m41 0h1m13 0h2m30 0h1m9 0h1m2 0h3m1 0h1m2 0h42m1 0h1m1 0h4m1 0h5m1 0h1m1 0h10m1 0h2m3 0h2m31 0h1m48 0h2m1 0h2m3 0h1m3 0h1m1 0h2m1 0h2m1 0h5m5 0h1m2 0h5m1 0h3m1 0h2m4 0h4m3 0h1m1 0h1m1 0h7m-387 1h2m1 0h1m1 0h23m1 0h8m2 0h7m2 0h4m1 0h4m2 0h2m5 0h1m45 0h1m31 0h1m10 0h7m2 0h3m1 0h13m1 0h5m1 0h6m1 0h1m1 0h2m1 0h11m1 0h1m1 0h3m1 0h14m6 0h2m31 0h1m47 0h2m2 0h2m3 0h3m3 0h3m2 0h5m1 0h3m2 0h1m1 0h2m2 0h6m1 0h1m1 0h2m1 0h2m1 0h1m2 0h4m4 0h3m-402 1h2m11 0h1m7 0h3m2 0h5m1 0h7m1 0h3m1 0h3m1 0h4m1 0h5m1 0h5m1 0h8m7 0h2m47 0h1m24 0h1m16 0h7m1 0h6m1 0h20m1 0h7m1 0h3m1 0h8m1 0h5m2 0h15m2 0h1m2 0h1m80 0h1m4 0h2m1 0h2m1 0h1m3 0h4m2 0h3m1 0h2m2 0h2m1 0h2m2 0h6m1 0h1m1 0h2m3 0h1m1 0h1m3 0h4m2 0h5m-403 1h1m16 0h3m2 0h2m1 0h20m1 0h4m1 0h1m2 0h3m2 0h5m1 0h7m1 0h1m6 0h1m2 0h2m45 0h1m31 0h2m7 0h7m2 0h11m1 0h20m1 0h1m1 0h6m1 0h3m1 0h1m1 0h5m1 0h4m1 0h9m4 0h3m1 0h2m69 0h1m5 0h2m1 0h2m4 0h6m3 0h4m2 0h7m2 0h5m3 0h4m1 0h5m1 0h3m5 0h7m1 0h3m-426 1h2m39 0h5m1 0h1m1 0h1m1 0h2m2 0h11m4 0h2m1 0h2m1 0h4m1 0h1m1 0h14m4 0h2m2 0h1m46 0h1m30 0h2m5 0h2m1 0h10m1 0h1m1 0h7m1 0h1m1 0h6m2 0h3m1 0h4m2 0h2m1 0h2m1 0h2m1 0h3m2 0h1m1 0h1m1 0h2m3 0h2m1 0h2m1 0h10m5 0h1m65 0h2m9 0h2m5 0h1m1 0h7m1 0h1m1 0h1m2 0h4m1 0h4m2 0h2m1 0h2m2 0h2m1 0h5m1 0h2m1 0h4m3 0h3m4 0h6m-427 1h2m39 0h5m4 0h11m1 0h2m6 0h10m1 0h6m1 0h9m4 0h1m15 0h2m49 0h1m6 0h2m8 0h2m5 0h4m2 0h4m1 0h14m1 0h9m1 0h4m1 0h3m1 0h4m1 0h4m1 0h4m1 0h1m1 0h2m1 0h5m1 0h1m1 0h8m25 0h1m20 0h2m34 0h2m1 0h1m3 0h3m1 0h3m3 0h2m1 0h12m1 0h3m2 0h2m1 0h1m2 0h2m9 0h1m2 0h5m1 0h5m1 0h2m-426 1h1m35 0h2m4 0h11m2 0h8m2 0h3m1 0h3m2 0h1m1 0h2m3 0h4m1 0h8m6 0h3m1 0h2m9 0h1m17 0h1m17 0h2m14 0h1m6 0h4m4 0h4m4 0h1m3 0h6m2 0h24m1 0h8m1 0h9m2 0h2m1 0h5m1 0h7m1 0h7m1 0h4m18 0h1m23 0h1m37 0h2m4 0h2m2 0h3m1 0h3m1 0h1m3 0h2m1 0h3m1 0h4m4 0h3m1 0h1m4 0h4m2 0h3m1 0h3m1 0h1m3 0h4m-423 1h2m25 0h2m5 0h4m1 0h7m1 0h4m3 0h2m1 0h9m3 0h2m1 0h6m1 0h2m1 0h2m1 0h6m1 0h5m2 0h2m2 0h2m1 0h2m6 0h1m11 0h2m38 0h2m5 0h3m6 0h3m2 0h2m1 0h9m1 0h8m1 0h5m1 0h10m1 0h4m1 0h1m1 0h1m5 0h5m2 0h7m1 0h4m1 0h1m1 0h11m21 0h1m61 0h1m4 0h3m2 0h6m1 0h3m2 0h1m2 0h1m1 0h3m4 0h1m2 0h9m2 0h1m4 0h6m1 0h1m3 0h5m-443 1h2m15 0h1m28 0h2m7 0h7m1 0h7m1 0h21m1 0h22m3 0h3m1 0h3m43 0h2m7 0h1m6 0h1m7 0h1m9 0h1m4 0h1m2 0h8m2 0h1m1 0h6m1 0h14m3 0h1m1 0h6m1 0h2m1 0h6m1 0h4m1 0h5m2 0h2m1 0h10m2 0h1m1 0h2m46 0h2m32 0h2m1 0h7m1 0h1m2 0h4m2 0h3m2 0h2m1 0h1m1 0h1m2 0h8m1 0h6m1 0h1m5 0h1m1 0h3m2 0h3m-431 1h1m1 0h2m1 0h1m1 0h3m5 0h1m6 0h2m22 0h1m1 0h1m2 0h6m1 0h2m2 0h6m1 0h2m1 0h3m2 0h4m2 0h10m1 0h12m1 0h4m1 0h3m1 0h1m21 0h4m16 0h3m14 0h2m5 0h2m8 0h7m1 0h9m1 0h5m1 0h14m1 0h2m1 0h2m2 0h5m2 0h1m1 0h11m1 0h8m2 0h2m1 0h6m2 0h2m1 0h3m17 0h2m19 0h1m21 0h2m17 0h2m1 0h9m1 0h15m1 0h8m1 0h6m1 0h8m2 0h7m1 0h4m-425 1h2m35 0h3m1 0h1m2 0h8m1 0h4m1 0h2m2 0h7m1 0h11m1 0h4m1 0h5m1 0h2m1 0h3m1 0h3m2 0h3m8 0h1m14 0h1m1 0h1m18 0h1m6 0h2m14 0h2m8 0h1m1 0h4m2 0h4m1 0h3m3 0h3m1 0h3m2 0h7m1 0h1m3 0h1m1 0h3m1 0h8m2 0h5m1 0h4m2 0h1m2 0h4m1 0h3m1 0h6m3 0h3m1 0h1m17 0h2m54 0h1m4 0h2m4 0h3m1 0h3m1 0h2m1 0h2m1 0h5m1 0h2m3 0h4m2 0h2m1 0h3m1 0h4m2 0h6m1 0h2m2 0h2m-424 1h2m31 0h1m9 0h8m1 0h5m2 0h10m2 0h2m1 0h3m1 0h2m2 0h2m2 0h4m2 0h5m1 0h4m2 0h4m1 0h5m6 0h1m42 0h1m3 0h2m12 0h2m6 0h1m1 0h2m1 0h17m1 0h2m2 0h2m1 0h4m2 0h5m1 0h1m2 0h5m1 0h4m1 0h5m1 0h3m2 0h2m2 0h3m1 0h10m1 0h5m20 0h2m54 0h2m1 0h1m1 0h1m1 0h1m3 0h2m3 0h15m8 0h1m7 0h2m1 0h4m2 0h9m2 0h4m-427 1h1m31 0h2m7 0h8m1 0h7m1 0h2m1 0h13m1 0h4m1 0h6m1 0h3m2 0h4m1 0h1m1 0h6m1 0h1m5 0h2m53 0h1m13 0h1m6 0h2m1 0h5m1 0h9m2 0h1m2 0h3m2 0h15m4 0h1m2 0h1m1 0h1m1 0h1m2 0h2m2 0h1m6 0h3m2 0h3m1 0h1m1 0h5m1 0h6m21 0h1m4 0h1m50 0h4m1 0h1m1 0h1m3 0h2m1 0h4m2 0h6m1 0h4m1 0h1m1 0h3m2 0h1m1 0h1m2 0h4m2 0h5m1 0h1m1 0h8m1 0h5m1 0h1m-417 1h1m25 0h1m2 0h1m2 0h15m1 0h4m2 0h7m1 0h2m2 0h1m2 0h2m1 0h1m1 0h21m1 0h3m1 0h1m6 0h2m15 0h1m25 0h1m8 0h2m5 0h1m1 0h2m5 0h5m2 0h2m1 0h7m2 0h1m3 0h5m2 0h10m1 0h1m4 0h2m1 0h2m3 0h5m1 0h2m2 0h2m3 0h2m1 0h3m4 0h1m1 0h9m22 0h1m56 0h1m4 0h2m1 0h2m1 0h1m1 0h2m1 0h3m1 0h3m5 0h1m2 0h1m1 0h4m1 0h6m1 0h1m1 0h2m1 0h1m4 0h9m2 0h5m1 0h2m-446 1h1m19 0h4m4 0h1m19 0h1m5 0h1m1 0h3m1 0h10m6 0h1m1 0h1m1 0h3m1 0h5m1 0h1m6 0h2m3 0h4m2 0h15m1 0h1m1 0h3m6 0h1m15 0h2m25 0h1m8 0h1m6 0h1m1 0h1m6 0h17m2 0h3m1 0h3m1 0h9m1 0h4m3 0h5m1 0h2m2 0h8m2 0h3m2 0h5m3 0h3m1 0h9m1 0h3m18 0h1m4 0h1m15 0h1m39 0h1m4 0h6m1 0h2m2 0h13m1 0h4m1 0h1m1 0h2m2 0h8m2 0h2m1 0h1m1 0h6m1 0h4m1 0h2m-446 1h1m19 0h2m7 0h2m18 0h4m3 0h8m1 0h3m1 0h1m4 0h1m2 0h6m1 0h4m1 0h3m1 0h2m2 0h2m2 0h1m1 0h1m3 0h10m1 0h2m1 0h2m1 0h5m3 0h2m48 0h2m2 0h2m6 0h1m10 0h5m1 0h6m1 0h2m4 0h8m2 0h5m2 0h4m1 0h1m2 0h5m4 0h3m1 0h2m1 0h1m1 0h2m3 0h1m2 0h3m2 0h1m1 0h3m1 0h7m1 0h2m19 0h2m4 0h1m50 0h2m2 0h1m3 0h1m1 0h5m1 0h2m1 0h5m2 0h5m1 0h10m1 0h2m1 0h9m2 0h3m1 0h2m1 0h2m1 0h3m2 0h1m-440 1h4m10 0h2m3 0h1m3 0h2m19 0h1m1 0h2m4 0h2m2 0h2m1 0h10m3 0h9m1 0h2m1 0h1m2 0h1m4 0h1m2 0h3m1 0h5m1 0h2m1 0h8m2 0h1m1 0h3m4 0h4m14 0h1m7 0h1m11 0h2m5 0h1m7 0h3m5 0h3m5 0h4m1 0h6m1 0h9m1 0h2m2 0h3m2 0h5m1 0h1m1 0h4m1 0h3m1 0h2m5 0h5m3 0h3m2 0h2m1 0h5m3 0h11m2 0h2m19 0h1m56 0h2m2 0h2m1 0h5m1 0h5m1 0h5m1 0h12m1 0h1m5 0h4m3 0h2m2 0h1m1 0h3m1 0h5m1 0h2m3 0h1m-425 1h1m7 0h2m19 0h1m1 0h2m4 0h2m1 0h10m4 0h3m1 0h1m2 0h5m1 0h1m3 0h2m1 0h1m3 0h1m3 0h1m4 0h6m2 0h8m1 0h2m1 0h3m2 0h2m1 0h2m13 0h2m26 0h1m3 0h2m10 0h5m5 0h16m1 0h13m1 0h5m3 0h2m1 0h1m3 0h1m2 0h2m2 0h11m2 0h3m2 0h2m3 0h4m1 0h6m1 0h5m17 0h1m23 0h2m32 0h1m3 0h4m1 0h4m1 0h3m3 0h19m4 0h9m2 0h4m1 0h3m2 0h2m2 0h4m-424 1h2m2 0h2m22 0h2m1 0h1m2 0h1m1 0h4m2 0h15m2 0h6m1 0h2m6 0h2m1 0h3m2 0h2m2 0h13m1 0h3m1 0h6m2 0h4m46 0h2m3 0h1m9 0h1m4 0h8m1 0h9m1 0h1m2 0h5m2 0h1m1 0h3m1 0h2m4 0h1m6 0h3m3 0h9m1 0h3m3 0h1m7 0h1m1 0h1m2 0h12m17 0h2m4 0h2m2 0h1m13 0h1m33 0h4m1 0h3m3 0h5m4 0h1m1 0h4m1 0h3m1 0h1m1 0h6m2 0h3m3 0h7m1 0h9m1 0h7m-445 1h3m4 0h3m3 0h1m7 0h1m3 0h2m9 0h1m12 0h1m1 0h2m2 0h4m1 0h10m1 0h5m1 0h2m2 0h5m1 0h2m2 0h1m6 0h2m2 0h4m4 0h3m1 0h10m1 0h6m3 0h3m23 0h2m16 0h3m2 0h3m17 0h14m1 0h2m1 0h1m1 0h1m3 0h3m1 0h2m1 0h6m4 0h1m2 0h3m1 0h3m3 0h3m1 0h6m1 0h2m3 0h2m6 0h3m3 0h1m1 0h8m18 0h1m9 0h1m47 0h1m3 0h1m2 0h12m2 0h18m4 0h2m1 0h2m2 0h19m1 0h1m1 0h2m-447 1h2m4 0h3m15 0h2m30 0h2m1 0h7m1 0h6m2 0h3m3 0h2m2 0h1m5 0h1m3 0h1m3 0h1m2 0h1m1 0h2m1 0h2m2 0h1m2 0h1m1 0h9m1 0h3m1 0h1m4 0h2m14 0h2m1 0h1m24 0h1m2 0h3m3 0h2m13 0h4m1 0h16m1 0h5m1 0h3m2 0h3m3 0h5m4 0h2m1 0h1m6 0h5m3 0h1m1 0h1m1 0h1m6 0h2m1 0h15m1 0h2m3 0h3m13 0h1m59 0h8m1 0h3m1 0h10m1 0h8m4 0h1m1 0h6m1 0h2m1 0h3m3 0h10m1 0h1m-440 1h3m3 0h1m13 0h1m22 0h1m2 0h2m2 0h10m3 0h2m4 0h2m4 0h6m1 0h1m2 0h1m12 0h1m5 0h4m1 0h14m1 0h3m1 0h4m29 0h2m3 0h1m5 0h3m8 0h2m4 0h3m6 0h2m2 0h16m2 0h7m3 0h5m1 0h2m1 0h1m1 0h1m3 0h2m6 0h2m7 0h2m3 0h1m6 0h1m4 0h1m1 0h11m2 0h1m3 0h1m6 0h1m1 0h1m2 0h2m17 0h1m27 0h1m13 0h3m1 0h4m1 0h6m1 0h3m1 0h10m1 0h17m2 0h4m1 0h6m1 0h4m1 0h1m-433 1h3m9 0h2m3 0h2m18 0h1m2 0h1m3 0h1m2 0h7m2 0h1m6 0h2m7 0h2m5 0h2m3 0h5m10 0h2m1 0h3m1 0h10m1 0h4m1 0h1m1 0h1m14 0h1m1 0h3m11 0h4m1 0h1m5 0h2m9 0h2m4 0h5m4 0h3m2 0h5m2 0h6m4 0h5m3 0h3m2 0h2m1 0h4m1 0h1m3 0h1m6 0h2m8 0h1m4 0h2m1 0h2m11 0h7m2 0h2m4 0h3m28 0h1m1 0h2m29 0h2m7 0h3m2 0h3m1 0h1m2 0h2m2 0h3m1 0h9m2 0h2m1 0h1m2 0h2m2 0h15m1 0h5m2 0h5m-425 1h1m1 0h1m5 0h1m19 0h3m1 0h1m3 0h14m4 0h1m1 0h1m7 0h1m1 0h2m2 0h1m7 0h1m11 0h20m1 0h7m11 0h1m3 0h1m12 0h2m3 0h1m5 0h3m2 0h2m3 0h3m4 0h3m5 0h2m2 0h5m1 0h1m1 0h1m1 0h6m3 0h5m4 0h2m1 0h2m3 0h2m13 0h1m3 0h2m4 0h1m4 0h3m5 0h4m3 0h3m1 0h6m6 0h3m6 0h2m16 0h1m11 0h2m33 0h2m1 0h4m2 0h3m2 0h1m1 0h4m1 0h11m1 0h1m1 0h2m1 0h6m1 0h2m2 0h6m1 0h13m-447 1h2m20 0h1m2 0h3m21 0h5m1 0h10m1 0h3m8 0h1m4 0h1m2 0h1m1 0h2m2 0h1m3 0h1m2 0h2m3 0h1m6 0h2m1 0h7m1 0h17m12 0h1m1 0h2m3 0h1m4 0h2m3 0h2m14 0h1m4 0h1m6 0h1m1 0h2m4 0h4m1 0h14m6 0h3m1 0h1m1 0h1m1 0h3m5 0h1m3 0h1m4 0h1m6 0h6m3 0h2m2 0h3m5 0h5m2 0h9m2 0h3m2 0h3m6 0h1m2 0h1m8 0h1m4 0h2m4 0h2m5 0h2m21 0h4m4 0h6m3 0h7m3 0h4m2 0h7m1 0h3m2 0h1m1 0h1m1 0h4m4 0h23m-447 1h1m17 0h1m1 0h3m2 0h1m23 0h5m2 0h11m1 0h3m1 0h1m4 0h1m4 0h4m1 0h6m2 0h1m2 0h1m2 0h1m1 0h1m9 0h17m1 0h7m4 0h1m7 0h2m1 0h3m3 0h2m2 0h2m3 0h2m8 0h3m2 0h4m2 0h1m7 0h2m4 0h16m2 0h2m6 0h1m2 0h8m2 0h1m1 0h1m7 0h2m7 0h3m4 0h2m3 0h1m1 0h1m3 0h1m5 0h2m1 0h9m1 0h4m3 0h1m1 0h2m1 0h1m1 0h3m1 0h1m13 0h1m5 0h1m3 0h1m2 0h1m21 0h1m1 0h5m1 0h3m1 0h4m1 0h3m1 0h3m3 0h4m3 0h4m1 0h1m1 0h4m1 0h6m2 0h21m1 0h5m-446 1h2m1 0h1m3 0h2m11 0h1m4 0h1m4 0h2m16 0h6m4 0h3m3 0h3m1 0h1m12 0h5m1 0h2m5 0h1m3 0h1m7 0h1m1 0h21m1 0h8m12 0h3m4 0h1m1 0h1m1 0h1m1 0h1m3 0h3m1 0h3m1 0h1m2 0h2m2 0h2m1 0h1m9 0h2m6 0h20m1 0h4m1 0h2m3 0h1m1 0h6m3 0h1m1 0h2m2 0h2m9 0h1m5 0h2m3 0h2m6 0h2m2 0h2m2 0h9m1 0h4m1 0h3m9 0h1m17 0h1m1 0h2m1 0h1m3 0h1m21 0h3m4 0h2m1 0h1m1 0h2m1 0h1m1 0h16m1 0h4m1 0h1m1 0h2m4 0h3m2 0h13m1 0h12m1 0h1m-443 1h3m2 0h1m16 0h3m22 0h7m2 0h3m1 0h1m1 0h4m13 0h1m4 0h2m18 0h1m3 0h1m1 0h21m2 0h3m4 0h2m6 0h3m2 0h2m4 0h1m1 0h2m2 0h4m1 0h1m5 0h2m1 0h4m1 0h2m1 0h1m1 0h1m3 0h1m1 0h2m1 0h2m1 0h10m2 0h10m3 0h2m1 0h1m4 0h3m9 0h1m3 0h1m1 0h2m6 0h2m4 0h3m2 0h1m11 0h1m1 0h1m1 0h1m1 0h5m1 0h1m1 0h2m4 0h1m11 0h1m6 0h3m9 0h5m2 0h2m20 0h1m5 0h2m1 0h2m1 0h1m1 0h1m1 0h1m1 0h2m1 0h4m2 0h13m4 0h3m1 0h1m1 0h4m3 0h4m1 0h3m1 0h11m3 0h2m-450 1h1m8 0h2m4 0h1m8 0h2m1 0h1m1 0h2m2 0h1m16 0h1m2 0h1m3 0h3m3 0h8m1 0h1m4 0h1m2 0h1m12 0h1m4 0h4m11 0h1m3 0h18m3 0h4m1 0h1m1 0h1m4 0h2m1 0h2m8 0h5m2 0h3m2 0h1m6 0h6m1 0h1m2 0h2m4 0h4m3 0h21m5 0h6m2 0h1m2 0h2m27 0h3m2 0h1m13 0h1m1 0h1m1 0h12m2 0h2m4 0h5m1 0h1m7 0h1m1 0h1m3 0h2m1 0h3m1 0h2m3 0h1m3 0h2m9 0h2m5 0h1m9 0h2m1 0h4m1 0h2m1 0h1m1 0h1m3 0h2m1 0h8m1 0h5m1 0h3m1 0h12m1 0h3m1 0h3m1 0h12m-446 1h1m11 0h1m7 0h1m3 0h4m1 0h1m11 0h1m4 0h2m2 0h6m1 0h3m1 0h6m9 0h2m16 0h1m1 0h1m3 0h1m8 0h3m1 0h13m1 0h10m2 0h3m10 0h3m4 0h1m1 0h3m2 0h9m3 0h8m1 0h3m2 0h1m2 0h4m1 0h1m1 0h1m1 0h15m1 0h1m4 0h2m3 0h1m7 0h1m12 0h2m15 0h1m3 0h2m14 0h4m1 0h9m1 0h2m6 0h3m12 0h1m2 0h3m1 0h3m6 0h2m2 0h1m17 0h2m1 0h1m5 0h2m1 0h4m2 0h3m1 0h4m2 0h21m2 0h7m1 0h6m1 0h3m1 0h3m1 0h7m-445 1h1m4 0h2m13 0h1m1 0h5m2 0h1m15 0h2m2 0h3m2 0h6m1 0h5m2 0h2m6 0h1m20 0h1m11 0h1m1 0h1m1 0h23m1 0h7m4 0h2m2 0h1m1 0h1m4 0h5m1 0h8m1 0h2m1 0h3m1 0h5m1 0h3m2 0h1m3 0h2m1 0h14m4 0h5m6 0h5m5 0h1m12 0h1m20 0h1m11 0h2m2 0h14m2 0h1m4 0h1m2 0h1m3 0h1m3 0h1m6 0h5m1 0h3m1 0h2m7 0h2m16 0h2m1 0h2m3 0h3m1 0h8m1 0h5m2 0h5m1 0h4m1 0h3m1 0h5m2 0h4m1 0h1m1 0h1m1 0h4m1 0h11m1 0h3m1 0h2m-447 1h1m1 0h2m3 0h2m3 0h1m8 0h2m1 0h3m1 0h2m3 0h3m5 0h1m8 0h4m1 0h9m1 0h2m2 0h1m7 0h1m20 0h1m6 0h1m7 0h3m1 0h16m1 0h7m3 0h1m4 0h1m1 0h2m7 0h4m1 0h7m3 0h15m5 0h5m2 0h12m2 0h2m1 0h5m2 0h1m1 0h1m2 0h2m19 0h2m15 0h1m11 0h2m2 0h1m4 0h6m1 0h1m1 0h7m2 0h2m1 0h1m1 0h3m10 0h3m2 0h2m1 0h1m1 0h3m25 0h1m2 0h8m2 0h1m1 0h6m1 0h10m1 0h10m2 0h1m1 0h1m2 0h7m2 0h2m2 0h3m1 0h2m1 0h1m1 0h7m2 0h1m-446 1h1m1 0h1m4 0h3m11 0h1m2 0h1m1 0h1m1 0h1m4 0h2m5 0h1m8 0h5m3 0h10m10 0h1m20 0h2m14 0h2m1 0h23m1 0h3m6 0h4m6 0h14m1 0h2m2 0h7m1 0h8m1 0h6m1 0h10m2 0h2m1 0h4m4 0h1m11 0h2m20 0h2m7 0h1m3 0h4m12 0h2m1 0h7m1 0h4m1 0h1m2 0h2m6 0h2m3 0h1m2 0h9m3 0h3m9 0h1m2 0h2m12 0h1m2 0h2m3 0h5m1 0h2m1 0h5m6 0h3m2 0h4m1 0h4m1 0h4m2 0h1m2 0h11m2 0h3m1 0h10m-443 1h1m6 0h1m4 0h2m7 0h3m2 0h2m4 0h5m8 0h2m1 0h17m3 0h2m5 0h2m4 0h1m15 0h1m11 0h2m1 0h1m1 0h1m1 0h22m2 0h5m2 0h4m3 0h2m1 0h3m1 0h12m1 0h13m1 0h6m1 0h4m1 0h12m3 0h4m1 0h1m4 0h4m1 0h2m5 0h2m20 0h1m12 0h1m15 0h1m1 0h2m1 0h4m1 0h6m2 0h1m1 0h1m1 0h2m3 0h3m2 0h2m1 0h1m5 0h3m1 0h6m3 0h2m2 0h2m2 0h1m13 0h1m1 0h1m5 0h4m2 0h1m2 0h8m1 0h4m1 0h2m1 0h2m2 0h9m1 0h6m1 0h13m1 0h12m-444 1h1m1 0h1m1 0h1m5 0h2m4 0h1m2 0h3m1 0h3m5 0h3m14 0h11m1 0h4m10 0h3m3 0h1m11 0h1m3 0h1m14 0h26m1 0h3m1 0h2m2 0h1m1 0h7m1 0h39m1 0h14m5 0h1m3 0h1m9 0h3m18 0h2m27 0h1m6 0h2m3 0h12m3 0h1m1 0h2m5 0h3m9 0h3m2 0h6m3 0h1m3 0h2m12 0h1m2 0h2m5 0h1m1 0h3m3 0h3m1 0h10m5 0h5m1 0h2m1 0h1m3 0h1m1 0h6m1 0h3m1 0h5m2 0h3m1 0h4m1 0h5m-450 1h3m1 0h1m2 0h5m9 0h2m1 0h2m2 0h5m2 0h4m1 0h3m12 0h7m2 0h8m4 0h1m4 0h3m15 0h1m3 0h1m12 0h1m2 0h3m1 0h11m1 0h9m1 0h3m1 0h2m2 0h1m1 0h3m3 0h8m1 0h8m1 0h1m1 0h37m3 0h2m3 0h2m6 0h2m1 0h1m2 0h2m1 0h2m12 0h1m35 0h1m3 0h4m2 0h8m2 0h2m1 0h1m1 0h1m2 0h1m2 0h2m4 0h1m4 0h3m1 0h6m3 0h2m2 0h2m2 0h1m5 0h2m5 0h1m6 0h5m1 0h5m1 0h10m1 0h2m2 0h4m1 0h3m1 0h1m1 0h4m5 0h1m1 0h3m1 0h2m1 0h1m1 0h1m2 0h7m1 0h5m-449 1h1m2 0h1m2 0h2m2 0h1m6 0h1m5 0h2m1 0h10m1 0h6m2 0h2m1 0h1m4 0h2m1 0h3m1 0h1m2 0h2m2 0h5m8 0h2m17 0h1m19 0h18m1 0h5m1 0h1m1 0h3m5 0h2m3 0h53m2 0h1m1 0h1m3 0h6m7 0h1m2 0h1m2 0h1m2 0h1m13 0h1m12 0h2m6 0h1m2 0h2m16 0h6m1 0h5m3 0h3m4 0h4m5 0h2m1 0h12m3 0h3m1 0h2m8 0h1m5 0h3m7 0h2m1 0h2m1 0h2m2 0h9m2 0h3m1 0h4m1 0h3m1 0h11m2 0h3m2 0h1m2 0h2m2 0h11m1 0h3m-451 1h2m3 0h1m3 0h2m9 0h2m1 0h13m2 0h3m9 0h4m1 0h10m2 0h3m3 0h2m24 0h2m14 0h2m2 0h14m1 0h9m1 0h1m1 0h1m1 0h1m2 0h2m1 0h15m1 0h2m1 0h26m1 0h10m1 0h1m1 0h4m4 0h2m2 0h1m7 0h1m1 0h2m19 0h3m6 0h1m11 0h1m20 0h5m2 0h5m2 0h2m1 0h1m5 0h4m4 0h4m2 0h5m1 0h2m4 0h1m3 0h1m7 0h2m1 0h1m4 0h1m1 0h2m2 0h2m1 0h4m1 0h8m1 0h2m2 0h1m2 0h9m1 0h11m1 0h1m4 0h2m1 0h4m1 0h1m3 0h1m2 0h4m2 0h5m-450 1h3m2 0h1m3 0h5m7 0h1m1 0h13m1 0h3m1 0h2m3 0h2m2 0h9m1 0h6m1 0h4m10 0h2m16 0h1m16 0h2m1 0h14m1 0h6m1 0h2m1 0h2m1 0h11m1 0h39m1 0h9m1 0h9m3 0h2m1 0h3m6 0h3m20 0h2m18 0h2m1 0h1m18 0h2m1 0h13m1 0h3m5 0h1m1 0h6m1 0h1m1 0h6m1 0h4m6 0h2m2 0h2m4 0h2m4 0h2m2 0h4m4 0h1m1 0h1m2 0h5m1 0h2m6 0h13m1 0h1m1 0h6m1 0h4m1 0h6m1 0h2m1 0h1m1 0h4m2 0h4m-448 1h2m2 0h1m2 0h5m5 0h2m2 0h15m1 0h3m1 0h1m3 0h2m4 0h3m1 0h15m2 0h2m5 0h3m34 0h1m2 0h2m1 0h9m1 0h10m1 0h10m1 0h8m1 0h54m7 0h3m6 0h2m21 0h1m19 0h4m16 0h2m1 0h1m1 0h9m2 0h6m2 0h2m1 0h2m5 0h3m1 0h3m1 0h4m1 0h1m3 0h1m2 0h2m8 0h3m1 0h1m2 0h2m3 0h2m5 0h3m1 0h3m2 0h3m2 0h6m1 0h1m1 0h5m2 0h11m1 0h2m1 0h1m1 0h2m1 0h1m1 0h2m1 0h1m1 0h1m2 0h3m1 0h5m1 0h1m-449 1h2m2 0h3m1 0h2m6 0h1m4 0h1m1 0h11m2 0h5m3 0h1m5 0h12m1 0h9m8 0h2m16 0h1m15 0h1m2 0h2m1 0h22m1 0h3m1 0h23m1 0h44m4 0h3m1 0h2m7 0h1m3 0h2m3 0h2m33 0h1m17 0h2m1 0h12m2 0h2m1 0h7m1 0h2m5 0h7m1 0h6m1 0h1m1 0h1m2 0h4m14 0h2m2 0h4m1 0h3m2 0h2m2 0h3m1 0h1m1 0h4m3 0h2m2 0h7m3 0h1m1 0h4m3 0h3m2 0h2m6 0h7m1 0h5m1 0h1m-450 1h2m1 0h1m4 0h2m1 0h1m2 0h1m1 0h3m2 0h15m1 0h6m2 0h2m2 0h2m4 0h10m1 0h3m12 0h1m1 0h1m15 0h1m12 0h1m5 0h34m1 0h18m1 0h10m1 0h34m3 0h1m1 0h1m1 0h2m11 0h1m4 0h2m33 0h1m18 0h1m2 0h11m2 0h3m1 0h1m1 0h1m2 0h1m1 0h2m6 0h2m1 0h3m1 0h2m1 0h3m3 0h2m2 0h2m7 0h3m5 0h2m1 0h9m2 0h3m2 0h2m3 0h4m1 0h3m1 0h8m5 0h1m1 0h1m3 0h3m1 0h6m2 0h2m2 0h1m1 0h3m1 0h2m1 0h5m-450 1h2m1 0h3m3 0h5m2 0h23m1 0h1m1 0h1m1 0h3m2 0h1m2 0h1m4 0h1m1 0h1m2 0h6m13 0h3m14 0h1m19 0h9m1 0h3m2 0h4m1 0h10m1 0h7m1 0h60m7 0h2m7 0h5m3 0h1m1 0h2m23 0h1m4 0h2m1 0h2m17 0h2m1 0h12m1 0h5m5 0h1m1 0h3m3 0h2m3 0h2m2 0h8m1 0h3m2 0h2m1 0h2m5 0h1m1 0h5m2 0h15m1 0h2m1 0h1m1 0h1m4 0h3m1 0h4m1 0h3m1 0h6m4 0h5m1 0h2m3 0h2m3 0h2m1 0h4m2 0h4m-448 1h2m1 0h3m1 0h2m1 0h2m4 0h26m1 0h1m2 0h7m1 0h4m1 0h2m1 0h2m16 0h1m16 0h1m19 0h8m1 0h7m1 0h2m1 0h9m1 0h7m1 0h33m1 0h27m7 0h2m7 0h1m2 0h2m4 0h2m32 0h3m1 0h2m13 0h1m2 0h1m1 0h10m1 0h5m3 0h1m1 0h1m1 0h4m2 0h2m3 0h17m1 0h2m2 0h2m1 0h1m1 0h1m1 0h2m4 0h1m2 0h5m1 0h2m1 0h1m3 0h4m3 0h2m3 0h3m1 0h7m1 0h3m1 0h1m1 0h1m1 0h3m2 0h3m1 0h23m-449 1h1m1 0h5m1 0h3m1 0h3m2 0h24m2 0h1m3 0h5m5 0h1m1 0h4m1 0h1m16 0h1m37 0h7m1 0h4m2 0h1m1 0h9m1 0h26m1 0h5m1 0h17m1 0h20m8 0h2m10 0h1m5 0h3m32 0h1m18 0h1m2 0h11m2 0h4m4 0h2m1 0h3m2 0h1m1 0h7m1 0h6m3 0h1m1 0h3m5 0h3m1 0h1m1 0h1m3 0h10m1 0h2m1 0h1m3 0h1m1 0h3m7 0h2m2 0h1m1 0h2m2 0h2m2 0h2m1 0h10m1 0h3m4 0h7m1 0h11m-451 1h1m5 0h4m1 0h2m1 0h13m1 0h15m1 0h3m3 0h11m1 0h4m3 0h2m28 0h1m15 0h1m2 0h1m1 0h5m1 0h1m2 0h5m1 0h7m2 0h51m1 0h17m1 0h4m3 0h1m1 0h4m10 0h2m43 0h1m13 0h2m1 0h4m1 0h6m2 0h1m1 0h1m1 0h1m2 0h2m2 0h4m3 0h1m1 0h5m1 0h6m4 0h6m1 0h4m2 0h1m5 0h4m1 0h5m1 0h1m1 0h2m1 0h1m1 0h5m2 0h3m1 0h4m1 0h10m1 0h4m1 0h1m2 0h2m1 0h4m5 0h3m4 0h3m1 0h4m1 0h1m-449 1h5m1 0h4m1 0h3m2 0h29m2 0h1m2 0h5m1 0h4m1 0h2m1 0h3m2 0h1m45 0h1m2 0h3m1 0h1m1 0h3m2 0h4m2 0h8m1 0h12m1 0h53m3 0h5m3 0h1m1 0h1m1 0h1m7 0h3m1 0h1m38 0h1m2 0h2m1 0h1m16 0h16m4 0h1m3 0h4m2 0h8m1 0h6m3 0h6m2 0h12m3 0h4m1 0h2m1 0h2m5 0h4m3 0h14m2 0h3m2 0h6m1 0h1m3 0h3m2 0h2m1 0h1m2 0h7m3 0h1m3 0h2m-451 1h2m1 0h10m3 0h3m1 0h22m5 0h2m2 0h1m1 0h2m2 0h8m5 0h2m26 0h1m19 0h1m5 0h1m3 0h5m2 0h5m1 0h58m1 0h7m1 0h2m2 0h5m16 0h1m3 0h2m39 0h1m17 0h2m1 0h11m1 0h6m3 0h2m1 0h3m3 0h4m1 0h14m1 0h4m4 0h8m2 0h4m1 0h2m1 0h9m1 0h9m1 0h2m2 0h4m1 0h3m1 0h1m2 0h2m3 0h7m4 0h2m2 0h2m2 0h7m2 0h7m-451 1h7m1 0h37m1 0h1m1 0h8m1 0h10m2 0h3m26 0h1m25 0h3m2 0h1m2 0h1m3 0h7m1 0h2m1 0h64m1 0h3m6 0h1m5 0h1m5 0h1m3 0h1m58 0h1m2 0h6m1 0h3m3 0h5m2 0h8m1 0h21m6 0h9m1 0h1m1 0h1m1 0h2m1 0h3m2 0h3m1 0h2m2 0h6m1 0h1m1 0h6m1 0h9m1 0h1m5 0h8m2 0h2m2 0h5m4 0h5m1 0h1m1 0h3m-451 1h15m1 0h2m1 0h11m1 0h17m3 0h3m1 0h9m15 0h2m44 0h1m4 0h4m2 0h1m2 0h30m1 0h7m1 0h11m1 0h8m1 0h9m1 0h2m2 0h4m4 0h1m4 0h2m5 0h1m2 0h2m19 0h1m39 0h6m1 0h1m1 0h10m1 0h1m2 0h1m1 0h4m2 0h9m1 0h7m2 0h4m1 0h2m3 0h2m1 0h3m1 0h1m1 0h5m2 0h2m2 0h3m1 0h1m1 0h1m2 0h1m1 0h1m7 0h5m1 0h4m1 0h1m5 0h6m1 0h1m1 0h6m3 0h4m1 0h2m3 0h5m1 0h2m-449 1h3m2 0h25m2 0h11m1 0h2m1 0h1m2 0h4m2 0h6m1 0h3m4 0h1m8 0h2m37 0h1m6 0h1m6 0h1m2 0h33m1 0h7m1 0h1m1 0h4m1 0h3m1 0h1m1 0h5m2 0h1m1 0h6m1 0h1m1 0h3m1 0h1m1 0h2m4 0h2m4 0h1m6 0h1m1 0h2m20 0h1m24 0h1m16 0h10m2 0h6m5 0h4m1 0h5m1 0h10m2 0h5m5 0h9m2 0h1m1 0h6m2 0h5m4 0h4m3 0h1m2 0h10m1 0h4m3 0h6m3 0h3m2 0h2m1 0h8m1 0h7m-446 1h1m1 0h8m1 0h25m1 0h8m2 0h6m1 0h2m1 0h3m2 0h3m5 0h2m8 0h2m11 0h1m24 0h3m3 0h3m2 0h4m3 0h5m1 0h3m2 0h6m1 0h16m1 0h1m1 0h4m1 0h4m1 0h2m1 0h3m1 0h5m1 0h2m1 0h8m1 0h3m2 0h1m7 0h1m13 0h1m38 0h1m7 0h1m17 0h4m2 0h4m1 0h2m2 0h1m3 0h3m1 0h3m3 0h15m2 0h4m2 0h2m3 0h5m4 0h5m1 0h13m1 0h7m4 0h7m2 0h3m4 0h10m1 0h2m1 0h2m2 0h7m1 0h12m-449 1h27m1 0h14m2 0h5m1 0h9m1 0h3m5 0h2m2 0h1m43 0h3m4 0h1m10 0h6m2 0h23m1 0h1m1 0h6m2 0h6m1 0h1m1 0h2m1 0h10m2 0h5m1 0h2m2 0h1m7 0h1m15 0h2m29 0h2m5 0h1m25 0h16m6 0h4m2 0h4m1 0h2m1 0h1m1 0h6m1 0h3m1 0h1m1 0h2m2 0h1m1 0h5m2 0h2m1 0h8m2 0h4m1 0h2m1 0h6m1 0h2m3 0h9m1 0h2m2 0h1m2 0h1m4 0h2m1 0h3m2 0h2m2 0h2m2 0h1m1 0h2m1 0h3m1 0h1m1 0h2m2 0h1m-449 1h14m1 0h26m3 0h1m2 0h2m1 0h7m1 0h2m7 0h2m48 0h2m4 0h1m5 0h2m3 0h7m2 0h15m1 0h3m2 0h2m1 0h2m1 0h27m1 0h4m1 0h1m1 0h2m3 0h3m5 0h1m1 0h2m11 0h2m63 0h11m1 0h2m1 0h2m2 0h1m1 0h18m1 0h13m1 0h2m2 0h5m1 0h1m1 0h1m1 0h12m2 0h1m2 0h2m1 0h6m1 0h4m1 0h4m2 0h3m2 0h4m1 0h1m1 0h3m1 0h2m2 0h1m1 0h2m1 0h2m1 0h3m3 0h4m2 0h1m2 0h1m-450 1h4m1 0h10m2 0h33m1 0h8m10 0h1m14 0h1m2 0h2m30 0h2m3 0h2m10 0h1m2 0h1m1 0h24m4 0h1m2 0h4m1 0h3m2 0h3m2 0h1m1 0h6m1 0h1m3 0h3m1 0h1m2 0h1m3 0h3m6 0h1m12 0h1m7 0h1m58 0h4m2 0h3m1 0h7m3 0h2m1 0h3m1 0h6m2 0h9m2 0h5m1 0h11m1 0h2m2 0h12m3 0h1m1 0h2m1 0h15m1 0h7m2 0h1m1 0h2m1 0h7m2 0h3m1 0h3m2 0h1m1 0h1m1 0h7m1 0h2m-450 1h45m1 0h2m2 0h1m1 0h6m1 0h2m8 0h3m15 0h1m35 0h2m4 0h4m3 0h1m1 0h2m1 0h1m3 0h15m1 0h2m1 0h2m1 0h2m2 0h1m1 0h2m7 0h2m4 0h4m1 0h6m4 0h2m2 0h2m2 0h3m19 0h1m7 0h1m5 0h1m52 0h15m5 0h12m2 0h10m2 0h20m1 0h1m1 0h7m1 0h3m2 0h2m2 0h2m1 0h2m1 0h5m1 0h4m1 0h2m1 0h2m2 0h1m1 0h1m4 0h7m1 0h4m2 0h3m2 0h1m1 0h1m2 0h5m2 0h1m-449 1h42m1 0h4m2 0h1m1 0h1m1 0h8m2 0h1m5 0h1m53 0h1m1 0h1m10 0h1m1 0h5m1 0h1m1 0h1m1 0h20m2 0h1m2 0h2m4 0h2m3 0h2m2 0h4m2 0h1m1 0h3m4 0h3m3 0h5m30 0h1m56 0h1m3 0h4m1 0h6m2 0h3m2 0h10m1 0h10m1 0h4m1 0h10m1 0h1m3 0h6m1 0h2m2 0h4m2 0h4m1 0h4m1 0h1m5 0h2m1 0h9m3 0h3m1 0h2m1 0h6m1 0h1m3 0h4m3 0h1m2 0h4m1 0h4m-449 1h29m2 0h6m1 0h2m1 0h5m1 0h9m1 0h4m7 0h2m54 0h1m10 0h27m1 0h4m3 0h4m2 0h1m4 0h2m6 0h3m1 0h7m1 0h2m3 0h1m4 0h2m6 0h1m37 0h1m43 0h13m3 0h1m2 0h1m1 0h3m1 0h2m1 0h10m1 0h1m1 0h1m2 0h3m5 0h1m2 0h6m2 0h1m1 0h9m2 0h4m1 0h3m1 0h2m3 0h1m1 0h6m1 0h7m1 0h1m3 0h7m1 0h2m1 0h4m4 0h3m3 0h1m1 0h5m1 0h1m1 0h2m-449 1h1m1 0h19m1 0h3m1 0h2m1 0h9m1 0h14m1 0h4m1 0h1m58 0h2m4 0h1m10 0h1m1 0h27m1 0h1m3 0h2m5 0h1m4 0h2m6 0h8m1 0h2m1 0h2m3 0h2m2 0h3m6 0h1m37 0h1m43 0h3m2 0h8m1 0h2m5 0h6m1 0h3m1 0h10m1 0h5m1 0h1m2 0h15m1 0h4m5 0h2m2 0h1m1 0h2m1 0h1m4 0h3m1 0h9m1 0h1m3 0h1m2 0h3m1 0h1m3 0h4m1 0h3m1 0h4m1 0h1m1 0h1m1 0h5m1 0h4m-450 1h4m1 0h16m2 0h4m1 0h3m1 0h19m1 0h2m2 0h5m58 0h1m17 0h9m1 0h16m2 0h2m5 0h3m7 0h1m7 0h6m1 0h1m2 0h3m4 0h3m3 0h2m83 0h2m3 0h3m1 0h2m1 0h4m9 0h3m3 0h15m1 0h8m1 0h12m1 0h1m2 0h5m2 0h2m2 0h1m1 0h8m4 0h1m1 0h1m2 0h2m1 0h5m3 0h1m1 0h4m10 0h2m2 0h4m5 0h5m1 0h2m1 0h2m-451 1h3m1 0h17m1 0h2m1 0h4m2 0h12m1 0h8m3 0h5m63 0h2m11 0h3m1 0h6m2 0h12m1 0h1m1 0h1m2 0h2m2 0h1m1 0h1m9 0h1m7 0h2m1 0h1m6 0h1m4 0h1m6 0h3m5 0h2m78 0h2m6 0h1m4 0h4m6 0h4m1 0h4m1 0h5m1 0h5m1 0h9m2 0h24m1 0h1m1 0h6m7 0h4m1 0h4m2 0h2m2 0h1m1 0h10m5 0h5m5 0h2m1 0h1m1 0h1m2 0h4m-450 1h3m1 0h9m1 0h7m1 0h4m2 0h9m1 0h1m1 0h14m1 0h5m59 0h1m3 0h4m9 0h1m1 0h2m1 0h6m1 0h1m1 0h8m1 0h3m1 0h2m2 0h6m9 0h1m6 0h2m3 0h2m5 0h2m18 0h1m85 0h1m1 0h1m1 0h5m7 0h4m1 0h1m1 0h3m2 0h8m1 0h10m1 0h1m1 0h8m1 0h13m3 0h10m3 0h2m1 0h1m2 0h3m2 0h3m2 0h1m2 0h9m2 0h1m3 0h1m11 0h2m1 0h4m1 0h1m-448 1h19m1 0h2m4 0h9m1 0h4m1 0h4m1 0h7m1 0h4m58 0h2m17 0h2m2 0h17m1 0h3m1 0h1m4 0h5m17 0h1m1 0h1m4 0h2m10 0h2m29 0h2m60 0h1m1 0h7m1 0h1m1 0h2m2 0h2m3 0h6m1 0h1m2 0h1m1 0h4m1 0h4m2 0h7m1 0h2m1 0h6m1 0h1m2 0h2m1 0h9m7 0h2m1 0h2m4 0h1m1 0h2m3 0h2m2 0h2m2 0h6m2 0h1m4 0h2m5 0h1m3 0h1m6 0h2m1 0h3m2 0h3m-452 1h22m1 0h1m1 0h1m2 0h9m1 0h1m1 0h13m2 0h5m29 0h1m29 0h1m5 0h1m4 0h2m4 0h2m1 0h11m2 0h3m1 0h1m2 0h1m5 0h2m1 0h3m1 0h4m14 0h1m1 0h1m2 0h4m14 0h4m3 0h1m19 0h1m63 0h1m1 0h3m1 0h1m1 0h16m1 0h2m1 0h6m1 0h5m1 0h4m1 0h16m1 0h9m1 0h4m5 0h5m4 0h8m3 0h2m2 0h2m2 0h10m7 0h4m2 0h2m2 0h1m2 0h3m2 0h1m-450 1h21m2 0h1m4 0h1m1 0h1m1 0h8m1 0h4m4 0h12m69 0h1m5 0h1m2 0h1m1 0h3m1 0h1m2 0h2m1 0h10m8 0h4m1 0h3m18 0h3m1 0h1m20 0h1m82 0h2m1 0h1m5 0h4m2 0h1m1 0h1m2 0h4m4 0h6m2 0h5m1 0h10m1 0h10m1 0h2m1 0h5m5 0h1m6 0h6m2 0h3m1 0h1m2 0h1m1 0h1m1 0h5m2 0h7m1 0h1m10 0h2m2 0h2m6 0h1m1 0h1m2 0h1m-450 1h1m2 0h10m1 0h6m1 0h1m2 0h1m3 0h4m1 0h4m2 0h6m2 0h4m1 0h2m1 0h1m1 0h3m65 0h1m17 0h1m3 0h2m1 0h6m1 0h4m11 0h1m2 0h2m4 0h1m15 0h4m102 0h1m2 0h1m1 0h3m2 0h3m4 0h2m1 0h4m3 0h4m2 0h2m2 0h9m2 0h2m2 0h20m4 0h3m4 0h5m5 0h2m3 0h3m2 0h4m1 0h3m1 0h2m1 0h2m2 0h2m8 0h1m7 0h4m2 0h1m2 0h2m-451 1h2m2 0h16m1 0h1m2 0h1m3 0h3m1 0h5m1 0h2m1 0h3m1 0h6m2 0h3m1 0h3m79 0h2m6 0h3m1 0h5m2 0h1m11 0h1m5 0h2m12 0h2m3 0h1m39 0h2m65 0h1m4 0h3m3 0h1m1 0h1m6 0h3m5 0h8m1 0h5m2 0h8m1 0h19m6 0h1m2 0h1m3 0h1m5 0h1m2 0h2m4 0h1m3 0h2m3 0h1m2 0h5m2 0h3m4 0h1m3 0h1m1 0h1m6 0h3m5 0h1m-450 1h3m2 0h9m1 0h5m2 0h2m9 0h3m5 0h1m4 0h1m2 0h2m4 0h1m1 0h4m78 0h1m1 0h1m1 0h1m3 0h9m1 0h4m1 0h2m3 0h1m2 0h2m4 0h1m5 0h2m6 0h1m3 0h2m1 0h2m87 0h2m14 0h1m4 0h1m3 0h4m7 0h3m4 0h2m1 0h6m1 0h5m1 0h3m2 0h15m1 0h5m2 0h1m4 0h3m2 0h1m3 0h1m4 0h1m3 0h3m1 0h1m1 0h1m3 0h1m1 0h2m4 0h1m1 0h3m3 0h2m4 0h1m3 0h1m7 0h6m3 0h2m-451 1h4m1 0h15m1 0h2m4 0h3m4 0h3m3 0h3m6 0h3m1 0h7m33 0h1m31 0h2m12 0h1m7 0h1m2 0h2m1 0h2m3 0h4m1 0h2m2 0h1m2 0h1m19 0h2m5 0h1m2 0h1m106 0h2m4 0h1m4 0h1m4 0h4m1 0h9m2 0h2m1 0h13m1 0h4m4 0h2m1 0h7m2 0h1m4 0h3m4 0h1m5 0h2m1 0h2m3 0h2m10 0h6m2 0h1m4 0h2m5 0h2m4 0h2m1 0h1m3 0h1m1 0h3m-452 1h4m1 0h2m1 0h6m1 0h3m1 0h1m1 0h2m5 0h2m3 0h4m4 0h3m2 0h2m1 0h5m1 0h4m58 0h2m6 0h3m11 0h1m3 0h2m8 0h2m3 0h3m29 0h1m9 0h2m73 0h2m30 0h3m2 0h4m2 0h6m1 0h1m4 0h3m2 0h3m1 0h5m2 0h5m2 0h1m2 0h6m1 0h3m1 0h15m6 0h3m4 0h3m3 0h2m3 0h2m3 0h2m1 0h3m1 0h1m1 0h1m1 0h2m2 0h2m7 0h2m3 0h3m3 0h1m2 0h2m-451 1h2m3 0h8m1 0h4m10 0h1m4 0h2m6 0h7m7 0h6m64 0h1m17 0h1m3 0h1m5 0h1m3 0h4m2 0h2m10 0h1m14 0h2m3 0h2m3 0h1m107 0h1m3 0h4m2 0h1m1 0h2m3 0h2m1 0h2m1 0h3m1 0h3m2 0h4m3 0h2m1 0h1m2 0h3m1 0h4m1 0h4m1 0h7m1 0h1m1 0h1m1 0h1m5 0h2m2 0h2m4 0h1m1 0h1m9 0h1m10 0h1m3 0h2m2 0h2m12 0h2m1 0h1m2 0h1m2 0h1m-450 1h3m3 0h2m1 0h5m2 0h2m3 0h2m5 0h2m3 0h2m6 0h1m1 0h2m1 0h4m7 0h3m77 0h1m6 0h1m2 0h2m3 0h8m3 0h1m11 0h1m9 0h1m4 0h2m3 0h3m2 0h2m105 0h3m3 0h1m1 0h1m2 0h1m9 0h1m2 0h7m1 0h4m3 0h14m1 0h10m1 0h4m2 0h2m1 0h2m6 0h3m3 0h1m6 0h1m3 0h2m5 0h3m1 0h1m3 0h3m16 0h1m2 0h1m5 0h2m-451 1h6m1 0h3m3 0h7m1 0h1m6 0h1m3 0h4m5 0h4m1 0h3m1 0h2m1 0h2m1 0h2m32 0h1m34 0h2m12 0h1m7 0h2m5 0h2m1 0h4m1 0h1m4 0h1m5 0h3m14 0h1m4 0h2m3 0h1m106 0h1m5 0h3m9 0h2m1 0h2m1 0h2m3 0h1m2 0h4m2 0h7m2 0h1m1 0h5m1 0h3m2 0h7m3 0h2m7 0h2m1 0h1m2 0h2m12 0h3m4 0h2m2 0h2m1 0h2m18 0h1m2 0h2m4 0h2m-451 1h2m4 0h1m1 0h2m2 0h7m5 0h2m6 0h4m6 0h5m3 0h2m5 0h3m18 0h1m46 0h1m11 0h1m1 0h1m7 0h2m5 0h2m1 0h7m3 0h1m1 0h2m1 0h2m2 0h1m23 0h2m80 0h2m23 0h3m3 0h2m16 0h2m6 0h3m4 0h4m1 0h1m2 0h2m1 0h4m1 0h4m1 0h2m1 0h4m2 0h5m1 0h3m1 0h2m1 0h2m1 0h1m3 0h1m6 0h1m5 0h1m3 0h1m2 0h3m2 0h2m14 0h2m1 0h5m4 0h1m-450 1h3m3 0h1m1 0h2m2 0h3m1 0h2m14 0h5m4 0h1m2 0h2m4 0h2m3 0h5m18 0h2m57 0h1m3 0h1m5 0h2m5 0h1m3 0h3m8 0h1m2 0h2m2 0h1m18 0h1m1 0h2m1 0h1m87 0h1m17 0h2m6 0h1m7 0h2m4 0h4m1 0h1m2 0h4m1 0h3m2 0h3m1 0h2m4 0h10m1 0h5m3 0h2m1 0h1m1 0h2m1 0h2m2 0h1m4 0h2m3 0h2m7 0h2m1 0h2m3 0h1m1 0h2m3 0h2m5 0h1m2 0h5m1 0h1m2 0h1m2 0h2m5 0h2m-452 1h4m6 0h1m2 0h4m5 0h2m9 0h2m8 0h6m1 0h2m1 0h2m1 0h3m79 0h4m12 0h1m3 0h3m1 0h1m1 0h2m6 0h1m16 0h1m4 0h1m1 0h2m2 0h2m105 0h1m1 0h2m3 0h1m7 0h1m2 0h2m3 0h5m1 0h2m1 0h3m1 0h1m1 0h4m1 0h3m2 0h1m1 0h5m1 0h3m1 0h9m4 0h1m2 0h1m3 0h2m1 0h1m3 0h4m8 0h1m9 0h4m2 0h3m7 0h2m7 0h3m4 0h1m-448 1h1m6 0h2m3 0h1m2 0h4m4 0h1m8 0h2m8 0h1m1 0h1m1 0h1m2 0h3m4 0h2m41 0h1m38 0h2m17 0h5m4 0h3m5 0h2m17 0h4m2 0h1m2 0h1m122 0h1m1 0h2m1 0h2m3 0h1m2 0h6m2 0h3m1 0h8m3 0h3m1 0h1m1 0h4m1 0h3m1 0h2m1 0h2m8 0h1m5 0h1m9 0h1m4 0h1m2 0h2m3 0h4m8 0h1m9 0h2m6 0h3m-451 1h5m7 0h1m2 0h3m5 0h2m7 0h2m8 0h1m1 0h3m2 0h3m5 0h3m39 0h1m15 0h1m10 0h1m11 0h2m6 0h1m6 0h6m2 0h2m3 0h2m2 0h2m2 0h1m13 0h2m6 0h1m2 0h2m105 0h1m1 0h1m10 0h3m4 0h2m2 0h2m5 0h3m1 0h2m1 0h1m1 0h1m5 0h12m1 0h6m1 0h5m9 0h1m2 0h1m1 0h1m13 0h1m2 0h1m4 0h1m3 0h5m1 0h2m14 0h2m8 0h1m-450 1h1m2 0h1m8 0h1m2 0h2m6 0h1m8 0h1m9 0h1m1 0h2m2 0h4m3 0h4m45 0h1m32 0h2m7 0h1m6 0h2m2 0h2m2 0h3m10 0h1m14 0h1m3 0h2m1 0h1m2 0h1m105 0h2m5 0h2m6 0h1m5 0h2m2 0h6m1 0h3m1 0h3m1 0h1m5 0h3m1 0h6m1 0h3m1 0h1m1 0h3m3 0h1m1 0h1m5 0h1m5 0h2m6 0h2m7 0h2m1 0h1m4 0h1m1 0h1m1 0h2m1 0h4m2 0h3m2 0h1m1 0h2m5 0h1m1 0h2m-439 1h1m9 0h3m5 0h2m7 0h1m9 0h1m3 0h2m9 0h1m80 0h1m7 0h1m7 0h1m1 0h1m4 0h1m4 0h3m2 0h2m13 0h2m5 0h2m4 0h1m66 0h1m38 0h1m6 0h1m14 0h1m1 0h6m3 0h5m2 0h1m4 0h1m2 0h7m2 0h5m1 0h5m1 0h1m1 0h1m2 0h2m7 0h3m5 0h1m8 0h1m7 0h1m8 0h1m4 0h1m3 0h3m2 0h1m5 0h2m2 0h2m-446 1h2m8 0h2m3 0h1m13 0h2m9 0h2m2 0h2m1 0h2m2 0h4m2 0h2m77 0h1m3 0h2m9 0h1m7 0h2m3 0h2m18 0h1m12 0h2m65 0h1m40 0h2m3 0h2m3 0h2m11 0h2m1 0h5m3 0h1m3 0h2m4 0h1m1 0h11m1 0h2m1 0h5m5 0h3m3 0h4m17 0h3m10 0h2m6 0h1m12 0h1m2 0h1m3 0h1m-442 1h1m6 0h2m17 0h1m1 0h1m8 0h2m1 0h2m5 0h1m1 0h4m80 0h2m2 0h1m10 0h1m2 0h2m4 0h1m8 0h1m23 0h2m2 0h1m91 0h1m15 0h1m4 0h1m9 0h1m7 0h4m1 0h1m3 0h2m2 0h2m4 0h2m2 0h7m1 0h4m2 0h1m1 0h3m6 0h2m2 0h2m9 0h1m1 0h3m8 0h2m11 0h1m3 0h1m15 0h1m3 0h2m2 0h1m-447 1h1m3 0h1m6 0h1m10 0h2m20 0h2m6 0h1m2 0h2m80 0h1m3 0h1m13 0h2m3 0h2m8 0h2m1 0h2m12 0h1m5 0h2m111 0h1m3 0h1m8 0h1m1 0h2m3 0h1m2 0h2m7 0h1m6 0h1m3 0h2m1 0h8m1 0h3m2 0h6m1 0h4m6 0h3m2 0h2m3 0h2m16 0h3m2 0h1m3 0h1m1 0h1m24 0h2m-449 1h3m8 0h1m19 0h1m9 0h1m2 0h2m1 0h4m1 0h1m1 0h2m38 0h2m41 0h2m17 0h2m2 0h3m31 0h5m4 0h2m99 0h2m4 0h1m10 0h1m8 0h1m6 0h1m7 0h1m1 0h2m3 0h6m1 0h2m1 0h2m2 0h6m1 0h2m6 0h1m1 0h1m1 0h1m2 0h1m12 0h1m10 0h3m1 0h2m22 0h1m1 0h1m4 0h2m-448 1h1m10 0h1m18 0h1m13 0h2m1 0h4m5 0h2m77 0h2m14 0h2m2 0h1m3 0h2m8 0h1m2 0h1m14 0h1m6 0h1m2 0h1m105 0h1m16 0h2m6 0h2m7 0h2m5 0h2m3 0h1m1 0h2m1 0h3m1 0h6m1 0h1m1 0h3m2 0h1m3 0h2m2 0h1m5 0h2m6 0h2m4 0h1m2 0h1m3 0h2m7 0h1m7 0h2m15 0h2m-443 1h2m9 0h1m17 0h1m16 0h3m5 0h3m27 0h1m50 0h1m24 0h1m8 0h1m27 0h1m56 0h2m59 0h2m1 0h4m7 0h1m7 0h1m6 0h1m6 0h1m2 0h5m1 0h5m2 0h4m1 0h1m4 0h3m4 0h2m8 0h1m8 0h3m10 0h1m14 0h2m8 0h2m-433 1h1m7 0h2m22 0h1m6 0h3m2 0h2m12 0h2m84 0h3m3 0h1m5 0h2m86 0h1m31 0h1m33 0h2m3 0h1m1 0h3m6 0h3m1 0h2m2 0h1m1 0h4m2 0h5m2 0h5m3 0h3m7 0h2m25 0h1m6 0h2m5 0h2m17 0h2m-439 1h1m20 0h1m16 0h1m5 0h1m1 0h1m7 0h1m33 0h2m64 0h2m5 0h2m19 0h1m4 0h2m8 0h2m87 0h1m18 0h2m8 0h1m1 0h1m2 0h1m4 0h1m1 0h1m8 0h2m1 0h2m4 0h2m1 0h2m4 0h3m1 0h11m7 0h2m59 0h2m-429 1h2m9 0h1m7 0h2m13 0h1m35 0h1m13 0h1m41 0h2m59 0h2m34 0h1m40 0h1m27 0h1m2 0h1m4 0h2m5 0h1m21 0h1m8 0h1m3 0h8m1 0h10m1 0h2m2 0h2m67 0h2m-437 1h2m4 0h2m11 0h1m17 0h1m22 0h1m9 0h1m11 0h2m42 0h1m3 0h1m10 0h2m1 0h2m31 0h1m9 0h1m34 0h2m68 0h1m7 0h1m13 0h2m2 0h2m9 0h2m8 0h1m2 0h12m2 0h3m4 0h2m1 0h3m61 0h2m-442 1h1m9 0h1m5 0h1m12 0h3m13 0h5m13 0h2m27 0h1m44 0h2m1 0h1m10 0h2m1 0h1m135 0h2m14 0h2m2 0h1m6 0h2m1 0h1m3 0h2m13 0h2m8 0h1m1 0h1m2 0h4m1 0h6m2 0h2m8 0h2m5 0h1m2 0h1m-388 1h1m9 0h2m36 0h1m8 0h1m79 0h1m16 0h2m134 0h1m15 0h1m10 0h1m1 0h1m5 0h1m13 0h1m5 0h1m3 0h1m1 0h1m1 0h1m1 0h10m1 0h2m1 0h2m6 0h2m10 0h1m21 0h1m6 0h2m-420 1h1m39 0h2m6 0h3m8 0h1m13 0h1m65 0h1m14 0h1m151 0h2m9 0h2m6 0h2m12 0h1m2 0h1m2 0h2m5 0h5m2 0h1m1 0h3m3 0h3m7 0h1m2 0h2m2 0h1m4 0h1m20 0h2m-372 1h1m16 0h1m15 0h1m12 0h1m67 0h1m40 0h2m118 0h1m1 0h1m2 0h2m3 0h1m19 0h1m4 0h7m1 0h5m1 0h2m1 0h1m4 0h1m11 0h1m14 0h1m-349 1h1m9 0h1m56 0h2m2 0h2m144 0h1m18 0h2m10 0h1m20 0h2m17 0h2m7 0h2m1 0h1m9 0h4m2 0h1m4 0h1m9 0h2m20 0h2m-407 1h3m48 0h2m9 0h1m94 0h1m31 0h1m35 0h3m41 0h2m17 0h1m29 0h2m1 0h1m27 0h1m2 0h3m3 0h2m2 0h3m1 0h1m1 0h4m33 0h1m9 0h2m-416 1h2m4 0h1m36 0h2m5 0h3m49 0h1m121 0h2m17 0h1m24 0h1m48 0h1m2 0h2m8 0h2m16 0h1m2 0h2m2 0h2m4 0h3m2 0h4m34 0h2m38 0h2m-358 1h1m241 0h1m8 0h2m7 0h1m2 0h2m1 0h2m1 0h1m8 0h3m75 0h1m-396 1h1m38 0h1m23 0h2m206 0h2m23 0h2m1 0h1m2 0h1m2 0h1m2 0h1m1 0h1m2 0h2m3 0h1m1 0h1m-370 1h2m14 0h1m31 0h1m63 0h1m80 0h2m11 0h1m111 0h1m21 0h2m6 0h1m2 0h1m2 0h2m1 0h1m6 0h1m4 0h1m12 0h3m21 0h2m-360 1h1m157 0h1m111 0h1m21 0h1m4 0h2m4 0h4m2 0h1m4 0h3m2 0h2" stroke="#ff0000" stroke-width="1" fill="none" transform="translate(0 0.5)"/></g>
<rect x="441.4" y="208.3" width="88.0" height="29.7" rx="2" fill="#fff" fill-opacity="0.8" stroke="#dcdcdc" stroke-width="0.8"/>
<circle cx="454.1" cy="215.4" r="2.2" fill="#0000ff"/>
<circle cx="454.1" cy="228.8" r="2.2" fill="#ff0000"/>
<text x="470.7" y="219.6" class="t l">Observation</text>
<text x="470.7" y="233.0" class="t l">Prediction</text>
<line x1="40.4" y1="204.6" x2="534.4" y2="204.6" stroke="#555555" stroke-width="1.3"/>
<line x1="40.4" y1="345.4" x2="534.4" y2="345.4" stroke="#747474" stroke-width="1.3"/>
<line x1="40.4" y1="204.6" x2="40.4" y2="345.4" stroke="#b8b8b8" stroke-width="1.4"/>
<line x1="534.4" y1="204.6" x2="534.4" y2="345.4" stroke="#a8a8a8" stroke-width="1.3"/>
<line x1="37.8" y1="345.5" x2="40.4" y2="345.5" stroke="#555" stroke-width="1"/>
<text x="36.3" y="349.6" class="t k" text-anchor="end">0</text>
<line x1="37.8" y1="306.3" x2="40.4" y2="306.3" stroke="#555" stroke-width="1"/>
<text x="36.3" y="310.4" class="t k" text-anchor="end">100</text>
<line x1="37.8" y1="267.2" x2="40.4" y2="267.2" stroke="#555" stroke-width="1"/>
<text x="36.3" y="271.3" class="t k" text-anchor="end">200</text>
<line x1="37.8" y1="228.0" x2="40.4" y2="228.0" stroke="#555" stroke-width="1"/>
<text x="36.3" y="232.1" class="t k" text-anchor="end">300</text>
<line x1="62.4" y1="345.4" x2="62.4" y2="348.0" stroke="#555" stroke-width="1"/>
<text x="62.4" y="357.6" class="t k" text-anchor="middle">0</text>
<line x1="156.0" y1="345.4" x2="156.0" y2="348.0" stroke="#555" stroke-width="1"/>
<text x="156.0" y="357.6" class="t k" text-anchor="middle">5,000</text>
<line x1="249.6" y1="345.4" x2="249.6" y2="348.0" stroke="#555" stroke-width="1"/>
<text x="249.6" y="357.6" class="t k" text-anchor="middle">10,000</text>
<line x1="343.2" y1="345.4" x2="343.2" y2="348.0" stroke="#555" stroke-width="1"/>
<text x="343.2" y="357.6" class="t k" text-anchor="middle">15,000</text>
<line x1="436.8" y1="345.4" x2="436.8" y2="348.0" stroke="#555" stroke-width="1"/>
<text x="436.8" y="357.6" class="t k" text-anchor="middle">20,000</text>
<line x1="530.4" y1="345.4" x2="530.4" y2="348.0" stroke="#555" stroke-width="1"/>
<text x="530.4" y="357.6" class="t k" text-anchor="middle">25,000</text>
<text x="288.0" y="369.7" class="t a" text-anchor="middle">Time (res = 10s)</text>
<text transform="translate(14.2 275.6) rotate(-90)" class="t a" text-anchor="middle">Wind Direction (°)</text>
<text x="274.5" y="392.4" class="c" text-anchor="middle">(<tspan font-weight="bold">c</tspan>)</text>
</svg>
</body></html>
